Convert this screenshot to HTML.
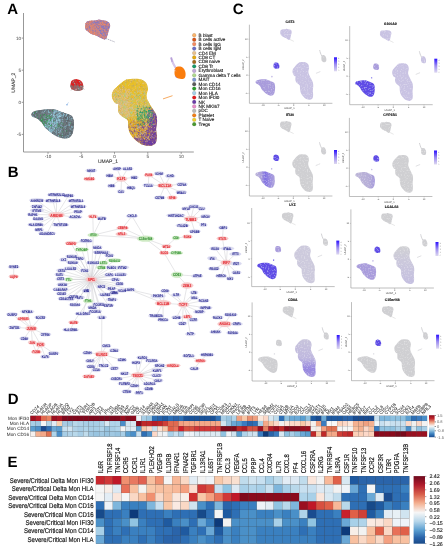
<!DOCTYPE html><html><head><meta charset="utf-8"><style>html,body{margin:0;padding:0;background:#fff;}svg{display:block;font-family:"Liberation Sans",sans-serif;filter:blur(0.35px);text-rendering:geometricPrecision;}</style></head><body>
<svg width="446" height="550" viewBox="0 0 446 550">
<defs><path id="sTop" d="M85.1,26.8 C85.1,26.4 85.4,23.9 85.5,23.6 C85.6,23.3 86.5,21.9 86.7,21.7 C86.9,21.5 88.8,20.8 89.4,20.7 C90.0,20.6 95.1,20.6 95.7,20.5 C96.3,20.4 98.4,19.6 98.8,19.6 C99.2,19.6 101.5,20.2 102.0,20.3 C102.5,20.4 106.2,20.7 106.7,20.9 C107.2,21.1 109.2,22.5 109.4,22.8 C109.6,23.1 110.2,25.6 110.2,26.0 C110.2,26.4 109.1,29.4 109.0,29.9 C108.9,30.4 108.0,33.3 107.9,33.8 C107.8,34.3 106.9,37.4 106.7,37.8 C106.5,38.2 105.0,39.7 104.7,39.7 C104.4,39.7 101.7,38.4 101.2,38.2 C100.7,38.0 97.8,36.4 97.3,36.2 C96.8,36.0 93.7,34.8 93.3,34.6 C92.9,34.5 91.3,34.0 91.0,33.8 C90.7,33.6 88.1,31.8 87.8,31.5 C87.5,31.2 85.7,29.8 85.5,29.5 C85.3,29.2 85.1,27.2 85.1,26.8Z"/><path id="sGray" d="M31.4,114.0 C31.6,113.3 32.1,112.6 33.0,112.0 C33.9,111.4 35.0,111.0 37.0,110.6 C39.0,110.2 42.0,109.7 44.8,109.5 C47.6,109.3 51.4,109.0 53.8,109.3 C56.2,109.6 57.4,110.5 59.4,111.2 C61.4,111.9 64.0,112.7 66.1,113.4 C68.1,114.2 70.5,114.7 71.7,115.7 C72.9,116.7 73.0,118.2 73.4,119.6 C73.8,121.0 74.0,122.3 74.0,124.0 C74.0,125.7 73.7,128.0 73.4,129.7 C73.1,131.4 73.0,132.8 72.3,134.1 C71.6,135.4 70.7,136.8 69.5,137.5 C68.3,138.2 66.7,138.6 65.0,138.6 C63.3,138.6 61.3,138.2 59.4,137.5 C57.5,136.8 55.5,135.7 53.8,134.7 C52.1,133.7 50.6,132.3 49.3,131.3 C48.0,130.3 46.8,129.4 45.9,128.5 C45.0,127.6 44.4,126.6 43.7,125.7 C43.1,124.8 42.6,123.7 42.0,122.9 C41.4,122.1 40.6,121.4 39.8,120.7 C39.0,120.0 38.0,119.1 37.0,118.5 C36.0,117.9 34.5,117.7 33.6,117.3 C32.8,116.9 32.3,116.8 31.9,116.2 C31.5,115.7 31.2,114.7 31.4,114.0Z"/><path id="sBig" d="M121.5,82.8 C122.9,81.7 124.2,80.5 125.5,79.9 C126.8,79.3 127.7,79.4 129.0,79.2 C130.3,79.0 131.6,78.8 133.6,78.8 C135.6,78.8 139.0,78.8 141.1,79.4 C143.2,80.0 144.8,81.0 145.9,82.5 C147.1,84.0 147.9,86.5 148.0,88.6 C148.1,90.6 146.7,93.0 146.6,94.8 C146.5,96.6 146.4,97.3 147.3,99.5 C148.2,101.7 150.5,105.2 152.0,107.7 C153.5,110.2 155.2,112.2 156.1,114.5 C156.9,116.8 157.1,118.9 157.1,121.4 C157.1,123.9 156.1,127.0 156.1,129.5 C156.1,132.0 156.9,134.1 156.8,136.4 C156.7,138.7 156.6,141.6 155.5,143.2 C154.4,144.8 152.3,145.7 150.0,145.9 C147.7,146.1 144.4,145.6 141.8,144.5 C139.2,143.4 136.4,141.1 134.3,139.1 C132.2,137.1 130.5,134.6 129.5,132.3 C128.5,130.0 128.5,127.5 128.2,125.5 C127.9,123.5 128.6,121.6 127.5,120.0 C126.4,118.4 122.9,117.2 121.4,115.9 C119.9,114.7 119.2,113.9 118.6,112.5 C118.0,111.1 118.0,109.1 118.0,107.7 C118.0,106.3 119.1,105.1 118.6,104.3 C118.1,103.5 116.2,103.9 115.2,103.0 C114.2,102.1 113.1,100.3 112.5,98.9 C111.9,97.5 111.7,96.2 111.8,94.8 C111.9,93.4 112.3,92.1 113.2,90.7 C114.1,89.3 115.9,87.9 117.3,86.6 C118.7,85.3 120.1,83.9 121.5,82.8Z"/><path id="sRed" d="M70.6,84.0 C70.8,83.0 70.9,81.7 71.5,81.0 C72.1,80.3 73.0,79.8 74.0,79.6 C75.0,79.3 76.4,79.3 77.5,79.5 C78.6,79.7 79.7,79.9 80.5,80.5 C81.3,81.1 82.1,82.0 82.6,83.0 C83.1,84.0 83.3,85.4 83.3,86.5 C83.3,87.6 83.1,88.8 82.5,89.5 C81.9,90.2 80.7,90.6 79.5,90.8 C78.3,91.0 76.8,90.9 75.5,90.6 C74.2,90.3 72.8,89.8 72.0,89.2 C71.2,88.6 70.7,87.9 70.5,87.0 C70.3,86.1 70.4,85.0 70.6,84.0Z"/><path id="sOr" d="M175.2,68.5 C175.6,67.4 176.1,67.1 177.0,66.8 C177.9,66.5 179.4,66.3 180.4,66.5 C181.4,66.7 182.4,67.2 183.2,68.0 C184.0,68.8 184.8,70.3 185.2,71.5 C185.6,72.7 185.7,73.9 185.6,75.0 C185.5,76.1 185.2,77.3 184.6,78.0 C184.0,78.7 183.0,78.9 182.0,79.0 C181.0,79.1 179.5,78.9 178.5,78.6 C177.5,78.3 176.5,77.8 175.8,77.0 C175.1,76.2 174.6,74.9 174.5,73.5 C174.4,72.1 174.8,69.6 175.2,68.5Z"/><path id="sTail" d="M171,57.5 C172,61 173,64 176,68.5" fill="none"/><path id="sPlt" d="M163,98.9 L172.5,95.7" fill="none"/><path id="sTopTail" d="M106,38.5 L114.8,42" fill="none"/><clipPath id="cBig"><use href="#sBig"/></clipPath><clipPath id="cGray"><use href="#sGray"/></clipPath><clipPath id="cTop"><use href="#sTop"/></clipPath><clipPath id="cRed"><use href="#sRed"/></clipPath><filter id="bz" x="-50%" y="-50%" width="200%" height="200%"><feGaussianBlur stdDeviation="3"/></filter><filter id="bl" x="-5%" y="-5%" width="110%" height="110%"><feGaussianBlur stdDeviation="0.3"/></filter></defs>
<text x="7.2" y="14.3" font-size="15" font-weight="bold" fill="#000">A</text>
<text x="7.8" y="176.8" font-size="15" font-weight="bold" fill="#000">B</text>
<text x="232.8" y="14.3" font-size="15" font-weight="bold" fill="#000">C</text>
<text x="7.8" y="404.3" font-size="15" font-weight="bold" fill="#000">D</text>
<text x="7.6" y="467" font-size="15" font-weight="bold" fill="#000">E</text>
<g stroke="#8c8c8c" stroke-width="0.9" fill="none"><path d="M23.5,13 V152 H193.8"/>
<path d="M21.7,38.1 H23.5"/>
<path d="M21.7,70.2 H23.5"/>
<path d="M21.7,102.3 H23.5"/>
<path d="M21.7,134.4 H23.5"/>
<path d="M48,152 V153.8"/>
<path d="M81.2,152 V153.8"/>
<path d="M114.5,152 V153.8"/>
<path d="M147.8,152 V153.8"/>
<path d="M181.2,152 V153.8"/>
</g>
<g font-size="4.6" fill="#444" text-anchor="end">
<text x="21" y="39.7">10</text>
<text x="21" y="71.8">5</text>
<text x="21" y="103.89999999999999">0</text>
<text x="21" y="136.0">-5</text>
</g><g font-size="4.6" fill="#444" text-anchor="middle">
<text x="48" y="157.6">-10</text>
<text x="81.2" y="157.6">-5</text>
<text x="114.5" y="157.6">0</text>
<text x="147.8" y="157.6">5</text>
<text x="181.2" y="157.6">10</text>
</g>
<text x="108" y="162.6" font-size="5" fill="#333" stroke="#333" stroke-width="0.08" text-anchor="middle">UMAP_1</text>
<text transform="translate(15.2,82.7) rotate(-90)" font-size="5" fill="#333" stroke="#333" stroke-width="0.08" text-anchor="middle">UMAP_2</text>
<g filter="url(#bl)">
<use href="#sTop" fill="#b07c9c"/>
<g clip-path="url(#cTop)">
<path stroke="#e8764c" stroke-width="0.8" stroke-linecap="round" d="M96.5 30.9h0M105.3 25.7h0M97.2 31.1h0M89.7 22.7h0M88.4 26.9h0M102.3 37.7h0M95.6 35.5h0M97.6 32.0h0M101.7 28.5h0M103.1 23.9h0M89.9 32.0h0M103.7 35.9h0M93.0 25.9h0M105.3 24.8h0M87.6 24.6h0M91.1 21.9h0M103.2 33.8h0M97.1 24.8h0M104.9 28.0h0M95.3 21.1h0M96.0 31.0h0M94.5 32.9h0M98.9 23.3h0M103.0 31.1h0M106.8 31.5h0M92.6 33.1h0M107.2 27.3h0M99.4 29.7h0M94.6 33.2h0M104.3 31.3h0M91.6 20.7h0M109.9 25.8h0M98.2 24.7h0M94.4 26.8h0M94.6 20.9h0M88.7 23.7h0M96.7 26.3h0M105.1 24.7h0M92.7 24.5h0M104.4 35.4h0M88.8 25.9h0M98.0 25.8h0M91.1 25.2h0M88.8 31.5h0M104.8 33.7h0M107.6 31.2h0M89.9 28.6h0M105.3 27.5h0M101.5 29.0h0M93.1 34.2h0M109.5 26.8h0M105.0 36.4h0M103.5 20.8h0"/><path stroke="#7b78d0" stroke-width="0.8" stroke-linecap="round" d="M96.8 29.8h0M89.7 29.9h0M105.0 21.5h0M96.7 28.5h0M98.1 32.5h0M106.2 33.8h0M104.3 27.6h0M95.1 21.1h0M104.1 22.0h0M105.1 23.2h0M96.3 23.4h0M90.4 27.5h0M90.5 24.8h0M105.8 31.6h0M86.8 24.2h0M106.5 31.9h0M89.5 27.0h0M101.1 29.3h0M87.0 30.6h0M107.7 34.4h0M105.0 38.0h0M99.5 32.2h0M107.2 34.2h0M103.5 31.3h0M106.1 21.3h0M97.2 24.2h0M88.5 29.6h0M92.0 23.0h0M102.9 31.1h0M96.3 32.3h0M105.4 38.9h0M93.8 33.6h0M100.5 34.8h0M88.4 28.7h0M107.9 27.2h0M103.2 36.0h0M93.8 21.3h0M98.9 35.0h0M89.4 26.3h0M88.6 22.6h0M103.3 36.5h0M92.4 34.2h0M98.2 36.6h0M92.9 27.3h0M107.7 23.8h0M99.5 23.6h0M99.2 29.5h0M107.7 29.2h0M102.3 26.1h0M100.7 21.7h0M94.5 27.9h0M89.1 23.7h0M101.1 30.2h0M107.4 22.3h0M106.0 28.1h0M88.3 27.7h0M85.5 23.6h0M88.0 29.8h0M98.9 29.9h0M96.8 30.0h0M96.5 34.5h0M90.0 22.9h0M105.2 33.8h0M100.9 27.7h0M103.8 35.2h0M107.2 33.6h0M104.3 27.8h0M85.4 26.7h0M101.8 26.4h0M99.4 30.3h0M103.6 24.8h0M108.4 22.8h0M89.3 29.6h0M95.7 30.2h0M94.3 25.3h0M99.2 25.3h0M107.8 28.2h0M109.5 24.5h0M96.2 33.0h0M104.8 32.2h0M91.9 33.4h0M100.0 32.3h0M91.9 28.1h0M98.9 32.3h0M95.8 24.8h0M93.3 30.6h0M108.2 28.2h0M99.3 29.3h0M87.0 23.9h0M87.2 25.7h0M90.0 30.9h0M98.7 36.4h0M98.0 30.5h0M105.3 20.9h0M101.0 22.5h0M104.3 30.1h0M102.0 29.5h0M101.8 36.8h0M101.2 30.1h0M105.2 28.1h0M86.7 28.8h0M92.2 23.1h0M92.9 30.6h0M108.0 26.5h0M105.2 27.3h0M97.0 27.1h0M106.9 30.0h0M98.5 22.6h0M90.3 30.5h0M92.8 29.0h0M93.6 27.5h0M91.5 23.6h0M102.9 23.2h0M95.8 29.9h0M104.3 36.1h0M104.9 32.9h0M101.4 21.7h0M97.9 35.4h0M100.4 22.8h0M107.8 30.6h0M97.7 22.4h0M108.4 26.9h0M98.7 30.9h0M100.2 22.1h0M91.1 31.1h0M92.8 33.1h0M94.7 31.5h0M88.7 27.4h0M99.4 26.3h0M100.2 29.0h0M100.8 33.5h0M106.1 36.8h0M98.3 30.2h0M103.3 37.7h0M96.3 29.7h0M101.8 37.0h0M105.3 24.1h0M95.1 26.8h0M107.7 25.8h0M102.6 38.4h0M91.0 33.0h0M105.3 21.4h0M99.1 32.6h0M101.6 35.3h0M96.2 35.1h0M105.0 24.3h0M90.7 31.3h0M97.6 28.3h0M99.4 30.5h0M86.2 25.9h0M98.3 24.9h0M102.4 36.3h0M86.2 29.4h0M99.0 24.5h0M108.5 26.9h0M86.1 27.7h0M86.6 26.5h0M96.7 27.5h0M94.7 21.1h0M108.6 26.8h0M107.2 26.1h0M98.1 20.7h0M92.9 28.1h0M90.5 33.5h0M94.7 26.2h0M92.1 22.8h0M97.0 23.0h0M95.7 22.6h0M102.7 30.7h0M97.5 31.4h0M99.3 24.9h0M89.8 29.0h0M109.1 26.9h0M100.8 32.1h0M95.5 25.2h0M89.9 24.2h0M97.5 32.7h0M100.8 30.9h0M109.4 26.3h0M107.3 25.9h0M105.8 22.8h0M93.3 23.2h0M86.8 21.7h0M87.9 28.7h0M97.2 22.9h0M91.5 29.8h0M103.1 26.2h0M104.2 36.5h0M99.3 28.1h0M100.7 36.3h0M88.2 27.2h0M102.4 28.0h0M98.7 29.3h0M106.2 25.3h0M94.9 33.6h0M99.3 22.5h0M92.0 24.2h0M97.3 27.9h0M95.0 20.8h0M105.4 35.5h0M99.6 24.2h0M94.4 32.8h0M103.7 23.8h0M90.6 27.8h0M89.6 25.1h0M100.6 37.4h0M100.9 29.7h0M102.4 28.7h0M100.2 31.1h0M96.3 31.5h0M108.5 22.7h0M97.4 24.3h0M105.9 35.6h0M105.4 28.7h0M106.8 23.5h0M101.3 21.1h0M105.2 36.8h0M105.1 22.7h0M100.9 37.2h0M100.9 25.2h0M103.6 26.8h0M95.3 22.5h0M95.4 28.8h0M108.7 26.6h0M107.0 25.4h0M94.8 34.5h0M96.4 20.9h0M92.5 33.6h0M107.6 24.7h0M106.4 31.5h0M103.2 33.1h0M96.9 26.9h0M93.0 33.1h0M105.9 32.7h0M96.7 27.7h0M105.5 34.3h0M93.9 30.4h0M98.0 25.5h0M90.6 28.7h0M98.3 27.8h0M93.4 29.4h0M95.0 25.6h0M97.1 26.8h0M96.4 20.6h0M86.6 30.2h0M94.4 25.9h0M109.2 26.9h0M94.4 25.7h0M99.9 25.9h0M105.1 28.2h0M95.2 25.3h0M106.0 26.2h0M105.7 35.4h0M103.6 28.0h0M90.4 27.9h0M106.2 22.1h0M97.0 20.2h0M97.5 33.5h0M104.6 21.7h0M93.8 22.9h0M99.9 30.1h0M99.5 36.5h0M105.8 27.2h0M96.0 32.0h0M104.0 21.7h0M102.6 31.0h0M103.1 25.4h0M92.3 25.2h0M107.0 22.8h0M106.6 31.8h0M103.5 30.3h0M103.4 38.6h0M102.3 36.8h0M98.2 21.2h0M97.6 23.6h0M99.2 22.3h0M97.4 31.5h0M105.9 33.4h0M99.7 34.8h0M105.0 39.2h0M91.7 31.4h0M93.5 33.2h0M93.4 34.2h0M104.7 26.4h0M94.6 25.4h0M103.7 29.2h0M102.1 37.3h0M108.9 28.7h0M88.2 30.2h0M99.3 34.9h0M104.2 38.2h0M89.1 26.2h0M100.2 36.6h0M89.2 23.1h0M97.6 32.7h0M99.7 28.0h0M92.3 23.0h0M102.4 26.6h0M97.6 25.0h0M97.6 29.3h0M109.5 25.2h0M97.7 28.2h0M108.8 29.4h0M105.1 33.9h0M105.2 23.1h0M100.7 22.1h0M101.1 29.5h0M90.8 32.7h0M102.5 30.0h0M91.9 23.4h0M102.3 38.5h0M106.7 30.4h0M101.2 27.9h0M88.2 28.3h0M104.2 30.8h0M98.3 23.4h0M86.5 22.6h0M91.9 34.1h0M101.4 33.8h0M96.0 21.7h0M88.3 28.2h0M103.8 27.7h0M106.5 29.4h0M106.8 29.8h0M102.9 28.6h0M104.5 28.7h0M107.2 28.7h0M104.8 27.7h0M103.7 25.6h0M101.9 28.3h0M100.5 24.0h0M99.7 36.1h0M94.9 31.5h0M104.2 34.6h0M91.4 33.8h0M92.0 31.0h0M97.5 23.0h0M107.5 32.9h0M100.3 28.9h0M109.0 26.7h0M87.0 25.6h0M102.4 36.3h0M92.0 26.8h0M85.7 27.1h0M88.1 21.3h0M103.6 24.9h0M102.8 33.7h0M107.1 24.0h0M93.0 28.5h0M90.7 24.1h0M105.9 38.0h0M89.4 26.7h0M107.0 24.2h0M101.8 33.6h0M96.8 25.4h0M107.4 34.8h0M101.7 33.5h0M95.5 27.4h0M96.9 30.2h0M105.1 32.1h0M106.1 33.3h0M103.8 28.7h0M106.1 21.1h0M96.0 34.9h0M99.7 23.1h0M99.1 21.6h0M93.2 24.8h0M89.7 32.4h0M99.2 27.3h0M91.1 25.4h0M101.9 32.2h0M97.4 27.3h0M109.8 27.1h0M89.6 29.7h0M106.3 32.1h0M88.9 31.0h0M99.8 27.5h0M92.2 25.5h0M89.8 27.5h0M103.7 37.0h0M88.7 27.7h0M92.1 26.1h0M109.9 24.9h0M102.5 23.4h0M101.1 20.9h0M90.9 29.3h0M95.5 23.3h0M86.0 28.8h0M102.3 30.6h0M94.4 21.9h0M89.2 20.9h0M88.3 31.7h0M93.7 22.0h0M103.4 37.4h0M99.7 36.9h0M109.6 25.4h0M97.1 24.9h0M88.4 31.8h0M92.4 28.8h0M97.2 27.6h0M95.7 31.7h0M103.9 20.9h0M90.5 28.6h0M93.5 22.5h0M108.1 23.8h0M97.8 22.4h0M104.2 26.4h0M102.6 34.2h0M105.8 29.6h0M100.1 31.9h0M95.4 27.0h0M93.9 26.7h0M105.2 33.2h0M93.0 21.6h0M108.2 25.7h0M88.0 22.5h0M105.4 21.4h0M87.5 21.5h0M101.3 29.1h0M101.9 22.8h0M95.5 30.0h0M102.4 31.1h0M92.9 28.4h0M99.3 25.2h0M98.8 21.5h0M86.8 25.0h0M99.9 33.0h0M98.2 23.7h0M88.6 23.6h0M94.6 22.8h0M93.9 24.4h0M103.2 35.2h0M96.5 33.4h0M88.5 31.5h0M103.6 25.7h0M94.0 29.1h0M86.4 27.9h0M107.2 26.8h0M104.8 30.8h0M93.7 34.7h0M103.3 33.1h0M98.5 31.2h0M104.0 32.0h0M104.0 29.4h0M103.5 37.3h0M92.0 21.2h0M98.3 20.3h0M93.6 21.7h0M96.3 25.1h0M97.0 28.3h0M101.2 31.8h0M87.4 23.8h0M91.0 24.5h0M103.1 29.1h0M106.2 36.7h0"/><path stroke="#a08cc0" stroke-width="0.8" stroke-linecap="round" d="M102.5 20.4h0M101.2 21.6h0M106.4 33.9h0M107.2 35.6h0M108.8 29.5h0M100.8 24.3h0M102.7 34.9h0M98.9 29.8h0M103.9 20.6h0M104.6 30.3h0M89.9 24.6h0M94.4 32.7h0M95.0 26.4h0M106.0 37.5h0M98.0 25.1h0M97.2 29.0h0M95.0 28.9h0M95.2 33.7h0M85.9 23.2h0M104.0 29.4h0M88.2 30.4h0M102.3 30.1h0M99.3 35.9h0M102.6 33.4h0M100.6 35.0h0M105.9 35.0h0M93.0 34.4h0M102.1 28.7h0M92.2 28.5h0M88.1 25.8h0M99.8 29.3h0M93.5 22.6h0M97.3 30.8h0M93.5 33.7h0M100.5 31.9h0M87.3 30.0h0M88.1 25.1h0M102.5 34.8h0M94.0 30.2h0M91.0 29.1h0M91.4 30.5h0M93.3 34.2h0M99.4 31.8h0M86.2 26.7h0M89.2 29.1h0M89.8 29.6h0M104.3 21.9h0M99.5 33.2h0M100.4 37.2h0M86.3 22.8h0M104.1 36.0h0M108.2 31.7h0M108.6 23.0h0M92.4 28.0h0M97.0 27.1h0M101.1 22.5h0M90.4 24.1h0"/><path stroke="#f08c64" stroke-width="0.8" stroke-linecap="round" d="M100.6 22.8h0M98.4 20.8h0M101.7 28.8h0M90.9 25.4h0M104.6 25.0h0M88.0 28.1h0M93.4 25.6h0M91.2 31.7h0M105.6 24.6h0M103.7 38.5h0M100.2 28.1h0M91.1 33.8h0M108.1 23.7h0M91.9 28.6h0M102.4 31.3h0M99.7 31.8h0M92.7 33.2h0M93.3 33.0h0M94.7 31.3h0M92.0 23.9h0M100.8 29.5h0M96.5 21.1h0M88.5 28.7h0M105.9 24.4h0M90.1 29.2h0M103.0 23.2h0M105.0 37.8h0M96.7 32.7h0M98.6 35.5h0M87.3 24.1h0M97.7 31.8h0M86.8 30.4h0M91.9 29.1h0M85.7 23.5h0M88.2 29.9h0M90.1 30.3h0M100.5 36.8h0M103.3 24.8h0M97.7 33.4h0M86.9 21.7h0M88.8 23.3h0M96.7 35.0h0M102.7 36.6h0M86.9 26.5h0M86.4 23.5h0M101.1 35.9h0M100.1 34.9h0M105.6 31.7h0M100.8 28.8h0M86.4 30.2h0M91.7 31.3h0M87.7 30.5h0M97.1 23.8h0M103.8 36.5h0M100.8 35.1h0M102.5 25.3h0M94.1 34.2h0M92.7 26.0h0M91.3 26.9h0M94.2 27.6h0M107.2 25.3h0M104.9 21.3h0M103.6 37.7h0M101.4 24.5h0M89.3 23.7h0M86.6 25.8h0M101.4 35.2h0M87.8 23.3h0M100.0 24.1h0M109.1 29.3h0M101.6 24.4h0M103.0 31.8h0M89.0 26.1h0M106.3 36.1h0M91.9 34.0h0M99.8 36.8h0M92.9 25.8h0M94.1 33.4h0M105.9 32.7h0M94.6 33.9h0M99.3 28.8h0M90.3 32.0h0M94.5 30.4h0M99.2 34.1h0M105.9 21.5h0M106.1 31.5h0M90.8 22.8h0M93.4 27.9h0M85.6 26.3h0M103.1 36.4h0M90.1 21.3h0M99.6 33.6h0M89.8 30.6h0M85.5 23.6h0M89.5 30.0h0M107.8 26.0h0M100.1 34.7h0M100.0 21.0h0M98.3 24.4h0M95.0 24.3h0M92.6 26.1h0M97.0 23.8h0M94.0 29.1h0M90.2 32.3h0M106.9 33.9h0M87.1 24.1h0M102.9 23.5h0M99.9 24.2h0M92.0 32.5h0M98.4 30.3h0M100.2 25.3h0M104.1 24.5h0M96.7 34.7h0M108.4 29.6h0M89.2 31.8h0M89.6 22.7h0M91.1 22.5h0M89.4 24.7h0M86.6 27.9h0M96.5 34.6h0M88.7 27.5h0M95.8 21.1h0M103.5 24.2h0M90.5 26.6h0M98.9 22.9h0M90.5 29.0h0M102.1 36.9h0M94.2 25.1h0M89.7 24.9h0M91.8 26.9h0M103.3 37.8h0M93.2 27.3h0M88.9 31.6h0M101.8 22.6h0M92.1 33.9h0M90.8 25.5h0M91.0 32.3h0M95.8 27.5h0M91.1 21.5h0M85.7 27.5h0M86.7 27.7h0M93.3 24.7h0M97.8 25.8h0M98.7 27.5h0M97.4 30.9h0M98.5 24.4h0M94.9 34.0h0M90.9 23.3h0M103.0 22.0h0M105.2 22.6h0M91.4 29.4h0M94.3 24.8h0M92.9 21.2h0M101.6 32.1h0M106.0 34.2h0M94.1 34.7h0M95.2 33.8h0M94.3 32.4h0M93.2 21.5h0M98.8 33.3h0M87.8 22.5h0M97.7 27.7h0M108.9 26.1h0M94.6 32.5h0M95.6 27.3h0M106.9 33.9h0M104.9 29.5h0M106.0 22.0h0M100.6 37.7h0M90.0 33.0h0M85.5 26.4h0M102.5 23.2h0M102.5 29.0h0M100.4 26.8h0M91.0 31.2h0M91.2 27.9h0M87.3 26.9h0M90.4 27.0h0M95.0 34.5h0M100.7 34.5h0M88.1 29.0h0M92.7 29.8h0M99.4 22.2h0M91.3 27.9h0M103.5 33.9h0M98.4 20.2h0M101.2 36.6h0M95.5 21.2h0M91.6 27.0h0M95.1 24.1h0M98.1 34.8h0M87.4 24.7h0M96.2 34.7h0M96.3 28.4h0M93.1 34.4h0M101.8 30.6h0M89.3 31.4h0M93.3 33.6h0M99.5 24.8h0M96.5 29.4h0M104.3 35.8h0M104.8 24.0h0M98.5 31.9h0M103.3 24.9h0M91.5 25.5h0M88.4 29.3h0M91.0 28.7h0M99.3 26.6h0M87.7 31.0h0M89.7 30.2h0M95.6 29.4h0M95.3 26.3h0M89.5 22.6h0M97.1 35.4h0M91.1 32.8h0M89.7 24.3h0M104.9 30.5h0M104.3 24.5h0M108.8 23.5h0M86.9 23.3h0M86.3 25.8h0M90.7 21.1h0M104.2 27.7h0M91.6 32.0h0M97.0 32.1h0M106.5 37.3h0M91.0 31.3h0M108.9 25.3h0M98.0 27.2h0M101.0 28.9h0M97.7 26.5h0M107.0 25.8h0M104.5 26.3h0M98.2 29.4h0M103.8 24.6h0M99.7 24.5h0M91.9 33.6h0M102.2 32.0h0M102.9 22.2h0M86.9 27.5h0M88.1 25.7h0M96.1 28.7h0M100.8 27.9h0M93.7 33.9h0M95.5 35.0h0M105.3 28.0h0M108.5 24.6h0M105.7 36.9h0M93.7 28.4h0M98.7 31.3h0M100.2 36.9h0M102.6 23.1h0M94.0 26.8h0M92.4 24.8h0M92.9 31.5h0M96.9 29.9h0M104.9 37.5h0M85.7 25.7h0M94.9 32.5h0M107.7 33.2h0M96.3 30.5h0M99.6 32.3h0M90.6 32.8h0M103.3 34.8h0M88.6 23.7h0M102.0 20.9h0M103.1 29.5h0M104.3 31.0h0M85.9 23.4h0M104.2 34.1h0M105.8 22.6h0M107.1 27.3h0M92.3 23.4h0M90.1 32.5h0M89.3 30.4h0M94.8 29.1h0M100.5 23.5h0M94.7 33.8h0M102.8 37.9h0M90.1 30.8h0M95.7 26.0h0M96.7 33.4h0M104.7 39.0h0M100.6 22.9h0M85.7 24.2h0M101.0 29.0h0M97.9 29.9h0M86.3 27.6h0M102.1 22.6h0M96.3 25.5h0M107.4 23.9h0M107.3 29.3h0M104.9 23.8h0M100.2 29.1h0M91.3 30.7h0M88.1 21.5h0M94.3 27.0h0M95.3 32.6h0M94.8 32.5h0M94.0 29.1h0M92.4 28.1h0M101.1 35.7h0M89.9 22.0h0M105.0 31.7h0M96.5 31.6h0M86.0 28.1h0M106.9 31.1h0M105.8 21.5h0M91.6 33.2h0M90.3 22.0h0M107.9 29.1h0M96.6 29.0h0M93.3 31.0h0M86.2 27.4h0M93.0 27.0h0M94.7 23.1h0M104.9 21.3h0M88.1 25.7h0M106.2 33.3h0M97.9 20.6h0M100.0 36.1h0M93.6 24.2h0M95.1 31.0h0M93.5 29.5h0M91.9 20.6h0M92.6 21.9h0M98.3 20.1h0M105.7 36.8h0M89.2 30.9h0M87.9 26.3h0M90.8 24.5h0M110.0 25.9h0M107.6 24.9h0M104.4 29.8h0M98.3 32.9h0"/>
</g>
<use href="#sTopTail" stroke="#9a9aac" stroke-width="0.8" stroke-dasharray="1.2 0.8"/>
<path d="M98.8,19.4 v1.2" stroke="#b8a8d8" stroke-width="0.8"/>
<use href="#sRed" fill="#cf3434"/>
<g clip-path="url(#cRed)">
<ellipse cx="78" cy="91" rx="7" ry="4" fill="#808080" filter="url(#bz)" opacity="0.95"/>
<path stroke="#e41a1c" stroke-width="1.0" stroke-linecap="round" d="M77.8 80.3h0M81.2 89.0h0M79.4 83.7h0M73.1 84.6h0M77.5 80.7h0M75.6 82.3h0M73.3 84.2h0M82.2 87.1h0M78.4 83.5h0M71.4 87.0h0M76.4 79.7h0M82.0 84.0h0M75.6 82.6h0M71.7 83.0h0M73.0 85.5h0M82.0 82.8h0M77.2 82.5h0M71.3 83.4h0M80.4 81.3h0M78.5 86.3h0M82.9 85.3h0M73.3 82.9h0M77.9 80.4h0M79.7 85.5h0M76.2 79.8h0M79.2 80.8h0M79.5 83.2h0M77.9 84.2h0M78.0 80.2h0M73.5 82.0h0M70.9 85.1h0M81.1 85.5h0M77.4 80.1h0M75.0 80.4h0M73.1 84.4h0M78.9 80.6h0M71.2 84.5h0M75.5 88.5h0M73.0 84.9h0M77.6 80.5h0M75.8 80.1h0M72.0 86.8h0M80.8 88.8h0M74.4 81.1h0M80.8 81.9h0M74.0 86.5h0M72.4 85.9h0M76.4 80.4h0M76.4 84.5h0M72.4 84.7h0M78.1 82.4h0M73.1 81.8h0M78.8 83.0h0M71.8 88.3h0M80.2 82.6h0M77.5 85.4h0M77.6 82.2h0M76.3 81.5h0M71.6 82.1h0M73.1 81.7h0M77.2 81.4h0M78.3 82.8h0M79.3 81.9h0M75.3 84.4h0M80.5 84.4h0M79.0 85.8h0M82.9 84.9h0M77.0 83.5h0M79.6 81.4h0M72.6 83.5h0M77.4 84.8h0M77.5 89.3h0M78.8 85.0h0"/><path stroke="#7a7a7a" stroke-width="1.0" stroke-linecap="round" d="M71.3 87.8h0M76.2 87.1h0M79.8 88.6h0M81.6 86.4h0M79.2 89.8h0M78.7 89.3h0M78.1 89.1h0M72.1 86.3h0M80.9 88.2h0M78.1 89.3h0M71.4 87.1h0M74.6 87.0h0M81.8 88.7h0M71.0 85.4h0M74.0 82.7h0M75.0 88.2h0M71.1 86.4h0M75.2 90.2h0M70.9 86.4h0M71.1 87.4h0M79.3 88.9h0M74.3 80.0h0M73.9 88.8h0M77.6 85.6h0M82.6 87.3h0M82.5 89.1h0M72.7 87.7h0M80.8 86.3h0M72.2 86.2h0M79.2 88.6h0M82.2 88.9h0M76.6 90.6h0M80.2 89.5h0M79.2 90.3h0M81.0 87.9h0M80.6 85.9h0M75.9 81.1h0M78.3 89.3h0M72.5 82.6h0M78.0 86.8h0M77.7 84.1h0M70.7 86.0h0M78.4 89.8h0M74.1 86.4h0M80.2 82.4h0M79.2 89.6h0M82.7 86.1h0M71.0 86.4h0M82.4 88.9h0M83.0 86.3h0M78.5 86.1h0M75.4 85.9h0M78.7 89.3h0M75.2 84.4h0M77.6 87.2h0M74.3 86.0h0M78.2 86.6h0M78.0 90.5h0M77.5 88.2h0M83.2 86.5h0M78.1 87.6h0M78.2 86.7h0M79.1 87.5h0M76.2 86.7h0M80.6 86.3h0M82.7 86.3h0"/><path stroke="#b0b0b0" stroke-width="1.0" stroke-linecap="round" d="M78.3 88.6h0M81.1 86.6h0M74.7 83.5h0M80.8 83.3h0M80.1 89.0h0M82.8 88.0h0M73.6 81.3h0M76.0 89.3h0M76.0 89.0h0M76.1 89.5h0M79.7 81.6h0"/>
</g>
<path d="M72,89 l-1,1.5 M83,88 l1.2,1.6" stroke="#999" stroke-width="0.6"/>
<circle cx="67" cy="104.7" r="0.8" fill="#7aa8e0"/><path d="M67.3,104 l1.2,-1.6" stroke="#9cc0e8" stroke-width="0.6"/>
<use href="#sGray" fill="#69737a"/>
<g clip-path="url(#cGray)">
<ellipse cx="52" cy="123" rx="6" ry="14" transform="rotate(-35 52 123)" fill="#8ec4d4" opacity="0.6" filter="url(#bz)"/>
<ellipse cx="47" cy="121" rx="3.5" ry="3" fill="#4aa060" opacity="0.4" filter="url(#bz)"/>
<path stroke="#5a646a" stroke-width="0.8" stroke-linecap="round" d="M38.2 116.1h0M71.9 131.1h0M43.1 110.2h0M32.2 114.1h0M70.2 129.0h0M47.3 123.4h0M70.8 123.4h0M52.3 132.9h0M67.1 132.3h0M52.4 121.0h0M42.2 121.1h0M51.8 130.9h0M64.1 116.2h0M39.3 111.3h0M69.1 118.6h0M62.3 137.8h0M53.5 120.0h0M66.9 114.5h0M52.5 133.2h0M56.4 130.2h0M68.6 114.6h0M71.6 123.0h0M37.8 116.7h0M57.3 128.6h0M47.5 119.1h0M49.0 126.7h0M72.2 119.5h0M60.1 112.0h0M39.0 118.2h0M43.6 112.6h0M53.7 131.5h0M34.8 113.4h0M54.4 113.8h0M62.6 126.9h0M50.3 129.2h0M54.4 129.3h0M49.6 124.7h0M62.6 134.5h0M66.8 128.4h0M53.1 122.8h0M42.8 114.8h0M62.9 118.3h0M57.9 128.0h0M58.2 116.0h0M31.8 114.4h0M63.9 117.2h0M68.8 119.4h0M50.1 115.6h0M54.9 118.7h0M43.4 122.9h0M66.5 115.3h0M50.6 110.8h0M65.2 119.8h0M58.1 113.1h0M65.8 124.9h0M45.1 110.8h0M68.5 118.0h0M34.8 111.6h0M55.5 114.3h0M34.4 113.3h0M50.5 114.4h0M40.8 121.3h0M57.1 116.3h0M67.8 115.5h0M72.6 127.6h0M34.3 116.4h0M70.8 135.3h0M46.4 114.4h0M71.5 118.1h0M34.4 115.5h0M66.3 136.4h0M63.5 117.9h0M43.3 112.3h0M45.1 113.7h0M60.6 133.2h0M64.4 130.9h0M49.1 119.1h0M36.8 117.2h0M35.4 117.6h0M45.7 119.6h0M62.8 120.1h0M48.8 130.5h0M33.1 116.3h0M60.6 135.3h0M39.4 118.5h0M45.7 121.9h0M40.4 118.6h0M50.1 115.8h0M72.5 127.9h0M70.5 133.8h0M67.7 114.4h0M45.1 110.7h0M66.2 123.3h0M43.9 112.1h0M55.1 131.1h0M70.4 125.3h0M66.1 135.2h0M69.0 137.4h0M64.7 137.0h0M55.7 130.0h0M64.7 130.2h0M58.3 135.2h0M62.7 130.9h0M48.8 123.6h0M69.8 120.2h0M58.4 121.9h0M44.8 119.0h0M46.5 127.5h0M68.3 117.3h0M57.9 116.1h0M68.7 134.2h0M46.0 112.0h0M56.9 128.5h0M56.5 129.7h0M35.1 112.7h0M59.9 131.0h0M53.1 109.8h0M32.8 112.7h0M71.0 126.1h0M36.3 117.7h0M67.8 133.7h0M63.6 114.1h0M59.4 127.6h0M52.4 132.8h0M60.8 121.1h0M66.6 129.2h0M72.5 129.8h0M40.2 120.1h0M72.4 123.7h0M54.1 114.2h0M60.4 124.4h0M63.0 127.4h0M38.5 118.0h0M63.8 120.8h0M70.6 135.1h0M70.4 115.9h0M57.7 119.5h0M51.4 128.0h0M46.8 119.4h0M47.1 110.4h0M36.4 118.2h0M61.1 133.8h0M68.0 131.6h0M61.6 124.4h0M44.3 124.1h0M59.4 117.4h0M41.5 118.9h0M44.7 109.8h0M54.1 132.5h0M45.5 118.3h0M64.3 128.3h0M61.4 135.0h0M68.9 125.4h0M56.9 131.2h0M69.0 131.8h0M50.4 117.0h0M69.0 129.5h0M59.0 134.1h0M70.8 121.3h0M64.5 127.0h0M65.3 113.6h0M62.6 128.4h0M54.2 109.7h0M69.2 130.3h0M63.9 125.7h0M71.1 121.3h0M46.0 127.2h0M43.8 120.5h0M33.1 115.6h0M46.6 109.8h0M62.1 130.1h0M60.0 134.7h0M62.9 129.7h0M64.2 123.5h0M53.7 131.4h0M55.8 117.7h0M58.0 115.9h0M66.8 117.8h0M68.4 121.2h0M67.9 129.2h0M62.9 119.8h0M50.0 110.7h0M64.3 136.7h0M40.4 120.2h0M37.1 118.5h0M64.2 130.5h0M53.8 121.2h0M62.3 126.0h0M45.1 118.9h0M66.2 129.1h0M61.7 135.2h0M35.0 113.1h0M70.9 125.9h0M58.4 124.0h0M50.4 124.0h0M38.0 114.5h0M62.9 128.4h0M55.7 113.2h0M38.9 112.2h0M67.9 125.0h0M53.8 126.1h0M73.4 125.3h0M66.8 134.1h0M70.9 133.1h0M45.2 115.4h0M55.3 122.5h0M65.5 127.7h0M59.3 116.6h0M58.5 134.4h0M38.4 116.9h0M60.6 112.4h0M72.0 127.7h0M62.0 124.2h0M50.0 110.0h0M44.2 114.0h0M72.7 125.4h0M67.0 131.6h0M59.9 129.1h0M69.9 118.5h0M61.9 119.8h0M73.7 122.3h0M32.2 114.0h0M64.0 127.7h0M37.2 115.3h0M59.3 130.4h0M66.5 119.7h0M72.7 122.7h0M37.8 116.3h0M42.4 117.2h0M50.1 122.6h0M43.1 123.4h0M36.0 113.1h0M72.5 126.7h0M65.7 117.0h0M44.5 124.4h0M47.9 112.7h0M68.6 135.5h0M63.1 136.4h0M67.8 121.0h0M59.7 127.5h0M39.8 114.8h0M60.7 119.8h0M37.7 116.3h0M71.4 116.2h0M49.1 111.1h0M36.5 116.8h0M63.3 126.6h0M48.0 128.4h0M47.6 110.0h0M49.1 115.3h0M64.0 129.6h0M54.7 132.7h0M51.4 127.7h0M58.6 126.8h0M65.4 125.3h0M66.1 130.1h0M36.7 113.6h0M62.4 138.0h0M72.6 128.3h0M73.0 124.6h0M41.5 120.6h0M52.1 117.8h0M52.6 110.2h0M43.6 120.4h0M70.9 131.9h0M32.5 115.7h0M66.2 129.0h0M65.3 134.8h0M66.8 121.0h0M45.2 126.7h0M69.0 130.2h0M54.1 133.8h0M70.9 132.8h0M60.9 135.7h0M52.6 127.8h0M56.0 129.6h0M54.4 120.9h0M67.0 131.5h0M54.4 118.7h0M32.3 113.7h0M46.3 110.0h0M44.3 112.6h0M42.4 120.1h0M66.0 114.8h0M42.3 114.8h0M63.4 130.7h0M58.7 132.8h0M45.0 124.4h0M62.1 127.0h0M54.6 117.5h0M73.5 128.5h0M67.5 126.4h0M65.0 115.5h0M57.5 135.0h0M70.1 117.3h0M45.4 113.2h0M56.2 111.7h0M43.7 119.8h0M41.6 116.2h0M69.2 117.0h0M53.8 122.8h0M44.6 119.9h0M56.8 135.6h0M72.7 128.2h0M40.4 120.8h0M47.4 120.1h0M64.6 116.7h0M60.2 135.4h0M69.3 123.6h0M67.4 120.5h0M64.1 124.2h0M58.5 135.5h0M64.4 129.3h0M57.0 117.0h0M56.6 129.5h0M59.1 133.4h0M36.5 115.5h0M41.9 117.4h0M45.2 113.1h0M67.1 114.3h0M59.9 124.0h0M63.4 133.9h0M39.7 113.2h0M72.3 131.4h0M48.3 125.4h0M33.9 114.9h0M72.9 123.1h0M55.0 133.7h0M52.7 129.0h0M62.6 132.0h0M37.5 115.5h0M64.1 117.6h0M38.0 118.2h0M45.6 118.0h0M73.3 127.5h0M47.0 117.4h0M68.8 117.5h0M64.6 118.2h0M50.2 115.4h0M70.9 135.6h0M44.9 119.2h0M62.1 121.9h0M63.6 132.1h0M65.2 131.2h0M59.5 125.1h0M63.1 115.3h0M38.1 115.5h0M49.0 119.2h0M72.9 129.9h0M64.2 133.7h0M67.3 126.9h0M49.7 127.1h0M63.6 120.3h0M69.3 122.1h0M59.9 121.7h0M67.9 115.4h0M65.7 113.8h0M60.7 127.5h0M54.4 115.5h0M59.7 131.1h0M65.3 117.3h0M62.3 119.5h0M45.1 120.0h0M43.1 114.7h0M58.1 117.5h0M70.8 126.1h0M64.9 132.9h0M62.8 122.6h0M72.0 132.0h0M66.0 117.0h0M41.9 116.9h0M68.0 130.2h0M72.9 128.8h0M55.7 131.9h0M50.4 112.7h0M44.8 119.8h0M70.7 119.4h0M46.2 118.0h0M48.8 115.6h0M39.6 113.7h0M60.5 122.9h0M71.7 120.1h0M67.2 123.6h0M40.6 119.2h0M66.9 133.6h0M46.8 119.7h0M71.6 131.1h0M51.1 131.4h0M46.5 123.4h0M50.9 119.6h0M56.5 122.1h0M49.5 123.4h0M47.9 116.7h0M49.7 118.4h0M64.6 121.6h0M64.1 117.5h0M66.0 122.8h0M65.0 126.2h0M64.6 127.9h0M71.2 131.8h0M49.7 121.1h0M46.9 119.7h0M46.8 115.0h0M68.0 115.5h0M45.4 118.6h0M52.2 125.7h0M70.6 134.8h0M50.8 116.5h0M42.7 115.3h0M46.1 120.1h0M59.6 133.9h0M40.3 120.7h0M52.4 132.6h0M67.0 133.7h0M68.8 120.4h0M57.8 125.9h0M45.9 119.7h0M43.1 119.9h0M66.3 131.5h0M42.8 123.8h0M35.8 117.7h0M53.1 132.5h0M65.6 116.6h0M38.7 115.9h0M55.7 126.8h0M67.6 115.5h0M68.1 124.6h0M60.7 134.6h0M51.9 124.3h0M65.4 115.7h0M57.2 130.0h0M56.7 132.0h0M73.3 120.6h0M60.9 125.9h0M61.0 135.1h0M43.3 112.8h0M47.5 116.4h0M65.8 131.2h0M42.9 120.9h0M63.5 119.9h0M66.1 116.2h0M57.6 134.1h0M58.9 133.3h0M67.2 135.1h0M66.9 133.6h0M67.1 136.7h0M39.3 119.3h0M52.3 124.4h0M66.2 122.6h0M41.2 111.2h0M66.8 131.2h0M67.9 119.9h0M70.9 135.0h0M40.7 110.4h0M43.9 123.8h0M72.6 119.2h0M71.9 124.5h0M66.8 118.4h0M70.8 118.1h0M59.5 136.2h0M70.5 132.5h0M50.2 111.3h0M63.1 132.6h0M68.1 119.0h0M69.3 124.4h0M56.9 130.5h0M38.0 118.8h0M37.5 117.5h0M70.3 130.4h0M62.0 116.7h0M47.2 119.1h0M41.8 115.5h0M49.5 123.4h0M34.7 115.2h0M56.9 131.7h0M60.4 132.7h0M52.5 131.2h0M58.6 113.4h0M71.6 125.5h0M40.4 110.6h0M36.7 114.4h0M73.2 120.1h0M65.0 131.7h0M52.0 127.0h0M59.0 136.3h0M47.3 122.0h0M72.4 124.0h0M46.4 114.8h0M46.5 128.1h0M62.8 132.8h0M41.2 111.9h0M54.0 130.7h0M49.9 110.5h0M52.8 113.9h0M66.1 118.6h0M56.8 111.6h0M53.3 112.5h0M53.1 111.5h0M62.6 127.3h0M61.4 123.5h0M64.0 117.6h0M43.7 115.1h0M69.6 132.0h0M40.8 121.4h0M44.5 123.5h0M39.1 111.0h0M42.1 111.3h0M39.3 111.0h0M67.1 121.8h0M68.3 114.3h0M54.1 129.7h0M68.2 124.5h0M55.1 118.5h0M33.4 115.5h0M70.7 119.2h0M46.1 117.6h0M34.8 114.4h0M58.7 129.3h0M52.8 131.6h0M44.6 123.3h0M69.1 128.6h0M71.7 121.3h0M65.8 118.5h0M57.8 119.8h0M40.2 110.3h0M33.6 112.3h0M57.6 110.9h0M41.1 115.2h0M61.3 135.2h0M66.5 125.5h0M70.7 123.2h0M59.4 128.8h0M65.6 135.3h0M51.3 113.7h0M64.2 134.7h0M46.4 113.3h0M47.7 115.1h0M36.6 116.1h0M39.0 113.2h0M41.5 111.4h0M32.3 115.8h0M55.6 116.7h0M63.4 119.7h0M58.7 124.5h0M61.7 114.2h0M57.6 134.8h0M64.2 128.1h0M61.4 117.8h0M66.3 122.4h0M73.5 120.6h0M68.4 130.0h0M41.0 117.5h0M58.2 118.3h0M68.7 124.2h0M57.1 134.2h0M42.5 114.4h0M49.6 114.5h0M67.0 122.9h0M69.6 115.1h0M53.1 121.8h0M66.1 137.7h0M41.8 118.7h0M68.6 132.8h0M58.3 131.2h0M62.2 115.9h0M65.4 133.9h0M38.8 110.7h0M46.3 118.2h0M71.4 133.0h0M55.6 115.0h0M45.8 120.3h0M66.8 125.2h0M34.0 112.4h0M50.5 114.2h0M67.2 122.1h0M47.5 119.4h0M50.0 113.5h0M34.7 113.5h0M49.1 113.6h0M61.4 124.9h0M68.1 126.0h0M52.6 110.7h0M69.2 120.8h0M68.6 136.0h0M39.9 111.4h0M71.6 121.6h0M49.4 110.6h0M72.2 118.0h0M44.4 122.7h0M68.9 136.7h0M50.1 117.1h0M34.3 112.6h0M41.5 120.5h0M63.5 121.2h0M44.9 118.2h0M35.7 114.0h0M72.4 133.2h0M63.7 125.8h0M68.8 130.5h0M55.3 128.4h0M43.9 113.2h0M36.0 116.0h0M70.0 132.5h0M42.8 116.3h0M54.2 111.5h0M63.9 138.4h0M43.5 118.8h0M70.4 132.6h0M64.2 131.4h0M36.7 111.9h0M32.8 112.5h0M56.9 122.5h0M46.2 117.9h0M68.5 115.0h0M67.7 118.6h0M66.8 135.6h0M70.6 133.2h0M50.5 118.4h0M49.1 130.9h0M65.6 129.8h0M56.5 124.5h0M53.4 120.6h0M51.7 128.4h0M40.7 120.3h0M56.4 133.2h0M33.9 113.1h0M58.6 124.0h0M69.9 122.8h0M57.1 135.8h0M60.0 126.0h0M42.3 112.7h0M47.3 113.5h0M36.5 117.0h0M63.5 120.6h0M45.4 111.0h0M52.6 133.6h0M37.3 115.9h0M43.6 115.9h0M39.1 119.3h0M66.7 117.3h0M44.5 121.3h0M63.4 112.6h0M57.2 135.8h0M71.8 117.8h0M66.6 122.1h0M65.5 131.8h0M65.6 117.4h0M58.5 134.6h0M69.2 120.0h0M57.9 126.1h0M68.4 121.9h0M48.1 111.8h0M51.0 131.4h0M58.2 134.9h0M70.3 135.0h0M60.3 126.9h0M49.3 130.4h0M67.3 117.6h0M40.5 112.3h0M41.7 120.8h0M49.8 115.6h0M52.0 110.3h0M71.4 122.0h0M55.4 133.8h0M68.1 124.6h0M60.9 134.4h0M66.6 134.4h0M71.7 129.0h0M65.0 117.9h0M39.6 116.4h0M61.7 136.5h0M42.5 115.1h0M70.1 126.0h0M42.3 120.5h0M50.3 119.6h0M53.5 116.1h0M59.7 130.4h0M65.4 125.0h0M42.7 117.1h0M68.5 135.9h0M65.6 132.0h0M57.4 132.1h0M71.7 130.3h0M58.2 131.6h0M43.3 120.5h0M58.6 134.0h0M55.2 130.9h0M68.6 128.7h0M72.1 122.6h0M55.4 120.2h0M67.0 115.1h0M60.5 133.1h0M43.1 117.0h0M53.3 122.0h0M70.3 135.9h0M63.5 112.6h0M68.5 131.2h0M57.6 133.1h0M58.5 118.2h0M43.2 121.2h0M51.2 122.0h0M45.1 123.2h0M67.8 115.8h0M72.7 126.8h0M72.5 118.4h0M41.9 115.7h0M67.4 134.3h0M52.8 110.2h0M60.6 129.6h0M61.3 136.5h0M54.2 131.6h0M36.4 112.5h0M56.3 124.5h0M62.4 135.0h0M56.6 129.3h0M63.6 129.5h0M54.7 128.4h0M63.9 135.4h0"/><path stroke="#767f85" stroke-width="0.8" stroke-linecap="round" d="M49.4 126.9h0M54.7 119.1h0M61.8 122.1h0M59.0 134.3h0M56.4 112.0h0M50.8 124.2h0M39.7 117.0h0M50.4 113.6h0M71.6 122.6h0M59.5 136.3h0M44.9 124.7h0M58.2 112.8h0M47.1 109.7h0M65.5 127.0h0M53.7 126.8h0M58.5 125.8h0M64.3 129.5h0M41.9 112.3h0M54.8 127.1h0M41.6 118.2h0M63.6 131.8h0M50.4 128.4h0M66.7 121.5h0M43.3 109.9h0M71.4 129.0h0M59.8 113.4h0M71.3 130.5h0M63.9 127.7h0M54.9 116.8h0M69.7 119.5h0M68.9 130.0h0M46.9 118.9h0M50.5 117.3h0M62.2 123.8h0M53.0 124.6h0M43.9 112.6h0M53.6 117.8h0M50.0 127.2h0M59.5 136.5h0M52.3 124.3h0M39.0 115.1h0M53.4 110.4h0M59.1 122.9h0M62.6 131.2h0M67.1 134.0h0M59.1 133.7h0M55.2 130.5h0M64.9 131.4h0M57.2 127.0h0M53.7 118.2h0M62.8 132.7h0M73.2 120.4h0M70.5 119.2h0M53.0 132.2h0M56.3 121.0h0M57.9 115.1h0M39.4 114.5h0M58.7 113.5h0M61.0 134.7h0M57.0 127.3h0M55.0 116.1h0M47.7 119.9h0M50.5 123.4h0M65.6 119.7h0M64.5 119.6h0M62.3 129.6h0M60.8 136.2h0M59.5 125.4h0M48.3 129.2h0M57.6 127.3h0M68.6 122.0h0M72.5 117.8h0M62.9 137.3h0M34.0 111.7h0M65.0 125.8h0M33.6 115.1h0M50.0 111.8h0M67.0 122.1h0M51.5 126.3h0M50.7 116.7h0M45.8 115.1h0M66.9 133.8h0M46.3 113.0h0M65.3 131.0h0M56.0 113.0h0M65.1 130.4h0M48.8 117.9h0M33.8 116.1h0M61.8 119.4h0M51.2 110.4h0M69.0 131.9h0M71.6 128.1h0M70.3 123.0h0M39.2 119.7h0M58.0 120.7h0M43.8 116.0h0M46.1 123.2h0M37.2 115.2h0M32.1 113.7h0M67.4 118.6h0M72.8 131.6h0M61.3 121.7h0M71.3 122.0h0M44.3 115.7h0M68.6 124.8h0M66.3 124.5h0M66.2 114.9h0M70.1 115.6h0M50.3 121.4h0M71.9 118.7h0M49.0 111.2h0M38.3 116.0h0M68.0 116.3h0M59.5 111.4h0M72.5 132.2h0M52.8 113.0h0M39.8 120.4h0M41.0 111.5h0M70.2 134.3h0M57.4 124.3h0M65.5 125.2h0M68.2 128.1h0M62.1 130.0h0M43.7 123.7h0M70.5 122.3h0M46.9 124.8h0M44.4 123.2h0M42.5 117.9h0M62.9 119.7h0M38.3 116.0h0M69.8 127.8h0M49.6 126.8h0M69.9 123.4h0M54.7 125.3h0M71.5 125.8h0M46.9 122.7h0M47.0 110.1h0M44.9 117.3h0M72.7 126.3h0M59.4 117.0h0M71.4 117.0h0M66.6 114.5h0M51.4 123.2h0M57.1 131.2h0M48.5 125.4h0M46.7 116.5h0M46.0 124.4h0M46.4 119.9h0M38.3 113.5h0M56.2 111.1h0M42.2 114.8h0M62.9 132.8h0M54.8 134.0h0M47.4 120.0h0M55.0 116.1h0M46.9 123.5h0M63.1 136.6h0M72.3 133.2h0M53.6 129.5h0M53.5 114.5h0M44.0 113.7h0M65.9 129.3h0M39.7 115.1h0M50.0 109.9h0M38.5 116.5h0M42.6 112.4h0M44.8 117.4h0M46.6 127.8h0M60.5 133.8h0M73.5 122.9h0M68.1 122.8h0M51.5 124.6h0M53.6 117.2h0M59.4 117.3h0M73.7 125.5h0M50.1 118.1h0M60.9 119.6h0M40.4 114.6h0M65.2 125.2h0M64.4 128.3h0M59.8 131.5h0M43.0 122.1h0M69.3 115.7h0M73.5 121.0h0M47.6 114.5h0M43.7 123.5h0M61.4 126.0h0M57.4 123.8h0M42.7 119.7h0M67.0 129.7h0M70.8 120.1h0M72.7 127.5h0M52.7 132.1h0M44.3 109.7h0M71.1 121.0h0M54.2 125.1h0M43.0 116.0h0M54.9 116.5h0M65.7 123.4h0M37.9 116.1h0M64.9 124.0h0M44.4 120.9h0M55.3 128.9h0M59.7 135.3h0M59.7 125.2h0M50.1 126.9h0M63.6 122.2h0M46.7 123.5h0M45.5 114.4h0M69.7 128.2h0M64.3 114.3h0M71.8 126.1h0M36.6 114.9h0M32.5 115.1h0M59.9 111.5h0M39.7 118.0h0M61.7 121.5h0M55.3 129.6h0M53.9 110.5h0M54.9 115.6h0M63.2 128.1h0M67.3 113.9h0M35.4 114.3h0M38.8 119.5h0M58.2 119.5h0M57.2 126.1h0M48.9 109.7h0M60.2 123.7h0M41.1 112.6h0M64.3 138.2h0M64.7 118.0h0M73.0 119.2h0M58.5 125.2h0M57.1 115.3h0M62.0 115.4h0M70.5 123.0h0M63.5 116.5h0M56.1 130.1h0M63.8 117.3h0M32.7 114.8h0M59.4 129.4h0M45.9 122.2h0M68.0 132.4h0M50.0 111.7h0M44.3 122.8h0M69.2 121.8h0M69.5 126.7h0M40.8 115.5h0M51.2 111.8h0M46.8 119.0h0M65.0 132.6h0M69.0 125.8h0M54.8 122.4h0M36.5 116.7h0M35.2 113.7h0M40.3 117.1h0M55.3 125.1h0M46.5 123.1h0M66.7 113.9h0M65.3 132.8h0M36.7 117.2h0M72.4 122.4h0M55.0 114.1h0M42.9 116.7h0M60.7 131.1h0M39.8 113.5h0M48.2 128.5h0M72.7 120.9h0M64.6 118.5h0M52.9 131.2h0M70.1 119.9h0M54.8 127.2h0M70.2 115.4h0M61.6 130.8h0M66.7 114.8h0M39.7 118.8h0M64.6 130.1h0M51.8 114.3h0M39.7 114.1h0M52.0 130.0h0M60.0 113.2h0M60.6 136.5h0M45.5 114.5h0M53.9 116.6h0M64.4 130.2h0M65.2 116.3h0M39.4 116.2h0M43.9 109.7h0M47.9 122.8h0M57.6 127.6h0M66.7 136.9h0M55.4 124.5h0M68.3 118.8h0M69.5 126.5h0M72.7 123.2h0M40.3 120.2h0M47.1 117.6h0M71.0 130.0h0M47.2 113.9h0M61.4 125.7h0M55.4 115.4h0M37.4 110.8h0M59.3 114.2h0M62.6 133.6h0M70.7 125.6h0M41.7 115.1h0M70.3 134.9h0M65.8 122.8h0M68.5 121.7h0M55.7 132.3h0M37.7 114.8h0M63.4 128.2h0M59.1 128.2h0M68.1 136.4h0M64.8 127.8h0M49.7 128.0h0M47.7 112.7h0M48.7 109.8h0M64.8 124.5h0M51.8 116.2h0M43.2 116.6h0M61.2 124.3h0M46.2 128.0h0M44.2 115.5h0M68.5 116.0h0M70.4 121.6h0M43.2 113.3h0M40.4 117.6h0M57.3 126.5h0M67.5 132.2h0M61.7 134.8h0M72.5 118.5h0M63.9 128.9h0M59.8 116.8h0M49.8 115.7h0M40.1 120.6h0M64.1 134.6h0M38.1 114.8h0M73.4 127.8h0M45.2 109.8h0M40.5 110.8h0M56.3 128.1h0M62.5 112.8h0M47.3 109.6h0M72.0 126.7h0M64.8 138.2h0M45.4 114.6h0M62.9 121.2h0M67.2 117.0h0M61.7 134.4h0M56.8 133.9h0M70.7 135.9h0M61.8 114.5h0M66.6 134.4h0M57.8 134.4h0M72.1 120.6h0M57.6 119.2h0M64.8 123.7h0M40.1 110.7h0M51.9 121.8h0M71.4 129.0h0M69.6 123.0h0M36.2 116.4h0M65.6 123.0h0M59.2 134.2h0M33.0 116.8h0M44.6 118.9h0M34.6 114.2h0M70.4 126.0h0M51.4 110.1h0M51.1 120.6h0M50.6 112.8h0M62.4 133.9h0M53.4 128.0h0M61.8 116.5h0M68.7 124.9h0M61.6 124.4h0M52.3 115.4h0M40.2 117.9h0M59.7 133.4h0M61.0 116.1h0M44.0 113.6h0M61.2 120.3h0M45.1 120.9h0M70.1 115.4h0M45.9 110.8h0M66.0 125.9h0M63.3 120.1h0M42.0 120.8h0M35.3 111.5h0M46.8 116.6h0M51.0 130.5h0M57.1 130.8h0M42.2 110.0h0M72.4 122.3h0M49.6 122.8h0M63.1 116.7h0M50.3 109.8h0M67.7 135.7h0M49.6 126.1h0M52.2 124.4h0M54.2 134.9h0M65.5 123.1h0M57.6 133.4h0M36.0 116.9h0M63.1 122.5h0M72.3 130.5h0M52.8 114.3h0M45.9 117.8h0M58.1 135.0h0M66.3 136.1h0M71.1 118.3h0M64.6 133.7h0M70.3 120.2h0M69.2 132.2h0M45.2 124.2h0M64.9 125.5h0M35.9 113.9h0M47.4 129.3h0M59.1 117.5h0M54.1 117.9h0M69.4 135.7h0M64.5 133.6h0M52.8 124.4h0M62.6 132.7h0M44.5 116.5h0M52.7 112.5h0M69.5 136.3h0M59.6 134.8h0M59.4 117.2h0M48.2 113.1h0M50.9 110.3h0M55.8 130.4h0M73.0 118.9h0M68.8 119.0h0M64.1 120.4h0M43.7 119.1h0M66.8 115.1h0M36.8 116.3h0M36.1 118.0h0M45.8 126.0h0M62.1 135.0h0M50.7 112.6h0M67.3 121.6h0M47.0 125.3h0M70.2 123.9h0M44.6 121.5h0M48.4 119.5h0M60.9 120.2h0M36.3 115.8h0M56.1 125.9h0M51.7 115.8h0M61.2 120.3h0M65.4 115.8h0M41.8 115.5h0M61.8 124.8h0M69.4 125.9h0M56.9 132.3h0M67.9 116.3h0M61.6 134.7h0M44.4 120.6h0M46.8 112.3h0M49.8 120.2h0M41.8 118.5h0M70.1 124.3h0M47.8 115.5h0M33.1 114.5h0M46.3 113.2h0M67.5 124.3h0M57.1 110.7h0M65.3 131.7h0M66.5 115.1h0M37.8 112.6h0M62.0 128.4h0M61.8 115.1h0M47.9 116.2h0M48.2 114.0h0M32.0 114.4h0M70.8 116.6h0M61.0 132.5h0M55.4 117.7h0M63.9 122.1h0M53.4 111.0h0M41.2 112.8h0M70.9 123.5h0M37.6 117.2h0M53.4 123.5h0M41.5 112.7h0M49.8 130.2h0M63.3 113.5h0M49.3 123.7h0M63.1 123.3h0M55.8 126.6h0M38.8 117.6h0M64.3 121.4h0M35.8 117.3h0M59.5 115.7h0M52.0 124.2h0M37.3 116.5h0M73.4 119.8h0M52.1 129.1h0M53.5 127.5h0M55.4 125.4h0M53.9 116.8h0M67.9 116.2h0M49.6 113.3h0M34.4 113.4h0M55.2 132.6h0M51.8 132.0h0M63.1 119.8h0M52.7 131.7h0M59.4 125.3h0M68.8 133.2h0M48.9 118.6h0M68.2 129.2h0M53.3 130.1h0M49.6 114.0h0M65.4 114.1h0M60.8 136.7h0M37.3 117.8h0M67.7 137.0h0M39.8 111.0h0M59.7 134.6h0M58.6 132.9h0M47.4 126.6h0M45.9 114.5h0M72.5 121.0h0M59.0 137.1h0M65.1 119.6h0M53.8 126.4h0M57.2 112.2h0M70.1 115.9h0M60.5 133.7h0M50.8 124.9h0M66.2 114.8h0M58.3 129.5h0M58.4 116.2h0M58.3 136.0h0M60.7 137.2h0M57.3 135.2h0M56.6 110.6h0M69.2 128.3h0"/><path stroke="#8cc8dc" stroke-width="0.8" stroke-linecap="round" d="M57.8 123.2h0M50.1 121.0h0M53.7 125.4h0M60.7 116.0h0M50.4 125.1h0M53.2 113.6h0M56.8 121.9h0M54.9 112.4h0M50.5 121.9h0M51.3 119.6h0M62.8 121.1h0M60.5 114.5h0M58.3 113.6h0M68.8 125.2h0M59.2 119.4h0M67.8 137.7h0M55.5 111.8h0M51.1 122.4h0M65.0 126.5h0M47.0 126.5h0M65.0 136.9h0M54.0 112.0h0M36.5 112.3h0M54.3 115.5h0M65.9 126.8h0M52.7 118.4h0M62.2 126.5h0M72.0 127.9h0M56.9 127.3h0M46.5 109.5h0M61.9 112.7h0M54.4 123.6h0M57.5 123.8h0M44.9 125.7h0M59.3 127.8h0M61.6 123.4h0M63.6 115.9h0M65.3 128.3h0M61.3 125.4h0M67.5 118.7h0M49.4 122.8h0M52.8 127.9h0M58.2 114.5h0M49.6 129.2h0M52.4 121.3h0M56.7 110.7h0M45.2 126.1h0M66.9 114.5h0M60.2 119.9h0M49.4 129.6h0M58.3 136.3h0M51.9 120.6h0M59.8 112.1h0M59.1 115.4h0M57.3 125.0h0M53.2 127.4h0M56.0 126.1h0M44.3 125.3h0M62.5 134.3h0M69.7 134.0h0M54.8 122.0h0M55.9 115.5h0M58.7 111.4h0M58.8 119.9h0M59.1 119.5h0M50.4 112.9h0M60.5 113.1h0M59.3 121.9h0M54.2 119.5h0M61.1 129.4h0M51.5 125.5h0M62.2 119.1h0M44.9 124.4h0M58.5 130.1h0M37.1 117.3h0M47.6 125.8h0M62.0 115.4h0M58.1 117.5h0M55.3 123.8h0M62.0 117.2h0M54.1 110.6h0M52.7 118.5h0M60.9 119.8h0M63.6 114.7h0M33.3 116.4h0M51.8 130.7h0M51.8 129.6h0M66.1 115.9h0M59.3 131.1h0M51.0 115.2h0M45.1 126.3h0M69.3 125.6h0M53.6 117.7h0M56.6 120.7h0M53.3 130.1h0M48.4 111.8h0M56.5 130.1h0M50.9 129.9h0M66.4 115.2h0M66.1 136.1h0M62.1 115.8h0M58.0 111.4h0M54.5 123.8h0M52.9 123.9h0M47.8 120.6h0M58.5 132.5h0M48.7 111.7h0M50.5 124.3h0M51.3 131.6h0M70.0 128.9h0M56.1 123.5h0M69.4 124.4h0M48.9 115.5h0M52.5 122.0h0M43.8 122.4h0M56.9 119.2h0M45.2 110.4h0M47.2 123.2h0M47.9 129.4h0M45.8 126.4h0M48.5 128.3h0M63.8 115.6h0M59.0 116.5h0M49.2 119.6h0M54.7 122.4h0M65.2 137.9h0M57.2 115.3h0M56.6 122.0h0M57.7 127.3h0M70.4 129.1h0M55.1 122.1h0M62.3 136.5h0M46.7 121.6h0M49.3 130.2h0M58.6 116.5h0M49.4 129.2h0M58.1 111.4h0M54.1 117.4h0M60.3 112.5h0M36.9 111.1h0M72.6 127.1h0M56.9 115.3h0M53.3 112.6h0M54.2 115.9h0M43.9 117.0h0M68.8 123.9h0M52.6 119.1h0M63.5 115.2h0M33.5 113.5h0M46.3 127.1h0M71.8 126.8h0M48.9 122.3h0M49.5 125.5h0M50.5 122.5h0M48.3 110.6h0M52.8 130.6h0M50.2 129.6h0M57.7 117.2h0M54.1 111.1h0M53.2 114.9h0M56.5 119.9h0M56.5 111.8h0M57.0 116.8h0M52.1 121.5h0M57.7 114.1h0M49.4 127.5h0M58.5 119.2h0M53.1 127.2h0M53.6 115.6h0M44.0 123.7h0M59.5 113.6h0M57.2 123.8h0M61.1 116.1h0M51.0 128.2h0M53.0 121.4h0M56.8 128.6h0M50.5 126.3h0M52.2 130.2h0M60.6 131.8h0M46.9 124.6h0M45.7 118.3h0M54.6 116.6h0M52.4 121.6h0M62.9 117.2h0M54.8 113.5h0M54.5 129.0h0M71.2 118.5h0M51.6 114.1h0M49.2 119.5h0M50.7 125.1h0M51.1 114.7h0M62.0 123.8h0M46.5 125.4h0M56.7 121.0h0M50.7 132.1h0M67.3 119.3h0M69.9 119.9h0M66.2 119.3h0M53.1 128.2h0M71.7 119.9h0M47.7 126.8h0M50.1 131.3h0M48.2 130.3h0M57.5 117.7h0M55.2 118.1h0M59.6 112.0h0M53.2 129.8h0M66.6 121.3h0M56.3 133.9h0M51.6 118.2h0M43.1 120.9h0M45.8 126.8h0M57.1 119.9h0M48.1 126.9h0M50.4 130.4h0M56.0 110.8h0M71.6 126.8h0M68.0 135.5h0M48.9 115.3h0M48.7 112.4h0M49.8 119.6h0M52.7 125.0h0M58.5 120.6h0M47.2 128.0h0M50.6 124.5h0M54.6 112.0h0M72.1 130.0h0M60.4 121.2h0M56.6 124.5h0M55.2 118.1h0M56.4 125.9h0M52.7 125.0h0M51.7 129.9h0M63.5 113.6h0M58.6 116.9h0M54.7 122.4h0M50.4 125.3h0M57.4 115.1h0M54.9 112.6h0M35.3 115.3h0M60.5 125.1h0M47.0 121.7h0M45.7 120.3h0M48.6 122.3h0M60.0 115.9h0"/><path stroke="#a6d6e8" stroke-width="0.8" stroke-linecap="round" d="M65.7 116.2h0M56.4 131.3h0M54.9 126.9h0M54.2 128.9h0M59.8 116.7h0M49.4 122.7h0M58.1 112.1h0M56.2 111.8h0M52.9 124.1h0M59.8 132.9h0M70.0 132.5h0M54.6 128.5h0M62.8 119.7h0M70.2 134.3h0M47.4 117.5h0M65.2 130.9h0M50.6 123.4h0M51.1 131.6h0M55.0 117.2h0M66.9 125.5h0M60.4 116.2h0M32.6 116.2h0M50.7 115.5h0M59.8 120.3h0M52.9 131.7h0M56.4 120.5h0M48.7 125.9h0M44.3 118.1h0M55.7 125.9h0M54.0 114.8h0M49.5 120.4h0M60.3 130.4h0M59.2 120.4h0M59.4 116.8h0M62.8 121.9h0M38.9 119.9h0M58.3 116.9h0M51.7 114.5h0M52.5 120.1h0M45.4 124.5h0M56.1 132.6h0M59.5 116.5h0M49.2 123.1h0M49.8 130.9h0M59.0 114.0h0M52.5 122.5h0M66.3 114.7h0M57.3 116.8h0M58.3 135.6h0M58.3 118.6h0M67.7 117.5h0M49.4 128.3h0M64.2 114.5h0M72.1 118.2h0M53.5 115.3h0M54.8 109.7h0M44.7 111.5h0M59.5 115.4h0M54.0 116.7h0M55.6 126.1h0M52.7 120.6h0M55.0 111.4h0M61.2 114.9h0M53.5 125.3h0M54.2 113.6h0M57.5 120.8h0M54.8 131.3h0M57.5 122.5h0M45.8 127.0h0M54.2 112.6h0M53.3 115.0h0M56.8 121.9h0M49.5 131.0h0M53.7 118.6h0M70.0 116.4h0M49.3 131.0h0M41.4 119.4h0M43.8 112.8h0M60.4 116.4h0M42.2 112.0h0M45.8 126.3h0M64.1 127.1h0M48.9 125.3h0M52.7 119.9h0M48.1 126.8h0M60.1 121.8h0M68.3 136.1h0M70.3 122.9h0M50.7 127.1h0M47.5 123.7h0M47.6 127.5h0M33.2 112.7h0M48.8 126.3h0M69.6 117.8h0M59.2 120.0h0M52.2 127.2h0M51.7 123.1h0M58.2 115.9h0M54.3 124.4h0M56.2 122.5h0M49.7 112.6h0M53.3 122.5h0M59.4 113.4h0M48.9 121.8h0M47.0 122.1h0M48.8 120.7h0M55.8 110.0h0M51.6 132.3h0M69.1 122.6h0M59.2 122.1h0M56.7 114.6h0"/><path stroke="#2f9a48" stroke-width="0.8" stroke-linecap="round" d="M42.2 118.0h0M43.3 123.3h0M51.8 117.7h0M62.7 131.9h0M47.9 120.9h0M57.0 127.5h0M47.2 126.9h0M46.8 125.0h0M47.9 118.5h0M61.5 122.9h0M34.7 112.9h0M47.5 120.6h0M37.3 117.3h0M63.1 124.0h0M50.2 120.2h0M49.0 115.5h0M66.5 130.9h0M42.1 121.7h0M70.5 123.1h0M34.3 113.2h0M46.7 123.3h0M52.7 110.6h0M59.5 125.8h0M40.2 119.3h0M44.1 117.2h0M46.3 117.2h0M46.8 121.2h0M40.4 115.4h0M50.8 125.5h0M62.0 135.4h0M51.6 118.1h0M50.3 112.9h0M59.6 135.3h0M50.3 120.4h0M54.0 118.7h0M51.5 125.9h0M51.5 125.0h0M44.7 125.6h0M49.4 116.1h0M60.4 127.5h0M49.8 117.6h0M46.3 117.3h0M41.6 120.7h0M49.3 123.1h0M48.1 115.8h0M41.8 119.8h0M43.8 115.3h0M41.6 120.4h0M43.4 124.8h0M57.8 125.0h0M46.2 122.3h0M53.8 121.7h0M51.8 119.0h0M40.1 120.6h0M35.9 111.5h0M42.5 118.7h0M50.8 125.6h0M40.6 117.1h0M42.5 122.7h0M44.8 114.5h0M42.6 120.2h0M46.6 115.7h0M44.7 125.1h0M49.3 124.3h0M62.6 127.9h0M48.4 126.8h0M55.6 128.1h0M44.1 121.6h0M47.5 117.0h0M44.6 122.9h0M51.2 115.8h0M58.3 126.1h0M43.5 123.4h0M46.1 121.4h0M42.8 119.6h0M44.0 119.3h0M50.7 118.5h0M49.2 115.7h0M44.2 121.9h0M41.1 115.1h0M57.5 123.9h0M37.5 115.0h0M41.9 120.8h0M44.3 114.5h0"/>
</g>
<use href="#sBig" fill="#e4be3c"/>
<g clip-path="url(#cBig)">
<ellipse cx="121" cy="102" rx="8" ry="12" fill="#d4bc8c" opacity="0.85" filter="url(#bz)"/>
<ellipse cx="133" cy="108" rx="8" ry="6" fill="#cdbf86" opacity="0.6" filter="url(#bz)"/>
<ellipse cx="144" cy="116" rx="6" ry="6" fill="#3c9c80" opacity="0.7" filter="url(#bz)"/>
<ellipse cx="137" cy="129" rx="10" ry="7" fill="#d8a030" opacity="0.85" filter="url(#bz)"/>
<ellipse cx="156.5" cy="124" rx="4.5" ry="17" fill="#6a3aa8" opacity="1.0" filter="url(#bz)"/>
<ellipse cx="150" cy="142" rx="11" ry="6" fill="#6a3aa8" opacity="0.95" filter="url(#bz)"/>
<ellipse cx="150" cy="130" rx="4" ry="5" fill="#8a5a98" opacity="0.6" filter="url(#bz)"/>
<path stroke="#dea020" stroke-width="0.8" stroke-linecap="round" d="M138.4 94.1h0M128.8 126.5h0M134.2 124.3h0M155.9 135.2h0M120.2 111.4h0M150.9 126.3h0M136.7 102.3h0M135.4 115.0h0M149.7 129.6h0M150.4 135.2h0M141.7 98.0h0M134.2 125.2h0M132.4 132.8h0M133.5 130.4h0M130.3 118.1h0M139.1 105.7h0M149.4 143.0h0M130.5 121.5h0M127.2 89.0h0M137.0 118.5h0M140.3 120.0h0M139.9 133.2h0M143.5 120.5h0M130.5 119.3h0M151.4 140.9h0M132.8 121.4h0M130.7 113.6h0M121.1 86.5h0M155.4 126.9h0M135.8 127.5h0M130.1 102.8h0M133.5 122.1h0M152.2 120.5h0M144.9 128.7h0M139.1 124.2h0M132.2 116.8h0M137.6 87.7h0M154.7 124.5h0M147.0 119.9h0M149.8 143.8h0M147.1 123.3h0M124.7 100.0h0M128.8 121.2h0M129.9 88.7h0M121.4 87.2h0M147.5 133.1h0M144.0 121.2h0M135.7 137.9h0M131.7 126.7h0M134.6 136.5h0M145.1 126.5h0M149.1 119.2h0M132.5 122.1h0M146.9 130.9h0M146.9 132.7h0M149.1 136.2h0M151.1 138.2h0M138.6 134.9h0M143.1 118.9h0M140.0 136.1h0M139.2 141.6h0M147.6 132.8h0M143.9 126.1h0M156.7 123.2h0M147.0 142.2h0M153.7 129.8h0M141.1 132.6h0M134.9 111.5h0M139.3 141.3h0M136.1 139.2h0M145.2 136.9h0M146.6 136.7h0M148.0 122.1h0M145.1 107.7h0M137.7 126.7h0M120.7 112.6h0M142.4 114.8h0M138.1 96.3h0M142.6 121.6h0M122.6 83.8h0M140.5 132.2h0M137.8 118.8h0M132.1 124.5h0M135.2 136.3h0M134.4 133.8h0M139.7 135.5h0M130.5 119.7h0M146.0 96.7h0M139.4 129.0h0M132.0 121.9h0M127.9 122.7h0M135.3 120.8h0M143.4 129.3h0M141.2 126.4h0M135.4 132.8h0M130.6 129.6h0M155.9 135.4h0M143.0 116.7h0M125.1 92.0h0M133.7 112.2h0M134.0 124.1h0M153.9 143.2h0M145.9 128.5h0M142.5 122.8h0M135.4 124.4h0M129.6 101.4h0M139.3 128.2h0M141.2 133.5h0M132.6 136.4h0M133.4 128.5h0M139.9 131.4h0M149.4 126.5h0M133.1 136.3h0M135.5 89.6h0M132.9 135.8h0M144.7 108.7h0M145.2 120.7h0M150.1 125.9h0M151.0 135.7h0M140.7 132.6h0M138.0 93.4h0M129.7 94.5h0M152.2 126.6h0M140.8 143.6h0M132.5 135.2h0M141.8 122.6h0M143.6 97.2h0M145.7 132.2h0M142.4 123.1h0M129.6 125.4h0M144.8 134.4h0M135.8 138.7h0M136.1 135.9h0M129.3 86.2h0M134.2 119.5h0M151.0 118.6h0M151.3 131.2h0M146.6 139.6h0M140.2 126.9h0M146.4 91.6h0M127.2 112.0h0M140.8 141.7h0M128.3 123.6h0M134.1 138.0h0M143.4 137.6h0M138.3 125.9h0M144.8 125.0h0M134.5 98.0h0M143.6 104.3h0M152.0 135.3h0M149.2 130.1h0M134.2 131.1h0M117.6 86.4h0M144.6 122.5h0M132.8 83.9h0M154.0 140.3h0M129.3 126.2h0M138.3 120.3h0M129.3 89.2h0M138.9 91.0h0M136.2 129.8h0M137.3 136.4h0M147.7 89.7h0M143.5 133.7h0M145.9 121.6h0M152.9 118.9h0M150.4 138.7h0M144.0 126.0h0M126.9 92.4h0M144.4 119.4h0M135.3 126.1h0M118.7 88.2h0M124.2 107.6h0M136.5 127.5h0M136.3 134.1h0M148.5 145.3h0M131.0 122.4h0M131.5 122.8h0M130.9 132.3h0M126.5 101.1h0M142.2 129.2h0M127.2 99.5h0M155.0 120.4h0M137.1 118.6h0M152.3 128.2h0M140.3 131.7h0M143.5 130.9h0M130.8 127.9h0M145.1 128.1h0M140.7 143.0h0M134.9 121.5h0M131.8 133.8h0M140.1 125.5h0M136.9 138.8h0M140.6 134.9h0M144.9 119.7h0M134.4 135.6h0M115.9 97.3h0M154.4 117.9h0M135.4 87.1h0M146.3 118.5h0M130.6 126.8h0M137.4 117.4h0M144.5 89.4h0M135.9 122.7h0M139.7 141.1h0M115.2 97.4h0M136.1 134.8h0M145.4 143.7h0M118.3 105.9h0M135.5 139.9h0M128.7 126.6h0M154.8 137.1h0M138.3 135.3h0M119.6 98.0h0M148.6 118.9h0M136.9 125.9h0M135.8 125.4h0M131.1 96.9h0M151.0 127.4h0M139.4 83.0h0M128.0 122.2h0M137.2 140.9h0M137.4 134.4h0M122.2 110.2h0M141.6 126.2h0M142.6 132.5h0M137.0 133.8h0M138.7 141.4h0M148.1 119.9h0M131.3 120.8h0M148.6 106.6h0M150.6 128.4h0M143.0 141.1h0M135.5 139.6h0M134.2 136.3h0M147.6 123.3h0M134.7 114.1h0M146.7 125.8h0M133.6 119.8h0M135.4 120.4h0M119.7 109.6h0M140.1 141.9h0M138.8 107.8h0M131.5 126.3h0M121.0 108.7h0M140.5 84.4h0M145.1 131.4h0M141.2 131.2h0M149.1 135.4h0M136.3 119.2h0M145.5 138.6h0M118.3 107.8h0M156.3 132.8h0M134.6 106.5h0M147.8 133.2h0M152.8 128.4h0M128.3 121.5h0M130.1 123.2h0M129.6 125.0h0M144.6 122.6h0M151.6 135.6h0M146.5 135.5h0M136.9 123.8h0M130.0 130.0h0M140.7 126.8h0M133.3 134.3h0M136.1 119.2h0M134.0 124.1h0M152.1 126.5h0M134.6 121.8h0M135.6 134.8h0M139.1 124.2h0M145.8 139.8h0M141.2 126.1h0M142.6 120.8h0M133.9 124.9h0M118.8 96.5h0M131.1 134.3h0M151.5 139.0h0M156.6 137.0h0M132.7 87.2h0M142.0 88.2h0M129.5 128.2h0M149.4 135.6h0M152.7 139.6h0M141.8 129.4h0M140.0 86.7h0M127.5 120.1h0M149.1 123.0h0M149.1 139.4h0M129.9 120.4h0M133.3 128.4h0M143.6 115.9h0M142.1 119.1h0M131.8 130.4h0M155.3 136.0h0M147.1 109.6h0M142.9 119.0h0M132.4 106.3h0M143.1 114.9h0M133.3 118.2h0M148.7 118.6h0M130.7 133.8h0M130.3 127.0h0M144.9 129.2h0M126.8 100.8h0M131.8 125.2h0M138.4 124.3h0M139.9 89.2h0M133.5 120.6h0M128.6 118.1h0M131.5 126.5h0M154.2 132.7h0M129.4 122.0h0M142.5 92.8h0M140.4 137.8h0M140.3 136.4h0M143.1 143.8h0M154.0 139.2h0M135.2 135.4h0M134.7 131.0h0M145.4 141.6h0M132.0 126.5h0M134.4 117.9h0M147.6 121.2h0M146.8 133.3h0M139.6 131.4h0M138.7 124.1h0M145.3 86.4h0M122.3 83.1h0M142.6 140.5h0M138.4 140.0h0M130.5 131.2h0M146.4 129.5h0M115.7 93.0h0M140.2 121.4h0M145.1 137.0h0M133.1 135.8h0M133.4 126.3h0M144.9 138.2h0M132.0 122.6h0M140.6 127.7h0M134.8 137.1h0M134.1 118.4h0M134.0 134.3h0M149.0 133.6h0M134.0 130.7h0M144.5 139.5h0M154.6 131.3h0M149.6 142.4h0M131.0 125.7h0M132.6 97.6h0M147.7 137.7h0M131.1 118.8h0M140.7 126.0h0M155.2 121.1h0M141.3 143.7h0M129.8 129.9h0M143.8 131.9h0M139.7 125.2h0M151.0 135.0h0M122.0 101.8h0M154.7 126.6h0M144.7 83.0h0M139.5 84.6h0M126.9 88.1h0M132.9 135.7h0M140.2 130.2h0M142.2 124.7h0M143.3 119.0h0M136.2 128.2h0M148.5 129.6h0M151.1 132.2h0M151.0 127.6h0M128.1 84.0h0M132.9 124.8h0M155.2 134.2h0M122.6 114.9h0M139.9 85.6h0M138.3 135.5h0M130.9 120.1h0M142.1 141.3h0M116.0 96.4h0M150.4 129.8h0M132.5 121.8h0M134.5 124.2h0M143.2 135.3h0M139.5 137.8h0M139.2 129.5h0M139.4 136.4h0M131.2 133.7h0M146.6 129.2h0M139.8 121.0h0M130.6 118.6h0M128.3 122.3h0M153.5 133.9h0M136.5 126.3h0M146.9 125.0h0M150.8 140.1h0M142.9 135.5h0M140.6 125.0h0M146.7 130.6h0M141.4 125.1h0M131.3 86.7h0M144.6 122.4h0M140.0 141.5h0M152.4 130.7h0M146.4 125.9h0M141.5 130.6h0M150.4 124.4h0M133.5 129.7h0M127.4 89.6h0M124.5 112.3h0M154.7 129.9h0M144.9 122.2h0M148.6 123.5h0M148.2 126.2h0M149.3 139.1h0M129.2 114.7h0M121.6 88.9h0M133.0 124.3h0M137.7 80.2h0M148.4 121.1h0M145.7 127.8h0M140.6 136.6h0M142.4 133.3h0M144.4 138.3h0M147.2 127.1h0M140.0 128.8h0M132.9 81.9h0M142.7 131.2h0M121.8 94.4h0M136.6 134.9h0M141.7 142.4h0M145.4 135.3h0M143.1 119.3h0M121.6 91.3h0M148.2 122.2h0M154.2 137.2h0M131.2 124.4h0M129.8 121.5h0M144.7 128.1h0M132.0 131.3h0M143.6 117.9h0M143.3 86.1h0M128.7 120.7h0M136.6 124.1h0M119.2 87.0h0M135.3 137.9h0M137.1 126.1h0M122.9 89.5h0M153.5 132.2h0M150.7 130.9h0M147.8 138.8h0M153.5 143.4h0M136.7 105.1h0M137.4 135.6h0M133.5 133.0h0M133.8 124.6h0M132.7 110.8h0M125.5 108.7h0M139.8 141.9h0M135.0 124.8h0M147.9 127.8h0M154.6 125.0h0M145.6 145.0h0M145.5 122.1h0M133.6 125.5h0M154.4 138.6h0M139.2 133.5h0M151.3 127.5h0M147.9 132.6h0M150.9 126.9h0M127.8 98.4h0M131.3 127.5h0M142.6 123.7h0M144.6 85.2h0M137.7 128.6h0M148.4 105.0h0M131.8 114.4h0M143.6 119.0h0M143.2 137.9h0M119.7 112.6h0M142.2 132.3h0M121.0 102.5h0M141.6 126.0h0M133.1 119.8h0M137.9 107.0h0M130.3 127.3h0M149.8 138.4h0M131.3 90.5h0M130.7 91.8h0M128.7 127.4h0M137.7 96.8h0M150.6 131.0h0M130.2 105.5h0M146.7 105.3h0M156.0 123.2h0M116.1 103.1h0M145.3 115.6h0M131.2 81.5h0M135.0 138.3h0M122.3 102.2h0M136.4 84.8h0M137.0 140.6h0M154.4 135.5h0M134.7 125.9h0M131.4 116.6h0M138.1 118.5h0M144.5 125.3h0M132.0 128.0h0M149.8 139.1h0M142.7 122.9h0M133.1 134.6h0M135.5 110.0h0M124.4 98.9h0M143.3 130.9h0M148.9 129.0h0M154.2 123.3h0M148.8 140.8h0M139.9 125.1h0M146.6 130.7h0M138.8 102.4h0M142.7 130.8h0M140.8 136.1h0M130.1 129.2h0M130.4 122.7h0M144.6 135.9h0M139.9 123.9h0M127.1 100.2h0M136.0 116.1h0M141.8 126.6h0M153.2 141.3h0M143.0 124.0h0M143.2 111.3h0M130.7 115.7h0M141.5 136.3h0M149.3 125.0h0M146.6 121.8h0M127.3 119.3h0M133.7 118.1h0M154.0 117.9h0M137.2 122.9h0M140.0 89.2h0M135.7 118.1h0M148.6 133.6h0M149.9 133.1h0M137.5 122.5h0M148.3 133.4h0M148.6 135.8h0M134.9 132.0h0M141.0 84.3h0M142.6 126.1h0M132.1 118.6h0M148.6 137.8h0M141.4 120.0h0M147.7 129.7h0M126.3 90.7h0M151.4 114.3h0M128.7 125.9h0M147.5 133.1h0M136.7 113.4h0M135.5 124.3h0M137.5 137.6h0M128.4 123.0h0M152.3 129.3h0M142.0 138.1h0M131.8 123.5h0M144.5 138.9h0M141.4 144.1h0M136.2 135.7h0M145.5 109.6h0M138.3 141.9h0M133.1 121.7h0M137.4 113.1h0M133.5 112.2h0M129.4 118.8h0M136.7 111.3h0M152.5 140.1h0M134.2 127.3h0M144.6 111.5h0M137.4 130.2h0M143.0 140.3h0M123.2 81.7h0M142.5 101.3h0M136.5 133.6h0M135.6 123.9h0M119.3 102.7h0M135.0 128.5h0M143.5 124.3h0M147.8 126.6h0M139.9 135.1h0M140.3 86.3h0M146.0 117.5h0M137.2 125.9h0M143.4 97.4h0M136.6 91.8h0M144.3 135.5h0M132.5 128.0h0M139.8 90.2h0M144.3 127.5h0M146.3 133.3h0M140.4 130.5h0M134.0 136.3h0M142.0 85.1h0M134.5 129.3h0M155.0 127.0h0M135.9 124.0h0M129.9 131.3h0M137.2 123.2h0M143.1 84.5h0M140.9 136.6h0M132.9 123.7h0M138.2 123.9h0M134.7 86.2h0M143.2 138.1h0M145.6 127.1h0M138.2 137.9h0M140.0 121.6h0M143.0 138.0h0M139.0 130.8h0M142.3 137.7h0M144.7 128.6h0"/><path stroke="#eac12a" stroke-width="0.8" stroke-linecap="round" d="M139.2 98.5h0M120.7 110.7h0M142.2 82.7h0M116.2 89.1h0M151.3 117.9h0M129.6 86.4h0M135.6 80.7h0M126.0 99.7h0M133.3 90.1h0M147.1 115.4h0M131.8 90.1h0M130.2 91.9h0M135.5 118.8h0M129.8 94.6h0M125.6 81.3h0M121.3 97.0h0M138.8 96.1h0M138.8 81.8h0M132.6 103.8h0M151.3 106.9h0M135.0 84.7h0M131.6 116.3h0M141.2 88.5h0M136.5 125.8h0M133.1 106.4h0M138.8 129.4h0M122.0 107.9h0M126.3 85.1h0M142.0 102.5h0M145.6 93.8h0M149.1 110.6h0M144.1 111.2h0M145.7 91.2h0M125.0 91.7h0M156.4 118.6h0M138.8 101.0h0M114.1 94.9h0M124.3 105.3h0M139.2 105.6h0M127.6 84.5h0M129.0 120.2h0M133.0 91.7h0M131.8 99.8h0M133.9 88.8h0M140.5 82.3h0M131.2 79.2h0M121.6 87.3h0M120.0 97.9h0M130.9 115.5h0M136.0 86.4h0M118.4 95.7h0M127.7 104.6h0M137.7 90.3h0M135.9 119.6h0M147.8 89.1h0M143.7 89.4h0M127.3 98.1h0M149.1 103.3h0M140.1 83.8h0M146.2 122.8h0M117.9 89.8h0M140.1 85.9h0M132.6 106.4h0M142.2 92.9h0M137.6 102.3h0M143.7 85.2h0M128.4 96.2h0M122.3 94.8h0M147.1 105.0h0M143.2 84.8h0M140.7 80.1h0M124.0 85.4h0M128.8 85.7h0M126.2 89.2h0M123.7 108.0h0M120.3 86.2h0M139.4 92.5h0M127.0 82.2h0M139.6 90.5h0M141.5 106.1h0M139.3 93.0h0M130.3 83.8h0M144.4 92.8h0M141.8 83.9h0M124.5 84.9h0M146.7 92.2h0M146.1 100.7h0M140.7 97.3h0M138.3 107.8h0M129.0 102.1h0M129.2 80.2h0M123.6 85.8h0M133.2 114.0h0M119.3 105.4h0M130.1 97.5h0M128.1 115.9h0M122.7 87.3h0M149.8 114.9h0M131.2 92.9h0M129.6 101.3h0M128.7 84.5h0M137.9 96.9h0M138.6 94.2h0M128.8 80.2h0M121.5 100.1h0M119.3 91.3h0M126.8 93.2h0M130.6 85.9h0M114.9 99.8h0M137.6 82.8h0M142.0 89.4h0M136.5 103.2h0M147.4 129.3h0M144.3 104.3h0M122.3 86.2h0M124.6 84.1h0M128.7 105.0h0M137.3 100.4h0M135.4 106.8h0M116.5 93.0h0M135.4 95.8h0M127.2 83.5h0M123.8 91.8h0M135.7 98.6h0M123.4 95.0h0M119.9 96.6h0M135.4 115.1h0M126.2 80.0h0M141.9 81.4h0M123.3 97.7h0M130.1 82.7h0M130.7 79.9h0M126.3 84.4h0M140.9 96.0h0M135.6 96.6h0M137.1 92.7h0M125.0 84.9h0M138.7 106.1h0M148.6 105.2h0M144.5 106.0h0M138.4 102.7h0M119.6 101.7h0M136.0 95.7h0M134.4 114.1h0M145.4 84.5h0M142.2 105.0h0M134.1 84.5h0M129.3 81.0h0M126.6 79.7h0M140.0 113.8h0M134.3 87.8h0M116.4 89.2h0M146.5 87.9h0M142.3 90.5h0M122.9 87.0h0M135.5 81.2h0M143.5 81.7h0M138.0 80.0h0M135.5 114.6h0M119.7 86.3h0M122.6 107.4h0M149.9 106.9h0M118.4 99.6h0M128.3 119.8h0M122.7 92.8h0M137.6 124.3h0M125.1 118.0h0M139.3 84.4h0M134.4 101.9h0M123.6 81.9h0M122.0 103.4h0M135.2 83.9h0M144.8 106.4h0M125.9 85.1h0M143.3 128.6h0M135.6 81.5h0M121.5 105.6h0M128.0 98.0h0M137.0 124.8h0M145.8 97.7h0M145.7 96.0h0M131.4 111.6h0M136.9 102.6h0M149.8 110.7h0M135.6 84.1h0M133.0 82.7h0M139.9 104.4h0M128.5 82.4h0M124.6 93.0h0M131.3 107.1h0M114.1 99.9h0M131.4 86.9h0M146.7 92.0h0M126.8 81.8h0M142.8 84.2h0M143.0 110.1h0M122.2 101.0h0M128.5 87.2h0M119.2 105.4h0M139.0 105.5h0M129.9 103.0h0M128.4 123.8h0M137.6 87.7h0M146.8 89.3h0M142.3 88.4h0M130.5 90.5h0M133.1 88.1h0M127.2 87.1h0M131.0 86.4h0M145.3 85.5h0M132.4 113.7h0M143.6 85.9h0M133.3 99.8h0M145.9 97.2h0M129.4 87.2h0M140.9 83.9h0M116.5 102.3h0M131.4 110.6h0M131.2 117.1h0M146.9 121.0h0M132.9 82.1h0M133.8 119.5h0M132.6 91.2h0M121.1 85.7h0M124.6 108.5h0M125.3 88.1h0M128.4 124.9h0M132.1 100.1h0M141.2 92.2h0M141.0 97.1h0M131.7 89.0h0M122.2 111.3h0M138.0 96.0h0M121.8 109.7h0M137.4 113.0h0M122.3 82.4h0M140.7 114.6h0M137.3 90.2h0M136.2 89.9h0M133.8 81.2h0M147.5 89.1h0M146.0 92.2h0M140.2 103.7h0M127.8 115.7h0M127.3 106.3h0M135.6 89.4h0M144.5 94.1h0M130.7 98.4h0M132.4 85.4h0M132.3 110.7h0M120.2 84.5h0M115.7 97.0h0M122.9 91.1h0M129.9 84.3h0M128.1 93.5h0M119.3 93.0h0M143.4 82.0h0M145.5 83.5h0M131.6 99.9h0M114.6 96.1h0M134.4 89.6h0M125.4 88.9h0M145.1 96.7h0M125.3 107.5h0M127.8 88.0h0M123.2 87.4h0M144.6 90.7h0M154.5 118.1h0M132.1 91.9h0M133.2 89.9h0M123.3 84.6h0M132.3 92.7h0M121.7 116.0h0M141.7 103.5h0M143.8 108.9h0M140.5 83.3h0M147.9 101.9h0M130.7 115.3h0M147.1 111.3h0M123.9 105.3h0M129.3 88.3h0M146.1 85.0h0M131.0 103.9h0M150.2 111.0h0M118.5 85.6h0M125.5 82.1h0M149.9 116.8h0M137.4 107.8h0M128.5 82.5h0M140.5 103.0h0M145.7 89.5h0M125.1 83.5h0M131.6 83.8h0M133.5 96.9h0M118.0 88.7h0M136.1 106.8h0M143.5 85.3h0M144.4 93.3h0M123.6 102.1h0M130.0 110.0h0M139.1 80.3h0M139.1 98.5h0M132.3 113.9h0M148.3 118.6h0M146.2 106.9h0M127.4 86.5h0M129.4 85.6h0M141.4 115.8h0M141.2 79.9h0M132.8 103.1h0M137.3 86.2h0M133.7 103.0h0M141.9 85.4h0M145.4 126.9h0M131.7 80.9h0M133.5 90.7h0M146.7 88.2h0M126.5 89.7h0M139.0 104.9h0M120.7 103.8h0M124.2 83.2h0M133.2 106.8h0M143.4 88.8h0M145.3 96.5h0M126.6 116.4h0M119.2 97.6h0M139.3 94.9h0M143.9 85.6h0M112.9 98.0h0M127.4 116.7h0M145.1 93.4h0M137.2 89.8h0M138.7 120.3h0M135.1 102.7h0M131.7 97.2h0M142.5 93.2h0M144.2 99.4h0M113.3 97.0h0M119.9 96.0h0M116.6 94.3h0M134.8 106.4h0M119.1 100.1h0M142.3 96.0h0M142.5 86.0h0M123.7 110.7h0M130.9 84.0h0M126.8 83.0h0M130.0 100.8h0M126.0 102.0h0M133.3 106.1h0M143.1 87.3h0M122.8 88.1h0M117.7 97.3h0M130.8 87.7h0M119.9 97.7h0M137.7 86.2h0M144.2 110.1h0M138.2 105.7h0M140.8 112.0h0M146.6 91.8h0M125.2 87.9h0M135.9 86.8h0M144.9 114.3h0M145.7 89.7h0M121.5 104.0h0M119.8 108.3h0M128.0 85.9h0M138.0 95.8h0M135.6 80.6h0M139.9 100.2h0M142.1 127.9h0M147.7 106.5h0M145.2 92.9h0M133.2 88.3h0M129.8 80.1h0M125.9 87.6h0M140.3 81.5h0M133.3 83.2h0M122.0 88.9h0M128.0 106.4h0M132.5 88.9h0M139.9 85.3h0M127.7 85.8h0M122.9 91.3h0M144.9 83.2h0M148.6 118.4h0M132.7 84.9h0M140.7 85.4h0M113.2 97.1h0M143.8 84.9h0M154.6 141.1h0M147.0 92.4h0M126.6 95.1h0M121.3 114.5h0M124.8 81.0h0M132.7 82.7h0M124.5 112.7h0M135.4 88.7h0M143.5 91.7h0M129.3 92.9h0M137.2 82.3h0M138.3 82.4h0M133.0 92.9h0M143.4 106.4h0M130.4 109.9h0M123.3 88.1h0M134.2 85.5h0M139.7 97.0h0M130.5 95.0h0M129.4 94.5h0M129.9 99.1h0M124.4 117.5h0M147.6 103.4h0M146.7 110.3h0M135.5 101.2h0M145.5 85.6h0M126.5 91.0h0M141.5 93.9h0M138.9 82.6h0M127.0 81.9h0M151.3 113.3h0M123.6 88.9h0M132.1 84.8h0M116.1 88.3h0M126.2 80.6h0M123.7 108.5h0M124.4 116.2h0M122.1 87.9h0M116.7 92.1h0M123.3 86.6h0M125.0 93.3h0M140.2 109.6h0M121.0 96.0h0M123.7 83.0h0M134.6 117.3h0M128.5 91.9h0M131.8 87.7h0M132.3 107.0h0M145.1 96.9h0M130.6 96.3h0M138.8 94.5h0M139.9 94.7h0M142.1 96.4h0M141.7 86.8h0M146.2 110.1h0M138.4 91.6h0M123.4 113.3h0M127.9 100.3h0M138.9 82.3h0M127.3 81.9h0M150.1 114.5h0M146.0 91.8h0M138.7 86.3h0M142.1 88.2h0M120.2 91.1h0M140.7 124.6h0M136.6 85.0h0M136.6 102.6h0M115.6 97.3h0M123.3 95.7h0M120.1 89.7h0M116.6 91.3h0M138.5 88.9h0M139.7 82.0h0M128.9 97.4h0M144.2 94.4h0M115.7 90.7h0M137.2 86.4h0M140.4 92.3h0M134.4 86.8h0M146.8 109.1h0M120.1 94.8h0M141.3 122.2h0M150.7 125.5h0M140.9 80.5h0M145.6 89.5h0M137.9 96.2h0M123.3 110.0h0M120.9 87.3h0M132.3 111.5h0M139.5 80.5h0M151.7 109.9h0M125.9 83.5h0M147.8 104.4h0M118.9 111.5h0M130.4 90.5h0M134.2 117.0h0M124.0 93.3h0M145.4 87.8h0M147.1 106.7h0M144.4 93.2h0M142.7 88.2h0M122.6 98.7h0M146.3 93.8h0M117.8 86.3h0M147.2 109.9h0M130.1 85.9h0M146.1 84.5h0M138.9 91.1h0M133.0 100.9h0M145.7 121.5h0M130.3 116.8h0M121.3 100.5h0M146.5 139.5h0M118.8 85.3h0M132.2 79.7h0M131.8 86.6h0M122.7 99.5h0M131.5 105.2h0M141.7 124.7h0M139.7 87.9h0M131.7 134.1h0M137.0 84.4h0M123.6 86.5h0M128.2 82.8h0M117.1 91.9h0M130.8 103.6h0M128.8 101.6h0M130.0 106.6h0M124.3 87.3h0M137.3 128.6h0M125.9 101.0h0M122.7 86.3h0M137.8 80.3h0M137.5 87.6h0M128.1 84.7h0M128.6 93.9h0M130.4 97.1h0M133.4 83.1h0M119.0 91.2h0M130.9 81.3h0M136.6 80.9h0M135.7 106.8h0M134.7 79.5h0M140.1 104.4h0M141.9 85.6h0M143.6 125.9h0M128.3 96.0h0M143.4 91.2h0M139.7 90.9h0M125.3 81.7h0M134.9 119.1h0M145.9 112.1h0M141.5 82.6h0M135.7 105.1h0M139.2 115.9h0M138.6 89.2h0M118.9 106.3h0M139.1 79.3h0M129.3 95.7h0M134.8 83.2h0M139.9 100.7h0M132.8 112.8h0M148.3 119.1h0M152.5 108.8h0M116.0 101.1h0M124.3 88.8h0M114.7 92.0h0M139.8 84.2h0M146.8 97.3h0M147.1 98.8h0M146.0 86.5h0M134.4 98.6h0M143.6 85.5h0M120.4 109.5h0M140.5 91.5h0M133.3 86.8h0M153.9 118.8h0M121.1 87.9h0M116.4 94.1h0M119.3 86.1h0M146.5 89.0h0M123.9 100.0h0M137.7 86.0h0M131.5 114.0h0M137.0 92.2h0M144.4 93.4h0M140.4 105.7h0M112.5 93.0h0M138.1 82.7h0M137.5 85.3h0M130.9 94.1h0M143.7 83.5h0M128.1 114.9h0M126.2 115.9h0M145.7 88.4h0M134.2 109.8h0M147.8 105.8h0M133.5 82.7h0M140.7 94.1h0M137.8 81.8h0M136.1 103.6h0M131.3 91.5h0M119.1 106.0h0M128.9 87.9h0M121.0 103.7h0M142.2 99.0h0M122.5 99.3h0M138.9 93.1h0M136.5 105.8h0M147.1 106.7h0M147.1 104.3h0M129.1 104.5h0M141.4 89.1h0M131.5 114.0h0M117.6 95.6h0M141.4 90.8h0M126.6 98.8h0M127.5 92.1h0M130.0 105.9h0M131.3 114.9h0M145.3 97.8h0M138.5 89.7h0M128.4 109.4h0M130.8 87.4h0M119.2 87.9h0M122.0 100.1h0M123.2 82.1h0M135.0 79.7h0M134.1 112.4h0M147.6 124.5h0M140.0 96.0h0M121.5 91.2h0M135.4 90.5h0M136.3 96.2h0M138.5 98.0h0M122.8 98.2h0M142.0 84.3h0M134.7 106.5h0M131.3 90.5h0M121.8 87.5h0M131.3 80.7h0M140.3 89.5h0M138.5 84.5h0M121.2 110.1h0M126.9 94.9h0M124.8 98.1h0M133.1 81.4h0M134.2 106.8h0M145.5 96.4h0M141.3 84.2h0M138.4 91.8h0M129.3 120.2h0M139.0 91.6h0M137.0 106.8h0M122.9 105.1h0M139.5 89.3h0M130.7 84.0h0M120.4 102.1h0M131.7 81.4h0M124.7 90.7h0M134.4 104.2h0M115.6 97.0h0M132.8 96.5h0M119.9 84.3h0M136.6 91.6h0M125.5 111.3h0M141.5 117.5h0M117.7 100.3h0M136.5 104.1h0M127.6 84.9h0M140.0 91.9h0M119.9 102.4h0M140.9 97.8h0M120.3 84.7h0M124.8 115.9h0M146.1 97.1h0M142.5 111.2h0M113.8 90.7h0M145.5 104.4h0M132.1 97.5h0M137.0 79.4h0M139.1 110.7h0M137.4 92.6h0M147.8 117.1h0M128.6 90.3h0M117.3 87.1h0M113.3 96.8h0M141.9 97.7h0M127.9 93.4h0M136.7 88.0h0M129.3 99.4h0M147.1 90.4h0M118.6 107.5h0M131.6 110.9h0M128.1 87.1h0M115.2 95.8h0M124.0 85.2h0M127.1 92.9h0M129.1 122.3h0M120.9 109.4h0M141.0 103.9h0M144.4 91.4h0M124.1 83.4h0M134.9 80.3h0M138.9 79.5h0M131.3 104.5h0M144.2 104.1h0M128.0 117.2h0M137.7 108.3h0M112.6 94.4h0M134.3 122.1h0M132.9 127.6h0M139.0 98.0h0M145.6 93.4h0M135.6 90.2h0M127.4 94.3h0M129.1 89.7h0M125.9 92.6h0M131.1 103.2h0M135.1 79.7h0M144.5 83.4h0M115.7 90.0h0M135.0 84.0h0M120.9 98.5h0M139.7 84.9h0M121.5 83.3h0M141.3 81.5h0M128.1 81.6h0M142.8 87.4h0M125.5 88.1h0M137.7 89.5h0M138.6 80.4h0M123.2 97.1h0M137.8 80.9h0M128.7 83.6h0M142.9 108.7h0M136.3 94.3h0M126.1 89.2h0M138.4 88.4h0M126.4 83.0h0M131.8 100.9h0M117.5 90.4h0M137.4 95.4h0M128.3 85.2h0M133.4 117.7h0M118.7 95.0h0M130.3 90.5h0M141.8 86.7h0M141.7 94.7h0M137.2 136.2h0M141.2 86.0h0M121.2 108.2h0M122.1 84.1h0M139.3 116.1h0M128.3 119.8h0M119.0 96.9h0M128.0 102.9h0M132.9 81.4h0M121.2 88.0h0M142.2 94.9h0M142.9 81.4h0M139.7 94.0h0M130.1 83.4h0M116.2 92.8h0M130.6 101.7h0M144.7 100.7h0M146.0 88.1h0M118.7 101.2h0M137.3 98.6h0M130.3 81.8h0M124.1 88.2h0M131.8 89.3h0M142.6 86.0h0M124.7 90.9h0M127.8 103.1h0M119.2 106.3h0M115.2 100.1h0M145.9 88.7h0M118.1 99.4h0M116.6 102.9h0M127.9 81.9h0M128.2 84.8h0M143.2 92.5h0M141.4 130.1h0M126.9 84.0h0M154.8 116.4h0M141.8 105.3h0M123.4 106.5h0M141.3 105.4h0M118.6 98.2h0M115.7 102.8h0M146.2 101.5h0M140.7 94.2h0M132.4 90.9h0M147.7 109.2h0M120.0 93.0h0M130.2 79.4h0M141.3 83.7h0M115.8 89.6h0M117.3 88.5h0M130.5 89.3h0M128.5 124.5h0M129.5 80.6h0M131.7 91.2h0M140.1 90.9h0M122.5 87.2h0M125.8 100.1h0M119.0 92.5h0M145.5 132.9h0M145.5 92.9h0M146.3 104.2h0M134.1 106.3h0M119.0 95.7h0M130.1 94.8h0M142.1 83.2h0M119.1 99.7h0M129.2 87.6h0M143.6 112.6h0M136.9 105.7h0M117.2 88.0h0M139.3 95.4h0M143.7 107.2h0M132.6 113.3h0M124.9 106.9h0M117.1 98.8h0M136.2 102.1h0M150.3 124.6h0M140.9 116.7h0M123.9 108.8h0M148.2 102.4h0M145.8 85.4h0M121.9 85.6h0M120.1 93.2h0M124.7 90.8h0M127.1 104.0h0M144.2 87.3h0M120.7 91.7h0M142.6 108.6h0M143.7 89.4h0M135.4 95.4h0M139.0 111.7h0M134.5 86.8h0M137.6 90.5h0M140.1 106.0h0M132.4 101.9h0M128.6 100.8h0M135.5 102.0h0M147.2 106.3h0M118.7 105.1h0M133.3 83.6h0M130.7 95.9h0M146.7 101.1h0M140.1 94.8h0M130.3 101.5h0M127.5 93.7h0M150.9 122.9h0M127.9 91.0h0M133.0 89.8h0M122.8 90.7h0M116.8 102.7h0M146.0 88.0h0M120.3 87.7h0M135.7 103.0h0M129.5 119.3h0M140.4 81.2h0M117.2 86.9h0M143.7 96.5h0M140.4 103.3h0M122.6 89.9h0M114.5 99.0h0M127.8 115.0h0M135.3 82.1h0M139.4 95.1h0M141.9 143.7h0M133.9 114.8h0M142.1 80.6h0M132.0 112.7h0M135.9 102.0h0M141.7 81.8h0M120.9 86.3h0M142.5 80.8h0M142.7 117.1h0M125.2 81.9h0M130.5 80.7h0M113.7 96.2h0M126.9 105.1h0M116.6 95.9h0M120.6 89.3h0M136.1 116.8h0M131.4 119.9h0M137.3 101.5h0M118.7 99.8h0M142.8 88.4h0M131.4 114.5h0M143.0 103.5h0M125.7 112.3h0M134.2 102.5h0M133.1 101.1h0M118.7 88.9h0M130.9 86.4h0M132.0 113.0h0M144.4 84.1h0M134.3 112.9h0M128.2 85.6h0M132.4 90.8h0M128.4 88.6h0M131.8 100.7h0M137.3 96.3h0M113.1 97.1h0M130.7 79.1h0M132.9 98.3h0M137.5 94.3h0M120.4 100.9h0M124.9 91.4h0M120.5 87.2h0M142.7 112.9h0M136.9 91.0h0M137.9 82.3h0M155.4 124.2h0M142.6 96.7h0M134.0 93.4h0M145.1 99.5h0M131.6 117.9h0M123.8 86.2h0M137.5 100.0h0M150.5 106.2h0M137.9 88.5h0M119.8 94.1h0M136.9 128.5h0M132.4 112.4h0M126.1 102.1h0M134.3 82.3h0M139.3 85.5h0M113.0 94.5h0M141.8 105.8h0M135.3 90.0h0M135.6 118.1h0M130.8 91.3h0M140.7 83.6h0M137.9 110.0h0M133.6 80.1h0M121.2 97.0h0M126.8 104.4h0M132.9 109.1h0M138.7 125.6h0M133.4 97.1h0M125.0 85.9h0M130.9 95.3h0M130.9 104.1h0M131.9 86.5h0M130.3 94.6h0M124.1 91.8h0M138.8 91.8h0M125.7 88.0h0M135.8 80.8h0M127.9 79.7h0M144.9 130.0h0M133.8 82.3h0M133.8 90.1h0M127.2 90.9h0M129.8 92.5h0M135.5 90.5h0M128.7 86.1h0M145.1 89.5h0M130.7 90.8h0M144.8 92.4h0M128.1 79.6h0M118.3 97.1h0M142.0 88.9h0M140.5 128.8h0M134.5 86.7h0M143.5 102.2h0M142.7 89.9h0M129.4 86.5h0M143.1 102.0h0M142.6 85.6h0M117.6 91.3h0M127.2 90.9h0M125.4 87.1h0M128.1 81.6h0M150.8 106.0h0M142.4 111.6h0M144.2 121.0h0M136.8 108.3h0M139.2 106.3h0M145.4 111.3h0M128.4 108.2h0M139.8 97.1h0M146.4 116.6h0M112.9 95.1h0M121.1 100.2h0M135.2 84.2h0M121.0 86.1h0M138.8 80.1h0M135.0 93.0h0M153.3 121.9h0M132.2 83.8h0M140.4 100.3h0M134.8 107.5h0M141.8 82.0h0M120.1 106.4h0M112.6 98.6h0M147.1 98.8h0M137.7 94.3h0M134.8 95.7h0M119.6 89.8h0M130.4 84.6h0M127.4 85.1h0M132.9 100.2h0M144.3 103.4h0M129.1 83.9h0M144.3 90.2h0M138.5 108.2h0M126.6 91.9h0M130.8 100.5h0M123.9 100.0h0M131.5 81.8h0M129.3 97.4h0M126.8 85.4h0M119.4 91.7h0M133.5 126.0h0M134.9 110.1h0M114.5 92.6h0M118.6 109.8h0M136.2 79.3h0M120.3 85.0h0M141.6 80.5h0M147.3 101.5h0M137.9 88.4h0M137.5 104.6h0M148.7 102.0h0M136.0 88.3h0M133.7 104.6h0M131.8 110.6h0M122.5 91.3h0M141.9 84.8h0M137.6 101.5h0M129.8 79.4h0M122.9 88.0h0M135.9 87.2h0M135.1 96.6h0M127.1 103.6h0M143.8 103.8h0M148.7 123.6h0M124.8 104.6h0M144.3 84.8h0M145.5 87.3h0M139.9 90.9h0M142.3 90.5h0M145.5 107.0h0M142.1 88.7h0M149.3 106.2h0M154.3 117.3h0M142.1 121.4h0M140.7 103.1h0M145.4 96.4h0M132.5 112.1h0M150.4 127.1h0M134.8 119.1h0M138.3 118.7h0M141.3 104.7h0M140.1 93.2h0M148.0 103.7h0M145.9 127.5h0M135.2 79.8h0M128.6 82.5h0M125.3 85.2h0M135.1 107.8h0M148.5 119.3h0M124.5 95.7h0M135.1 100.9h0M132.0 113.6h0M114.3 91.6h0M139.3 89.7h0M146.1 86.0h0M113.0 98.7h0M145.4 113.3h0M129.3 80.4h0M137.9 86.7h0M124.0 90.2h0M129.9 95.0h0M125.3 97.2h0M143.3 86.0h0M145.8 104.2h0M142.3 92.5h0M122.2 111.4h0M133.3 80.1h0M133.4 108.3h0M118.8 91.0h0M144.2 84.8h0M127.7 83.6h0M128.8 110.3h0M125.3 92.6h0M149.8 113.8h0M148.8 106.7h0M123.9 91.7h0M128.4 92.6h0M119.8 91.1h0M127.0 108.2h0M114.0 90.0h0M150.9 125.5h0M126.9 96.4h0M141.2 80.1h0M135.5 87.6h0M140.8 91.9h0M133.3 86.8h0M134.0 92.9h0M119.6 92.9h0M131.0 83.6h0M138.7 84.3h0M135.9 93.7h0M133.4 96.5h0M127.4 83.0h0M120.7 92.1h0M125.3 85.9h0M125.2 112.5h0M128.8 98.0h0M136.0 87.5h0M126.2 88.4h0M132.4 105.6h0M130.5 94.6h0M128.1 90.5h0M133.2 111.5h0M140.1 127.7h0M146.6 89.5h0M132.5 84.7h0M113.6 99.1h0M145.6 98.6h0M146.3 112.9h0M132.3 120.9h0M130.6 103.3h0M144.2 93.6h0M148.0 88.7h0M146.2 106.5h0M131.4 101.8h0M130.6 86.3h0M131.8 96.0h0M131.6 89.8h0M125.0 83.5h0M135.0 117.6h0M137.2 100.6h0M136.5 94.4h0M143.1 97.1h0M139.7 103.7h0M140.8 90.3h0M134.6 111.5h0M121.1 87.3h0M133.3 92.0h0M121.1 92.6h0M121.5 102.9h0M135.7 91.6h0M145.2 94.9h0M115.2 91.3h0M130.1 112.4h0M125.1 81.3h0M121.4 101.5h0M120.0 91.1h0M130.6 105.2h0M146.1 94.3h0M141.6 91.5h0M134.7 106.3h0M124.7 95.8h0M139.6 87.3h0M142.6 116.8h0M116.6 99.2h0M125.3 92.4h0M144.3 124.8h0M134.7 85.1h0M119.8 107.9h0M138.6 114.0h0M137.2 93.2h0M139.4 94.4h0M142.5 81.9h0M149.4 117.8h0M126.9 87.5h0M146.0 94.3h0M116.1 103.0h0M132.0 105.3h0M123.1 104.5h0M138.4 102.5h0M135.6 91.3h0M149.5 103.5h0M142.1 89.0h0M123.1 95.0h0M132.2 93.9h0M136.4 84.8h0M136.3 91.6h0M149.3 112.6h0M118.7 86.8h0M134.0 83.0h0M142.5 106.1h0M147.6 87.7h0M129.6 125.5h0M125.3 96.9h0M118.2 92.4h0M144.7 85.3h0M139.1 91.5h0M139.2 85.6h0M122.6 104.1h0M132.8 104.1h0M143.2 90.8h0M133.4 81.7h0M136.9 94.4h0M132.8 85.9h0M147.4 89.2h0M131.3 97.6h0M132.7 87.4h0M118.0 94.9h0M120.5 84.0h0M121.1 96.6h0M121.5 86.0h0M132.1 93.5h0M134.1 93.9h0M136.1 111.1h0M141.3 89.7h0M140.1 94.7h0M146.6 109.5h0M135.5 121.2h0M137.4 120.6h0M115.9 91.5h0M135.6 101.5h0M135.2 112.6h0M124.7 98.8h0M149.1 105.3h0M145.2 96.0h0M140.9 93.0h0M114.6 101.8h0M145.1 89.7h0M138.9 102.5h0M141.7 93.4h0M121.2 91.3h0M131.4 100.9h0M133.1 123.2h0M126.1 118.1h0M141.4 139.3h0M120.8 94.3h0M132.2 93.9h0M115.7 88.8h0M134.2 88.5h0M133.9 102.6h0M140.1 90.6h0M135.2 91.8h0M135.2 109.2h0M141.9 88.3h0M124.4 109.6h0M135.3 93.9h0M124.6 104.8h0M117.5 95.5h0M131.6 101.7h0M132.7 89.5h0M134.4 90.2h0M121.8 103.0h0M119.5 110.3h0M123.6 86.4h0M128.6 85.5h0M137.8 90.7h0M131.1 92.4h0M147.4 110.4h0M120.6 95.4h0M133.9 99.1h0M129.0 84.7h0M134.8 100.0h0M126.7 109.5h0M123.1 90.5h0M154.6 117.0h0M141.3 91.5h0M142.0 83.4h0M138.7 110.6h0M133.0 94.1h0M145.3 98.4h0M137.0 121.3h0M112.9 98.0h0M122.3 93.4h0M134.6 101.6h0M116.9 89.4h0M132.9 97.2h0M125.3 103.9h0M144.4 93.6h0M121.3 97.1h0M131.6 84.5h0M126.8 96.1h0M124.3 109.2h0M114.7 94.0h0M140.7 81.7h0M144.5 104.0h0M140.3 89.8h0M143.9 97.7h0M119.9 93.8h0M114.6 92.9h0M134.0 111.0h0M127.6 92.9h0M115.0 101.1h0M135.8 99.7h0M123.3 109.9h0M131.2 114.7h0M120.2 88.7h0M130.4 99.6h0M130.9 121.7h0M140.3 96.4h0M122.0 92.9h0M132.5 116.3h0M118.4 102.0h0M125.6 80.2h0M123.4 96.7h0M139.7 120.4h0M135.0 109.6h0M132.0 120.8h0M125.4 105.7h0M128.8 108.0h0M137.9 96.7h0M133.4 114.4h0M126.0 97.6h0M138.2 87.5h0M130.4 121.2h0M116.2 88.1h0M131.7 92.1h0M126.0 101.0h0M133.0 88.3h0M141.2 103.2h0M136.3 94.1h0M117.1 92.9h0M142.8 95.8h0M144.2 86.5h0"/><path stroke="#6a3aaa" stroke-width="0.8" stroke-linecap="round" d="M150.0 143.7h0M147.4 121.5h0M154.6 141.9h0M149.5 141.6h0M152.5 122.9h0M148.1 132.5h0M146.4 130.7h0M152.6 134.9h0M141.0 127.3h0M153.2 113.2h0M144.3 144.1h0M138.2 140.6h0M151.8 123.6h0M152.2 139.4h0M149.6 141.7h0M154.9 135.6h0M137.8 139.3h0M137.5 127.9h0M151.0 143.0h0M153.4 123.2h0M152.1 129.9h0M142.1 132.0h0M155.3 126.2h0M149.3 131.2h0M135.3 138.7h0M153.4 130.5h0M156.0 124.5h0M153.8 135.5h0M138.8 138.1h0M154.1 132.8h0M156.1 138.4h0M149.7 137.2h0M152.8 129.9h0M128.8 125.1h0M146.4 144.9h0M153.8 137.1h0M131.5 127.3h0M140.7 132.5h0M154.0 123.9h0M150.8 139.5h0M154.3 122.8h0M145.6 138.4h0M154.8 124.5h0M149.0 142.1h0M146.0 127.5h0M145.9 134.0h0M150.8 122.3h0M150.2 118.6h0M154.6 127.2h0M153.7 134.2h0M154.0 118.2h0M145.2 142.1h0M150.9 135.3h0M155.0 134.4h0M149.7 144.2h0M142.9 135.6h0M140.6 124.0h0M149.9 108.3h0M140.0 138.5h0M148.0 129.3h0M155.2 142.0h0M144.9 142.6h0M149.2 128.7h0M154.6 125.2h0M141.7 139.3h0M140.4 142.6h0M149.0 143.6h0M153.9 130.4h0M147.6 112.9h0M146.0 137.9h0M148.6 143.2h0M154.3 126.4h0M135.7 138.6h0M152.6 143.4h0M129.6 130.4h0M151.4 133.7h0M151.6 129.1h0M152.2 123.2h0M150.6 125.7h0M154.5 114.6h0M135.9 130.8h0M146.8 145.3h0M149.9 111.6h0M138.3 132.7h0M152.6 110.6h0M149.8 118.8h0M142.1 121.8h0M153.5 114.7h0M151.3 120.1h0M143.6 127.0h0M153.8 115.2h0M156.6 120.6h0M143.5 128.2h0M150.1 135.9h0M153.8 134.5h0M154.8 119.1h0M137.4 138.9h0M148.1 128.1h0M153.5 116.9h0M150.4 143.7h0M143.3 144.6h0M151.5 118.8h0M151.5 144.8h0M148.7 113.9h0M151.5 136.8h0M146.6 141.3h0M154.6 126.3h0M150.4 137.6h0M151.4 121.1h0M149.6 144.6h0M139.8 140.1h0M148.3 143.7h0M154.1 120.6h0M147.5 134.4h0M148.7 118.5h0M150.4 129.8h0M140.6 124.6h0M147.4 140.3h0M154.8 143.3h0M150.8 125.5h0M154.1 115.1h0M137.0 124.4h0M154.1 114.5h0M143.7 134.8h0M154.5 141.4h0M139.2 132.8h0M155.8 115.9h0M135.9 125.1h0M146.2 135.5h0M140.6 132.9h0M153.9 122.7h0M139.5 142.1h0M155.7 138.1h0M153.0 138.4h0M154.4 131.8h0M148.7 140.9h0M151.7 119.8h0M136.5 138.5h0M155.7 114.6h0M156.0 130.8h0M154.5 134.0h0M143.5 139.7h0M138.5 127.2h0M151.7 110.4h0M153.9 115.6h0M152.3 139.3h0M149.3 115.4h0M150.6 121.5h0M144.4 142.7h0M151.2 143.3h0M152.1 133.2h0M144.5 127.0h0M148.7 118.0h0M153.6 127.1h0M152.6 142.3h0M143.0 122.5h0M137.8 138.0h0M145.1 144.7h0M151.9 140.9h0M150.4 115.6h0M152.4 132.5h0M151.6 140.1h0M151.6 110.2h0M153.2 109.9h0M154.8 140.4h0M144.6 133.0h0M152.8 143.6h0M151.5 136.0h0M143.5 131.9h0M134.7 138.1h0M147.0 136.3h0M140.8 129.7h0M152.3 129.7h0M153.9 122.7h0M144.3 123.5h0M143.7 142.3h0M149.6 119.1h0M134.3 131.5h0M148.9 135.3h0M144.9 142.9h0M143.8 127.6h0M155.0 138.2h0M152.9 136.2h0M150.7 144.1h0M152.9 120.9h0M144.8 136.7h0M150.8 128.1h0M150.7 138.6h0M148.8 111.2h0M147.2 132.6h0M153.7 110.7h0M150.8 139.9h0M154.1 143.1h0M153.6 121.4h0M152.0 126.1h0M150.7 131.6h0M154.0 142.0h0M156.3 120.3h0M141.8 134.1h0M134.7 136.9h0M145.2 133.4h0M144.5 129.8h0M148.7 127.7h0M155.4 134.3h0M151.6 131.7h0M154.9 131.4h0M156.1 117.3h0M155.6 142.1h0M143.7 140.5h0M152.2 141.9h0M150.3 127.2h0M148.8 122.4h0M151.5 119.7h0M138.5 138.3h0M152.6 139.5h0M155.2 128.6h0M147.5 117.7h0M152.8 139.8h0M144.2 142.0h0M148.0 130.5h0M148.4 135.4h0M154.6 129.8h0M139.7 136.3h0M155.8 132.2h0M147.3 122.9h0M140.6 140.6h0M153.0 129.5h0M155.7 119.2h0M147.6 118.0h0M149.1 141.6h0M150.7 121.5h0M155.1 136.5h0M153.8 130.4h0M143.8 135.3h0M149.9 110.8h0M147.5 115.5h0M141.4 134.8h0M151.7 110.9h0M152.2 125.9h0M149.8 143.3h0M153.6 140.3h0M152.8 128.1h0M138.9 137.2h0M147.8 121.9h0M153.9 143.3h0M152.8 144.3h0M150.3 120.9h0M142.0 143.1h0M152.2 120.4h0M156.1 117.4h0M139.3 129.8h0M156.4 120.4h0M152.9 129.2h0M148.6 145.4h0M152.4 119.0h0M147.2 131.7h0M154.9 113.6h0M144.6 136.9h0M153.9 143.1h0M153.4 142.2h0M152.0 142.6h0M151.9 126.5h0M144.1 135.1h0M154.4 140.5h0M152.1 118.0h0M147.4 126.5h0M143.2 124.4h0M145.1 122.2h0M134.1 128.2h0M145.9 137.6h0M155.4 135.6h0M155.8 129.6h0M147.1 131.3h0M151.3 117.6h0M134.3 130.0h0M136.7 140.2h0M139.8 125.4h0M150.2 123.8h0M150.5 118.4h0M154.0 142.0h0M143.3 142.6h0M155.7 116.7h0M134.3 125.8h0M150.5 136.9h0M139.8 126.8h0M151.2 113.2h0M143.0 134.1h0M155.0 140.7h0M149.1 143.6h0M152.1 114.3h0M154.3 131.3h0M138.8 141.7h0M138.7 124.2h0M151.4 134.9h0M154.8 141.5h0M150.7 141.4h0M154.6 117.1h0M148.1 134.3h0M154.7 133.7h0M143.2 143.8h0M148.1 115.2h0M142.2 135.5h0M132.1 121.8h0M156.9 120.3h0M154.6 115.5h0M141.5 143.7h0M133.3 127.5h0M155.0 116.7h0M152.7 134.1h0M152.3 139.7h0M152.3 125.5h0M143.1 141.2h0M150.5 118.6h0M137.1 131.9h0M152.9 139.2h0M151.2 144.1h0M141.3 139.6h0M146.2 137.3h0M135.2 132.0h0M148.8 116.4h0M135.8 139.4h0M149.7 140.4h0M150.4 134.7h0M152.7 118.2h0M147.1 123.1h0M150.3 123.5h0M151.8 113.9h0M153.8 139.9h0M139.8 138.7h0M147.4 132.7h0M150.0 119.8h0M142.5 126.4h0M151.8 141.5h0M139.8 127.5h0M151.2 131.4h0M149.7 124.2h0M137.9 125.9h0M150.0 141.6h0M155.8 135.4h0M148.4 129.2h0M149.8 137.2h0M139.2 135.7h0M137.5 139.5h0M149.7 129.0h0M148.5 108.9h0M154.3 126.5h0M150.6 140.2h0M150.8 139.8h0M153.7 130.3h0M149.9 141.5h0M147.1 130.1h0M149.0 124.7h0M141.1 142.3h0M154.3 133.7h0M139.2 139.6h0M154.3 124.2h0M132.4 133.1h0M141.4 133.4h0M153.2 142.7h0M148.0 120.6h0M150.7 139.3h0M138.8 134.2h0M147.2 108.1h0M145.1 126.7h0M145.9 140.4h0M150.0 143.8h0M136.7 139.3h0M152.9 135.3h0M145.2 141.9h0M154.2 125.9h0M143.0 142.5h0M142.2 127.5h0M130.7 130.9h0M156.1 125.9h0M154.0 120.4h0M138.1 126.7h0M149.2 121.1h0M153.6 143.5h0M130.3 123.3h0M154.7 114.3h0M149.3 108.6h0M150.4 133.2h0M149.0 135.4h0M139.4 130.5h0M156.7 123.7h0M155.7 126.2h0M147.8 140.1h0M140.2 133.2h0M145.6 133.5h0M150.4 123.3h0M148.4 130.6h0M151.1 117.5h0M143.6 139.8h0M150.4 107.1h0M151.1 133.6h0M155.4 133.7h0M154.7 114.2h0M138.3 134.9h0M145.9 138.5h0M143.3 136.1h0M143.3 128.3h0M155.6 131.8h0M154.9 138.5h0M145.4 135.2h0M153.5 122.6h0M150.4 110.5h0M140.1 142.5h0M152.8 109.7h0M141.4 135.0h0M144.9 122.9h0M155.1 136.5h0M147.2 126.7h0M142.0 137.6h0M150.9 141.7h0M145.0 127.8h0M148.9 115.9h0M151.1 127.9h0M131.7 131.8h0M153.5 122.4h0M152.2 121.3h0M150.8 136.4h0M142.7 138.2h0M153.7 121.7h0M150.9 118.0h0M134.7 137.6h0M150.0 112.8h0M153.0 117.6h0M150.8 130.2h0M139.8 126.7h0M138.9 139.9h0M152.2 109.0h0M139.9 140.3h0M148.7 132.0h0M135.9 127.6h0M151.4 118.0h0M141.6 131.3h0M147.7 142.8h0M148.2 129.3h0M147.2 142.0h0M154.2 129.9h0M149.6 141.9h0M142.3 140.7h0M149.4 123.0h0M155.9 131.3h0M150.0 108.0h0M149.3 144.2h0M145.8 142.7h0M139.2 126.8h0M152.1 136.3h0M144.3 137.1h0M137.5 136.0h0M128.7 127.6h0M154.7 139.4h0M156.4 122.0h0M141.5 141.9h0M135.8 136.9h0M151.0 126.9h0M150.1 124.4h0M136.7 138.7h0M145.6 139.9h0M137.9 121.6h0M154.3 134.8h0M136.7 140.8h0M149.0 113.5h0M153.2 133.3h0M150.9 130.7h0M152.1 113.1h0M137.3 141.1h0M141.6 137.0h0M134.2 122.3h0M150.0 129.6h0M149.6 125.5h0M153.9 127.4h0M147.8 131.4h0M152.9 111.4h0M153.9 137.4h0M143.3 122.3h0M148.3 117.0h0M153.5 117.2h0M153.6 113.7h0M133.3 133.4h0M150.8 123.8h0M152.6 134.9h0M152.0 131.0h0M152.4 137.7h0M154.1 128.0h0M153.9 129.0h0M149.2 125.6h0M156.7 119.8h0M147.5 131.4h0M152.3 128.1h0M154.8 133.6h0M152.1 140.4h0M150.0 113.6h0M133.3 133.7h0M142.1 138.4h0M146.4 124.1h0M148.0 133.8h0M152.4 139.7h0M147.9 134.8h0M154.3 133.6h0M150.3 128.4h0M148.8 113.4h0M147.4 126.6h0M151.4 120.3h0M147.7 112.8h0M147.3 139.2h0M137.9 134.9h0M154.8 143.4h0M144.9 122.8h0M142.9 135.6h0M154.0 141.3h0M134.6 138.9h0M149.1 141.7h0M154.1 123.0h0M147.2 114.3h0M153.1 125.9h0M151.6 145.0h0M140.9 135.7h0M147.6 131.6h0M153.7 116.1h0M153.5 139.1h0M152.6 116.1h0M156.4 118.0h0M138.4 127.3h0M153.2 134.1h0M152.1 144.2h0M128.9 126.9h0M145.9 126.7h0M145.3 125.4h0M153.2 113.8h0M143.3 128.8h0M155.3 128.1h0M152.6 128.3h0M155.7 130.4h0M138.3 138.8h0M150.7 125.0h0M133.6 120.7h0M138.6 128.4h0M153.7 131.0h0M155.8 138.5h0M147.3 131.0h0M151.1 128.4h0M153.1 117.0h0M147.8 132.9h0M147.2 130.8h0M141.9 141.0h0M150.7 138.6h0M150.4 120.0h0M144.6 140.9h0M134.5 130.6h0M150.3 110.4h0M151.7 127.7h0M148.0 127.9h0M155.2 136.4h0M151.6 137.4h0M151.2 144.1h0M146.7 138.6h0M154.4 136.6h0M143.2 134.0h0M153.3 126.0h0M147.6 138.6h0M141.6 140.4h0M155.1 114.0h0M148.9 141.4h0M156.0 135.4h0M152.2 136.8h0M132.2 127.3h0M142.5 126.4h0M151.1 130.0h0M152.3 139.1h0M144.4 134.9h0M152.0 132.5h0M147.1 135.0h0M138.1 125.4h0M143.2 139.7h0M152.1 135.0h0M132.9 132.8h0M152.2 120.3h0M142.3 135.8h0M156.1 137.5h0M145.4 140.1h0M152.0 124.2h0M139.7 128.0h0M147.5 144.5h0M148.3 128.0h0M146.0 138.7h0M155.1 118.5h0M156.2 135.8h0M156.0 117.0h0M150.4 143.0h0M149.9 132.2h0M155.0 127.5h0M141.0 138.9h0M144.1 144.4h0M152.8 136.7h0M135.3 127.5h0M147.9 132.0h0M140.4 139.0h0M151.9 136.5h0M138.5 132.6h0M147.5 135.4h0M138.1 124.4h0M141.9 128.4h0M137.7 140.2h0M140.9 120.6h0M149.5 124.5h0M145.6 131.6h0M154.8 126.6h0M142.8 127.4h0M153.0 135.1h0M146.0 143.6h0M131.9 131.4h0M153.4 115.2h0M147.0 142.3h0M152.9 127.2h0M148.4 129.5h0M145.8 137.5h0M153.5 137.0h0M151.3 131.4h0M153.5 120.8h0M156.8 123.0h0M155.4 127.2h0M149.6 138.7h0M131.2 124.9h0M138.5 141.9h0M143.9 142.1h0"/><path stroke="#9a9a9a" stroke-width="0.8" stroke-linecap="round" d="M136.5 110.5h0M126.4 100.3h0M144.2 134.8h0M142.7 125.3h0M139.2 95.7h0M128.5 126.6h0M143.5 93.5h0M134.8 123.0h0M144.7 102.8h0M138.4 127.3h0M131.4 81.7h0M119.4 87.0h0M121.0 91.0h0M121.9 100.2h0M130.1 94.7h0M120.6 108.8h0M133.3 133.0h0M119.6 104.4h0M138.0 97.1h0M131.2 98.9h0M137.9 89.1h0M126.5 118.9h0M118.7 96.1h0M125.5 92.1h0M149.4 122.7h0M151.3 130.3h0M138.7 114.7h0M143.5 112.8h0M122.7 114.8h0M137.6 102.2h0M145.1 102.1h0M115.4 94.0h0M131.7 102.7h0M129.8 116.6h0M121.5 112.7h0M123.7 87.2h0M146.0 116.7h0M143.5 136.6h0M143.1 80.9h0M143.2 88.7h0M131.1 89.9h0M132.1 86.0h0M131.8 99.3h0M130.8 102.8h0M145.3 89.8h0M147.7 131.3h0M128.7 80.9h0M120.0 85.6h0M129.0 108.6h0M120.5 94.0h0M132.3 127.2h0M120.3 103.1h0M127.2 110.1h0M116.7 99.6h0M124.0 88.2h0M142.1 114.7h0M145.7 133.8h0M146.8 123.8h0M136.8 84.3h0M134.9 129.3h0M136.9 95.1h0M135.4 137.6h0M135.3 113.9h0M147.1 116.3h0M149.5 115.7h0M138.4 115.6h0M145.4 109.2h0M118.4 95.6h0M143.8 98.7h0M135.3 112.5h0M136.4 95.5h0M141.8 86.5h0M133.4 85.7h0M132.0 103.0h0M150.3 126.2h0M156.2 124.7h0M144.9 103.0h0M128.1 96.9h0M145.3 109.9h0M135.1 91.4h0M152.8 124.7h0M130.2 131.6h0M141.2 143.1h0M121.0 87.9h0M138.4 124.6h0M129.4 110.3h0M147.1 128.2h0M126.0 82.4h0M126.4 79.9h0M144.7 97.5h0M127.9 100.3h0M144.5 92.0h0M147.2 131.8h0M137.1 90.4h0M140.3 96.4h0M141.4 134.0h0M141.2 133.1h0M135.0 109.5h0M144.2 95.1h0M130.1 129.3h0M139.3 103.3h0M134.2 80.1h0M143.5 120.4h0M149.2 105.8h0M145.6 132.9h0M123.7 86.6h0M142.8 135.7h0M127.7 119.6h0M142.7 131.4h0M134.6 97.3h0M130.5 124.4h0M135.7 126.3h0M139.2 91.4h0M145.9 88.9h0M150.5 114.1h0M129.6 91.5h0M128.0 93.6h0"/><path stroke="#e0c294" stroke-width="0.8" stroke-linecap="round" d="M144.2 82.1h0M127.6 89.8h0M128.4 85.3h0M131.8 123.9h0M127.1 96.8h0M126.3 103.1h0M130.8 108.7h0M139.2 118.5h0M126.7 117.1h0M128.8 112.4h0M127.0 103.1h0M134.8 111.9h0M125.3 115.4h0M130.5 104.1h0M142.3 128.6h0M128.6 89.3h0M126.3 95.6h0M129.6 114.6h0M142.1 106.0h0M119.5 105.5h0M125.3 95.7h0M146.9 141.0h0M138.5 80.8h0M130.3 102.2h0M121.5 104.1h0M138.9 138.9h0M119.6 104.9h0M123.1 89.1h0M125.1 112.5h0M131.3 108.0h0M126.1 108.2h0M120.9 113.8h0M127.1 112.7h0M138.3 105.3h0M114.6 97.3h0M142.3 120.1h0M141.9 100.4h0M125.2 110.9h0M119.8 109.0h0M132.0 102.6h0M125.3 89.5h0M138.1 125.7h0M117.0 103.1h0M122.5 89.7h0M121.7 114.1h0M136.6 125.1h0M142.6 114.2h0M128.7 111.7h0M127.3 106.5h0M134.2 103.5h0M122.4 108.2h0M151.2 113.6h0M122.4 98.8h0M132.7 99.6h0M132.9 99.3h0M137.4 103.5h0M126.4 101.6h0M123.7 104.9h0M124.6 97.9h0M137.6 109.3h0M125.6 94.0h0M121.4 113.5h0M116.1 90.8h0M148.1 102.9h0M134.9 96.0h0M120.6 109.3h0M140.5 126.5h0M146.6 113.7h0M150.4 115.8h0M128.8 108.5h0M134.0 89.5h0M140.6 105.1h0M142.8 101.7h0M120.6 106.8h0M131.4 128.6h0M133.5 109.3h0M127.0 110.7h0M118.8 111.3h0M113.7 90.8h0M129.7 105.7h0M141.5 93.5h0M147.8 101.6h0M144.7 105.8h0M145.5 106.2h0M114.3 93.6h0M140.8 113.4h0M140.4 136.2h0M128.1 95.3h0M145.1 126.1h0M120.9 92.0h0M130.0 90.7h0M120.6 109.6h0M118.6 98.6h0M144.7 91.0h0M123.5 95.4h0M138.9 110.3h0M151.6 131.1h0M146.5 119.5h0M120.8 97.9h0M130.6 126.0h0M119.8 99.1h0M129.2 102.0h0M140.7 99.8h0M148.7 105.2h0M138.2 99.5h0M129.1 113.6h0M123.0 106.5h0M132.2 80.8h0M140.2 115.2h0M145.5 130.5h0M143.5 131.8h0M131.6 80.3h0M114.2 97.0h0M153.0 114.1h0M125.8 106.1h0M123.3 102.1h0M143.3 116.2h0M140.1 107.3h0M132.7 115.3h0M130.0 116.3h0M145.8 141.7h0M126.9 103.6h0M115.4 89.1h0M129.9 98.3h0M120.5 89.4h0M139.6 114.9h0M122.8 109.1h0M144.0 105.9h0M125.7 98.6h0M140.9 139.5h0M122.3 112.6h0M139.5 127.7h0M136.9 124.0h0M120.2 94.1h0M139.8 90.6h0M125.2 103.8h0M135.6 111.0h0M127.3 97.4h0M114.6 98.3h0M121.4 115.5h0M123.3 105.0h0M135.7 79.4h0M139.4 142.5h0M148.6 136.3h0M125.9 114.7h0M137.9 104.4h0M120.4 103.4h0M126.3 110.4h0M140.3 93.6h0M127.2 109.1h0M132.3 111.0h0M132.7 123.2h0M132.2 128.7h0M128.6 118.4h0M121.2 110.9h0M115.1 96.7h0M128.8 89.8h0M118.5 108.6h0M118.1 102.9h0M119.5 112.2h0M129.6 98.6h0M130.8 102.3h0M140.4 105.7h0M124.7 102.4h0M140.1 127.3h0M121.5 99.7h0M151.0 131.6h0M134.0 109.6h0M123.4 117.1h0M148.5 108.9h0M123.0 116.2h0M132.7 121.7h0M118.9 103.0h0M126.5 109.5h0M136.8 108.7h0M122.9 87.2h0M121.7 96.1h0M145.3 122.3h0M125.5 98.7h0M120.6 102.3h0M127.5 109.1h0M129.4 100.9h0M125.5 91.8h0M138.8 127.6h0M124.8 87.7h0M148.4 138.0h0M137.5 117.2h0M136.5 137.6h0M118.4 94.5h0M152.6 137.0h0M153.8 137.8h0M127.0 111.9h0M137.1 130.5h0M129.5 94.7h0M141.2 101.4h0M122.3 97.6h0M148.9 117.8h0M123.2 86.6h0M128.0 117.3h0M132.1 108.4h0M113.3 90.7h0M127.2 89.8h0M118.0 91.1h0M133.3 111.4h0M146.3 126.2h0M136.7 112.9h0M143.7 116.8h0M129.6 93.4h0M132.5 107.7h0M146.3 125.7h0M149.1 139.5h0M132.4 107.2h0M147.9 110.2h0M148.1 103.6h0M151.4 127.5h0M146.2 137.6h0M128.2 99.7h0M127.4 94.1h0M118.2 91.7h0M127.0 93.4h0M141.4 133.3h0M139.2 84.1h0M127.1 101.5h0M141.5 80.1h0M127.7 94.1h0M125.5 101.1h0M140.7 134.2h0M139.3 112.9h0M145.9 97.1h0M121.9 110.6h0M120.4 106.9h0M131.9 124.4h0M131.6 94.3h0M131.3 100.2h0M119.4 111.4h0M129.7 115.9h0M125.6 92.8h0M147.0 115.5h0M119.3 94.9h0M118.2 107.5h0M134.1 99.9h0M132.3 112.0h0M136.2 111.2h0M138.9 112.3h0M132.8 114.0h0M121.5 102.0h0M122.1 114.1h0M139.5 92.0h0M128.9 99.9h0M146.9 104.5h0M136.9 100.7h0M135.9 113.8h0M122.7 112.8h0M119.1 106.0h0M132.9 94.3h0M135.5 129.9h0M129.3 103.0h0M143.1 99.5h0M117.4 101.2h0M148.8 104.8h0M124.1 110.8h0M146.3 125.7h0M123.1 100.3h0M121.3 92.1h0M121.2 111.3h0M129.7 113.4h0M124.3 116.9h0M124.5 116.2h0M131.7 124.9h0M139.2 109.2h0M147.5 112.2h0M131.8 129.8h0M130.2 80.6h0M118.1 98.5h0M139.6 136.8h0M148.3 105.0h0M148.1 137.9h0M137.6 104.3h0M125.3 81.3h0M120.0 113.6h0M125.2 101.6h0M132.9 88.1h0M145.7 106.9h0M119.3 92.4h0M125.3 106.9h0M121.8 106.6h0M135.2 108.3h0M134.0 114.3h0M122.2 89.8h0M137.6 124.0h0M138.9 127.9h0M115.7 89.5h0M132.9 106.7h0M120.9 105.8h0M147.2 141.1h0M127.7 115.2h0M122.0 110.8h0M121.7 109.8h0M128.6 105.2h0M152.3 134.5h0M125.5 90.1h0M127.4 115.3h0M129.1 121.2h0M119.8 111.8h0M124.3 99.7h0M128.0 104.5h0M116.4 103.3h0M129.9 110.9h0M118.5 99.9h0M124.3 100.2h0M144.2 128.8h0M124.8 113.0h0M138.2 91.2h0M138.9 126.2h0M128.2 95.2h0M128.6 92.0h0M141.3 109.6h0M136.6 106.1h0M134.1 137.1h0M126.9 116.2h0M147.4 138.5h0M123.4 108.8h0M142.5 110.9h0M121.9 108.4h0M125.2 103.8h0M112.5 93.4h0M124.4 113.8h0M121.4 105.6h0M119.1 112.4h0M131.6 113.7h0M137.9 91.3h0M134.7 111.6h0M127.6 117.1h0M122.1 95.1h0M147.1 109.1h0M113.0 98.6h0M124.9 106.9h0M146.6 114.6h0M117.0 90.2h0M119.3 104.1h0M126.4 99.1h0M150.8 137.5h0M131.4 127.0h0M120.7 105.4h0M138.9 106.9h0M146.4 124.9h0M121.6 101.9h0M128.5 114.2h0M121.0 107.5h0M137.0 106.0h0M114.6 96.8h0M131.9 116.5h0M143.6 95.1h0M131.3 107.7h0M126.7 96.3h0M145.5 127.7h0M139.9 81.8h0M130.3 82.6h0M121.7 96.8h0M124.8 111.2h0M132.0 107.2h0M132.8 99.9h0M116.2 97.6h0M127.1 91.2h0M128.8 108.5h0M144.4 106.3h0M147.4 87.0h0M131.4 92.3h0M144.7 92.9h0M125.9 102.0h0M116.3 89.3h0M145.2 132.6h0M113.5 97.5h0M146.3 91.4h0M127.1 100.1h0M119.5 87.8h0M127.6 102.3h0M123.7 95.1h0M141.9 109.6h0M135.6 111.7h0M147.7 108.9h0M127.8 111.8h0M137.8 82.8h0M127.5 115.6h0M121.7 105.5h0M120.6 113.8h0M118.8 105.1h0M145.8 83.1h0M129.8 115.4h0M154.2 124.3h0M137.2 90.8h0M147.2 101.0h0M145.6 104.9h0M140.6 112.8h0M127.2 101.4h0M129.3 84.1h0M146.2 111.6h0M126.6 91.7h0M119.7 88.2h0M120.2 109.1h0M144.9 107.2h0M133.7 120.1h0M123.0 96.9h0M146.1 99.6h0M122.3 112.6h0M119.1 97.5h0M132.8 90.6h0M143.9 83.7h0M120.5 103.9h0M142.4 134.2h0M113.4 94.6h0M132.5 108.6h0M130.9 100.7h0M152.6 142.4h0M134.5 125.6h0M141.8 113.2h0M121.5 100.9h0M138.3 107.8h0M136.3 103.2h0M134.6 96.0h0M135.3 86.4h0M145.6 89.9h0M118.5 91.1h0M135.6 121.0h0M155.4 131.3h0M114.5 100.3h0M140.9 138.7h0M139.3 79.6h0M124.5 99.1h0M118.6 109.3h0M137.0 100.7h0M144.8 91.3h0M128.2 104.9h0M155.2 136.1h0M129.1 92.5h0M126.1 112.0h0M145.2 103.0h0M142.2 102.2h0M136.4 115.5h0M126.7 108.7h0M131.4 103.7h0M137.0 82.7h0M150.4 108.6h0M135.5 120.0h0M128.2 115.7h0M147.6 113.3h0M129.3 89.3h0M132.7 135.3h0M128.5 91.8h0M126.2 115.9h0M115.1 100.0h0M122.3 109.8h0M123.1 115.5h0M146.9 127.8h0M122.7 85.5h0M129.0 114.0h0M127.9 112.9h0M118.8 111.5h0M146.3 108.4h0M130.1 107.8h0M127.3 115.6h0M119.4 105.2h0M135.1 92.4h0M149.6 117.7h0M129.3 107.7h0M127.2 93.7h0M143.8 106.4h0M142.7 106.0h0M142.1 107.7h0M119.9 101.9h0M112.5 98.1h0M148.0 129.1h0M145.0 127.6h0M146.1 85.1h0M145.4 102.3h0M126.0 88.5h0M145.9 128.3h0M130.1 111.5h0M120.2 112.0h0M145.8 112.1h0M139.3 87.5h0M122.8 110.0h0M114.0 90.5h0M133.3 79.5h0M117.4 91.7h0M132.6 130.6h0M147.1 126.2h0M119.9 97.4h0M118.8 105.9h0M126.3 104.3h0M117.6 103.8h0M125.8 113.3h0M142.0 108.5h0M143.7 117.5h0M120.3 91.4h0M143.3 87.1h0M138.8 135.6h0M139.5 111.6h0M136.1 115.5h0M134.7 118.2h0M127.2 114.6h0M120.7 89.5h0M130.0 113.8h0M127.4 102.5h0M139.4 126.7h0M146.0 86.8h0M127.6 108.3h0M122.6 91.1h0M144.3 135.2h0M129.4 114.5h0M121.8 102.7h0M124.4 109.4h0M137.7 128.3h0M136.1 136.8h0M120.3 107.5h0M153.3 144.1h0M142.2 109.6h0M154.5 127.6h0M151.0 118.4h0M150.6 111.8h0M124.6 93.3h0M142.7 91.0h0M133.8 129.8h0M120.2 97.4h0M124.3 109.1h0M148.4 124.0h0M132.2 110.0h0M126.1 109.9h0M142.4 83.7h0M123.2 104.5h0M143.0 119.4h0M139.3 115.3h0M126.4 113.1h0M129.5 107.4h0M141.4 110.9h0M119.0 101.2h0M133.2 115.4h0M125.8 90.5h0M146.1 120.0h0M145.6 124.4h0M121.9 111.1h0M114.0 93.7h0M139.2 112.7h0M115.3 102.7h0M128.9 102.7h0M135.6 129.9h0M126.3 91.1h0M140.3 90.1h0M134.7 92.5h0M140.0 112.8h0M125.9 93.1h0M135.6 113.4h0M119.8 90.3h0M129.1 122.3h0M115.2 93.6h0M131.9 111.9h0M121.1 112.8h0M140.8 91.3h0M141.1 110.2h0M135.3 97.8h0M126.8 110.9h0M129.7 91.3h0M119.8 106.0h0M147.8 113.5h0M114.4 99.8h0M145.7 109.9h0M133.8 133.6h0M129.7 95.8h0M138.0 105.9h0M119.1 112.9h0M122.3 109.0h0M146.2 107.2h0M132.4 116.0h0M120.1 105.7h0M122.4 112.5h0M121.2 106.3h0M146.3 105.8h0M124.4 107.0h0M143.3 120.2h0M146.7 123.4h0M122.2 113.8h0M143.2 133.5h0M120.0 103.0h0M126.5 92.5h0M116.2 101.2h0M124.7 105.3h0M137.8 137.4h0M125.4 109.2h0M125.3 103.9h0M114.7 98.0h0M144.3 130.2h0M119.8 108.8h0M139.8 96.5h0M139.3 115.5h0M132.8 117.8h0M129.1 114.8h0M139.2 86.5h0M155.7 131.5h0M137.7 112.2h0M141.3 103.7h0M125.8 80.2h0M135.3 109.8h0M143.3 121.1h0M147.1 110.4h0M135.3 115.2h0M123.4 112.9h0M145.1 121.4h0M120.8 94.8h0M135.7 136.8h0M127.1 90.8h0M144.7 118.6h0M135.6 136.1h0M137.2 102.6h0M135.2 125.4h0M125.4 107.9h0M124.6 108.3h0M128.7 112.8h0M135.6 120.2h0M144.8 94.6h0M126.7 96.2h0M140.8 92.4h0M128.6 102.3h0M155.9 140.8h0M124.8 97.6h0M126.5 103.7h0M133.4 95.1h0M125.6 104.3h0M148.8 145.6h0M115.6 102.7h0M125.2 116.8h0M118.5 100.4h0M123.7 103.2h0M135.7 120.0h0M146.6 123.3h0M124.9 111.7h0M147.1 105.7h0M122.2 104.7h0M116.1 90.2h0M124.4 102.1h0M137.6 92.3h0M132.4 105.3h0M127.9 102.8h0M150.4 113.8h0M152.6 115.8h0M120.5 107.2h0M118.9 111.6h0M137.9 89.0h0M127.5 99.4h0M125.0 90.1h0M122.6 89.7h0M114.5 91.3h0M139.0 141.0h0M137.7 108.9h0M124.9 109.8h0M124.6 97.8h0M142.8 104.5h0M138.3 94.8h0M131.6 113.5h0M122.6 87.4h0M123.1 111.3h0M130.0 118.1h0M145.5 104.7h0M138.7 136.0h0M137.0 100.2h0M144.9 93.9h0M145.9 99.2h0M118.9 102.6h0M127.0 95.8h0M121.4 115.6h0M130.2 107.4h0M126.7 104.6h0M115.9 92.8h0M125.7 110.5h0M140.4 97.5h0M121.8 95.1h0M135.9 116.0h0M131.5 118.9h0M129.3 104.6h0M135.5 88.0h0M130.9 97.1h0M141.9 111.1h0M117.3 97.3h0M146.2 98.5h0M148.9 114.3h0M153.8 124.2h0M136.4 101.6h0M127.0 95.1h0M136.2 109.6h0M125.3 112.5h0M140.2 130.3h0M140.2 117.2h0M135.7 95.0h0M127.8 116.8h0M113.1 95.1h0M129.8 113.0h0M123.2 101.2h0M137.8 100.1h0M116.7 94.2h0M119.3 112.9h0M143.3 83.7h0M139.2 100.4h0M141.4 114.5h0M123.4 105.6h0M138.0 137.9h0M129.4 89.3h0M144.7 138.6h0M126.2 95.0h0M142.7 110.7h0M145.7 92.2h0M140.4 132.4h0M137.7 128.6h0M125.0 112.8h0M134.9 113.5h0M122.8 110.6h0M120.9 112.4h0M117.1 102.1h0M143.9 107.9h0M135.1 134.4h0M133.3 104.4h0M141.5 92.0h0M144.3 136.2h0M139.3 110.2h0M127.9 114.3h0M138.4 110.9h0M127.3 110.3h0M128.9 116.5h0M116.7 103.4h0M126.6 115.6h0M141.8 126.4h0M117.8 99.0h0M126.2 102.1h0M144.2 132.3h0M127.6 114.9h0M139.5 80.9h0M122.9 109.6h0M151.4 136.2h0M130.5 92.6h0M116.4 103.3h0M127.5 96.9h0M137.3 134.6h0M126.7 100.3h0M113.2 91.0h0M132.4 98.8h0M134.0 97.9h0M117.5 88.6h0M126.2 116.9h0"/><path stroke="#a8d08c" stroke-width="0.8" stroke-linecap="round" d="M144.9 93.0h0M141.0 97.5h0M144.7 93.3h0M133.3 118.7h0M144.6 106.0h0M129.5 97.9h0M133.8 105.0h0M125.2 95.7h0M152.8 120.0h0M137.0 108.5h0M146.9 88.0h0M120.3 102.8h0M143.0 102.1h0M128.7 123.7h0M140.7 130.9h0M129.4 118.9h0M115.7 92.9h0M139.5 112.3h0M120.6 94.9h0M138.9 98.4h0M136.3 98.6h0M132.6 106.2h0M139.6 100.2h0M139.1 90.9h0M117.4 95.1h0M146.3 95.7h0M124.3 93.7h0M136.2 109.9h0M141.0 101.0h0M136.8 106.4h0M134.2 106.6h0M147.6 105.3h0M143.7 118.0h0M142.2 106.6h0M145.4 137.9h0M128.9 99.5h0M138.4 95.5h0M135.7 93.8h0M131.7 112.9h0M146.1 115.8h0M146.3 105.2h0M125.4 118.6h0M131.7 113.4h0M125.1 95.9h0M125.2 108.4h0M133.8 118.9h0M142.2 107.1h0M116.3 98.4h0M122.5 101.4h0M120.1 98.9h0M129.1 109.6h0M135.2 109.6h0M132.1 103.3h0M130.5 95.2h0M153.1 110.1h0M140.7 133.3h0M135.4 115.9h0M138.2 97.2h0M132.0 112.6h0M143.3 113.7h0M116.6 102.0h0M139.3 115.5h0M138.0 102.4h0M143.2 115.8h0M124.8 110.2h0M136.0 118.9h0M121.0 113.3h0M143.6 91.3h0M140.6 98.4h0M119.2 112.2h0M126.1 107.5h0M131.1 108.5h0M132.1 94.8h0M130.5 112.5h0M144.4 99.7h0M121.2 83.7h0M140.4 98.8h0M151.0 113.5h0M133.2 101.1h0M116.3 93.7h0M148.8 107.1h0M135.8 134.4h0M139.2 94.7h0M125.2 93.9h0M123.0 116.6h0M144.2 100.0h0M116.0 102.4h0M131.0 93.9h0M148.4 118.2h0M141.9 110.0h0M124.9 94.9h0M148.1 117.4h0M154.8 115.3h0M144.1 100.5h0M130.2 112.4h0M122.3 93.4h0M118.8 99.6h0M147.9 104.3h0M149.7 134.9h0M137.8 127.6h0M137.6 97.2h0M138.2 101.3h0M123.8 105.4h0M125.9 101.2h0M149.4 111.4h0M150.2 107.8h0M126.9 103.0h0M131.3 103.2h0M131.8 108.9h0M139.6 107.3h0M141.1 105.2h0M124.5 117.8h0M142.9 100.1h0M123.7 107.7h0M142.9 109.3h0M145.3 109.3h0M138.7 101.4h0M125.8 84.7h0M122.7 113.4h0M136.7 93.7h0M124.0 108.2h0M125.2 111.6h0M135.9 97.8h0M121.7 100.7h0M125.4 106.1h0M113.1 95.3h0M145.2 108.3h0M131.5 115.9h0M117.5 100.1h0M134.3 96.7h0M136.5 105.5h0M135.0 101.4h0M138.2 116.0h0M135.2 108.3h0M131.7 112.7h0M124.6 106.5h0M135.7 81.0h0M122.2 111.7h0M115.7 99.1h0M132.3 111.4h0M148.1 102.1h0M127.7 116.7h0M124.0 102.5h0M134.8 123.2h0M125.0 95.1h0M125.6 101.4h0M121.5 105.7h0M122.5 103.8h0M138.1 128.2h0M143.7 104.1h0M145.6 94.4h0M135.4 105.4h0M134.3 98.5h0M135.4 98.9h0M137.3 118.9h0M125.0 96.4h0M121.9 96.6h0M141.7 96.2h0M132.4 100.0h0M120.7 100.7h0M123.6 102.0h0M124.6 96.7h0M144.4 97.2h0M129.9 114.2h0M130.3 98.4h0M148.0 117.2h0M125.2 117.8h0M126.3 117.7h0M136.8 109.8h0M129.8 115.5h0M131.4 132.9h0M134.9 108.8h0M130.3 95.6h0M130.8 93.3h0M125.9 117.3h0M113.7 94.8h0M142.2 95.2h0M139.7 94.5h0M132.8 109.7h0M144.4 110.4h0M131.1 100.1h0M155.1 113.6h0M124.1 113.9h0M115.7 93.8h0M132.2 94.5h0M135.5 135.1h0M138.4 95.5h0M140.4 93.2h0M124.2 106.8h0M130.6 115.7h0M144.5 93.4h0M137.6 126.7h0M124.3 116.9h0M131.3 112.1h0M148.7 106.5h0M137.6 117.5h0M132.4 101.9h0M146.4 102.1h0M140.5 103.5h0M141.0 98.5h0M125.5 83.8h0M148.4 101.7h0M131.4 113.6h0M122.5 103.3h0M136.3 106.1h0M135.8 132.3h0M136.1 106.8h0M133.4 128.9h0M147.7 103.4h0M126.2 117.6h0M137.6 91.8h0M127.3 114.9h0M131.8 112.8h0M154.7 131.4h0M134.7 92.6h0M137.2 108.5h0M115.3 95.3h0M137.3 87.6h0M124.2 110.6h0M149.6 139.9h0M131.0 107.1h0M137.3 95.1h0"/><path stroke="#1f9c75" stroke-width="0.8" stroke-linecap="round" d="M152.4 122.7h0M148.5 122.3h0M145.9 118.6h0M139.4 119.1h0M149.6 110.4h0M146.1 117.3h0M146.0 108.9h0M147.3 121.6h0M142.6 112.2h0M137.3 108.3h0M151.4 117.1h0M139.5 112.6h0M148.1 117.5h0M146.8 107.4h0M139.9 114.3h0M144.9 109.8h0M144.4 115.7h0M150.4 117.7h0M148.7 119.9h0M148.4 110.6h0M143.2 121.5h0M141.5 124.0h0M144.4 110.8h0M149.3 111.0h0M144.4 114.4h0M140.4 118.6h0M144.3 111.2h0M148.7 110.8h0M146.9 116.9h0M152.2 118.7h0M137.1 114.1h0M142.5 123.0h0M140.5 111.3h0M142.8 120.8h0M137.1 114.5h0M150.2 111.8h0M140.6 124.4h0M141.1 109.1h0M147.7 109.0h0M144.4 123.6h0M138.6 125.2h0M150.5 111.8h0M137.1 124.4h0M146.2 116.1h0M152.8 117.7h0M148.7 114.3h0M148.1 111.1h0M148.1 119.0h0M140.8 115.7h0M151.8 120.3h0M149.6 110.5h0M137.5 115.5h0M138.1 119.5h0M141.8 115.0h0M139.4 117.2h0M142.4 117.9h0M138.7 118.6h0M142.5 112.0h0M152.1 110.6h0M148.6 110.6h0M143.2 106.2h0M137.1 119.1h0M137.7 115.6h0M148.6 117.5h0M143.3 110.8h0M149.2 114.5h0M143.6 107.8h0M142.0 108.9h0M144.7 124.5h0M139.8 120.9h0M139.9 112.8h0M142.2 125.3h0M138.0 124.4h0M145.8 111.4h0M144.9 119.9h0M141.2 117.5h0M144.1 124.3h0M146.2 111.8h0M141.6 125.8h0M140.8 112.5h0M146.6 111.7h0M149.1 116.4h0M150.7 107.8h0M151.1 114.9h0M151.0 112.6h0M142.0 116.6h0M143.4 119.8h0M149.0 111.8h0M152.0 115.5h0M142.3 118.3h0M142.3 113.0h0M138.2 120.7h0M138.9 111.2h0M146.5 111.5h0M141.4 112.7h0M152.6 125.2h0M151.4 124.5h0M150.7 110.4h0M144.4 117.1h0M150.9 120.4h0M140.4 115.8h0M148.9 112.1h0M144.6 115.1h0M137.5 118.3h0M146.6 113.1h0M139.9 115.0h0M142.2 112.7h0M152.8 112.8h0M145.2 107.3h0M143.1 112.6h0M144.4 112.9h0M137.3 112.0h0M149.6 107.7h0M148.4 117.8h0M147.3 116.7h0M137.0 110.5h0M141.1 116.6h0M146.7 117.0h0M137.7 110.1h0M140.5 111.9h0M141.9 120.5h0M149.8 113.0h0M144.9 108.1h0M144.6 110.3h0M147.4 115.5h0M151.5 113.0h0M149.6 116.3h0M138.6 117.1h0M141.9 114.6h0M137.6 113.5h0M149.0 107.5h0M138.0 119.8h0M148.5 117.7h0M139.6 106.1h0M149.8 121.7h0M138.8 118.4h0M141.3 108.7h0M137.1 111.4h0M148.5 123.1h0M143.4 122.0h0M138.3 108.4h0M140.4 112.5h0M151.9 114.0h0M146.5 107.0h0M137.4 116.8h0M144.5 115.5h0M137.5 106.1h0M145.9 112.4h0M145.7 111.0h0M152.6 113.0h0"/>
</g>
<use href="#sTail" stroke="#d6c6ea" stroke-width="2.2"/>
<path d="M171.2,57.5 L172.2,62" stroke="#b8a0d8" stroke-width="1.3"/>
<use href="#sOr" fill="#fa7d10"/>
<path d="M175.5,76.5 l1,1.2" stroke="#9a80c8" stroke-width="0.9"/>
<path d="M174.5,69 l1.5,2.5" stroke="#e8a070" stroke-width="0.8"/>
<use href="#sPlt" stroke="#f4a050" stroke-width="0.9"/>
</g>
<g font-size="4.6" fill="#111" stroke="#111" stroke-width="0.12">
<circle cx="194.2" cy="35.20" r="1.85" fill="#fbb46a"/>
<text x="198.6" y="36.75">B blast</text>
<circle cx="194.2" cy="39.65" r="1.85" fill="#d9541a"/>
<text x="198.6" y="41.20">B cells active</text>
<circle cx="194.2" cy="44.10" r="1.85" fill="#f58a5e"/>
<text x="198.6" y="45.65">B cells IgG</text>
<circle cx="194.2" cy="48.55" r="1.85" fill="#6d6fc6"/>
<text x="198.6" y="50.10">B cells IgM</text>
<circle cx="194.2" cy="53.00" r="1.85" fill="#e9c18c"/>
<text x="198.6" y="54.55">CD4 EM</text>
<circle cx="194.2" cy="57.45" r="1.85" fill="#e7aa10"/>
<text x="198.6" y="59.00">CD8 CT</text>
<circle cx="194.2" cy="61.90" r="1.85" fill="#a2691c"/>
<text x="198.6" y="63.45">CD8 naive</text>
<circle cx="194.2" cy="66.35" r="1.85" fill="#179a6a"/>
<text x="198.6" y="67.90">CD8 Tr</text>
<circle cx="194.2" cy="70.80" r="1.85" fill="#c3a8da"/>
<text x="198.6" y="72.35">Erythroblast</text>
<circle cx="194.2" cy="75.25" r="1.85" fill="#aed98c"/>
<text x="198.6" y="76.80">Gamma delta T cells</text>
<circle cx="194.2" cy="79.70" r="1.85" fill="#7f9ad4"/>
<text x="198.6" y="81.25">MAIT</text>
<circle cx="194.2" cy="84.15" r="1.85" fill="#5a5a5a"/>
<text x="198.6" y="85.70">Mon CD14</text>
<circle cx="194.2" cy="88.60" r="1.85" fill="#2ca02c"/>
<text x="198.6" y="90.15">Mon CD16</text>
<circle cx="194.2" cy="93.05" r="1.85" fill="#a3d2ea"/>
<text x="198.6" y="94.60">Mon HLA</text>
<circle cx="194.2" cy="97.50" r="1.85" fill="#e31a1c"/>
<text x="198.6" y="99.05">Mon IFI30</text>
<circle cx="194.2" cy="101.95" r="1.85" fill="#6a3aa8"/>
<text x="198.6" y="103.50">NK</text>
<circle cx="194.2" cy="106.40" r="1.85" fill="#ea8fcb"/>
<text x="198.6" y="107.95">NK MKI67</text>
<circle cx="194.2" cy="110.85" r="1.85" fill="#b9b9b9"/>
<text x="198.6" y="112.40">pDC</text>
<circle cx="194.2" cy="115.30" r="1.85" fill="#f47f16"/>
<text x="198.6" y="116.85">Platelet</text>
<circle cx="194.2" cy="119.75" r="1.85" fill="#f2d02a"/>
<text x="198.6" y="121.30">T Naive</text>
<circle cx="194.2" cy="124.20" r="1.85" fill="#4a9a30"/>
<text x="198.6" y="125.75">Tregs</text>
</g>
<g id="net">
<g stroke="#c2c2c8" stroke-width="0.42">
<line x1="56.5" y1="215" x2="56.5" y2="194.8"/>
<line x1="56.5" y1="215" x2="68.6" y2="195.6"/>
<line x1="56.5" y1="215" x2="36.9" y2="200.2"/>
<line x1="56.5" y1="215" x2="53" y2="201"/>
<line x1="56.5" y1="215" x2="75.9" y2="201"/>
<line x1="56.5" y1="215" x2="36.9" y2="206.4"/>
<line x1="56.5" y1="215" x2="78" y2="206.4"/>
<line x1="56.5" y1="215" x2="36.9" y2="210.4"/>
<line x1="56.5" y1="215" x2="32.8" y2="214.4"/>
<line x1="56.5" y1="215" x2="78" y2="211.7"/>
<line x1="56.5" y1="215" x2="38.2" y2="219"/>
<line x1="56.5" y1="215" x2="75.3" y2="217.1"/>
<line x1="56.5" y1="215" x2="35.8" y2="224.7"/>
<line x1="56.5" y1="215" x2="60.5" y2="224.9"/>
<line x1="56.5" y1="215" x2="39" y2="229.8"/>
<line x1="56.5" y1="215" x2="47.1" y2="233.3"/>
<line x1="121.5" y1="178.9" x2="117" y2="168.8"/>
<line x1="121.5" y1="178.9" x2="127.5" y2="168.8"/>
<line x1="121.5" y1="178.9" x2="109.6" y2="175.5"/>
<line x1="121.5" y1="178.9" x2="134.3" y2="177.3"/>
<line x1="121.5" y1="178.9" x2="111.4" y2="185.9"/>
<line x1="121.5" y1="178.9" x2="131.1" y2="187.9"/>
<line x1="121.5" y1="178.9" x2="121" y2="191.5"/>
<line x1="91.2" y1="170.6" x2="89.4" y2="179.1"/>
<line x1="165" y1="185.6" x2="148.8" y2="175.1"/>
<line x1="165" y1="185.6" x2="159.1" y2="173.5"/>
<line x1="165" y1="185.6" x2="170.2" y2="176.1"/>
<line x1="165" y1="185.6" x2="148.4" y2="185.2"/>
<line x1="165" y1="185.6" x2="181.9" y2="184.2"/>
<line x1="165" y1="185.6" x2="181.3" y2="192.2"/>
<line x1="165" y1="185.6" x2="159.7" y2="197.7"/>
<line x1="165" y1="185.6" x2="172.2" y2="197.7"/>
<line x1="148.8" y1="175.1" x2="148.4" y2="185.2"/>
<line x1="190.8" y1="219" x2="175.8" y2="215.4"/>
<line x1="190.8" y1="219" x2="186.2" y2="208.6"/>
<line x1="190.8" y1="219" x2="193.9" y2="206.3"/>
<line x1="190.8" y1="219" x2="201.6" y2="208.6"/>
<line x1="190.8" y1="219" x2="205.5" y2="216.2"/>
<line x1="190.8" y1="219" x2="203.4" y2="225"/>
<line x1="190.8" y1="219" x2="182.6" y2="225.5"/>
<line x1="190.8" y1="219" x2="194.7" y2="231.3"/>
<line x1="222.5" y1="238.5" x2="223.2" y2="227.7"/>
<line x1="222.5" y1="238.5" x2="226.3" y2="262.7"/>
<line x1="226.3" y1="262.7" x2="215.1" y2="248.5"/>
<line x1="226.3" y1="262.7" x2="227.4" y2="248.5"/>
<line x1="226.3" y1="262.7" x2="235.3" y2="254.1"/>
<line x1="226.3" y1="262.7" x2="212.2" y2="258.2"/>
<line x1="226.3" y1="262.7" x2="236" y2="263.6"/>
<line x1="226.3" y1="262.7" x2="214" y2="268.7"/>
<line x1="226.3" y1="262.7" x2="236.4" y2="272.5"/>
<line x1="226.3" y1="262.7" x2="221.2" y2="276.1"/>
<line x1="226.3" y1="262.7" x2="230.1" y2="278.4"/>
<line x1="92.8" y1="216.3" x2="101.7" y2="218.2"/>
<line x1="132" y1="216.1" x2="122.6" y2="228"/>
<line x1="122.6" y1="228" x2="121.5" y2="234.1"/>
<line x1="92.8" y1="216.3" x2="93.3" y2="235.1"/>
<line x1="101.7" y1="218.2" x2="93.3" y2="235.1"/>
<line x1="93.3" y1="235.1" x2="145.5" y2="238.7"/>
<line x1="122.6" y1="228" x2="145.5" y2="238.7"/>
<line x1="121.5" y1="234.1" x2="145.5" y2="238.7"/>
<line x1="93.3" y1="235.1" x2="122.6" y2="228"/>
<line x1="91.3" y1="279.5" x2="86.2" y2="241.1"/>
<line x1="91.3" y1="279.5" x2="81.8" y2="249.6"/>
<line x1="91.3" y1="279.5" x2="97.3" y2="247.2"/>
<line x1="91.3" y1="279.5" x2="101.4" y2="252.2"/>
<line x1="91.3" y1="279.5" x2="109.4" y2="255.3"/>
<line x1="91.3" y1="279.5" x2="114.5" y2="260.3"/>
<line x1="91.3" y1="279.5" x2="93.3" y2="262.9"/>
<line x1="91.3" y1="279.5" x2="103.4" y2="262.9"/>
<line x1="91.3" y1="279.5" x2="101.4" y2="267.4"/>
<line x1="91.3" y1="279.5" x2="111.5" y2="267.4"/>
<line x1="91.3" y1="279.5" x2="122.1" y2="267.4"/>
<line x1="91.3" y1="279.5" x2="109.4" y2="275"/>
<line x1="91.3" y1="279.5" x2="120.5" y2="274.4"/>
<line x1="91.3" y1="279.5" x2="115.5" y2="279.5"/>
<line x1="91.3" y1="279.5" x2="119.5" y2="283.9"/>
<line x1="91.3" y1="279.5" x2="101.4" y2="286.5"/>
<line x1="91.3" y1="279.5" x2="111.5" y2="288.6"/>
<line x1="91.3" y1="279.5" x2="86.2" y2="290.6"/>
<line x1="91.3" y1="279.5" x2="113.5" y2="292.6"/>
<line x1="91.3" y1="279.5" x2="71.6" y2="256.3"/>
<line x1="91.3" y1="279.5" x2="79.7" y2="258.3"/>
<line x1="91.3" y1="279.5" x2="63.6" y2="259.7"/>
<line x1="91.3" y1="279.5" x2="72.6" y2="262.3"/>
<line x1="91.3" y1="279.5" x2="61.5" y2="270.4"/>
<line x1="91.3" y1="279.5" x2="70.6" y2="268.4"/>
<line x1="91.3" y1="279.5" x2="84.7" y2="270.4"/>
<line x1="91.3" y1="279.5" x2="59.5" y2="274.4"/>
<line x1="91.3" y1="279.5" x2="60.5" y2="279.1"/>
<line x1="91.3" y1="279.5" x2="68.6" y2="279.5"/>
<line x1="91.3" y1="279.5" x2="62.5" y2="284.5"/>
<line x1="91.3" y1="279.5" x2="60.5" y2="289.2"/>
<line x1="91.3" y1="279.5" x2="61.5" y2="293.6"/>
<line x1="91.3" y1="279.5" x2="62.5" y2="298.7"/>
<line x1="91.3" y1="279.5" x2="69.6" y2="299.1"/>
<line x1="91.3" y1="279.5" x2="73.6" y2="297.1"/>
<line x1="91.3" y1="279.5" x2="79.7" y2="297.5"/>
<line x1="91.3" y1="279.5" x2="86.4" y2="291.1"/>
<line x1="91.3" y1="279.5" x2="75" y2="304.8"/>
<line x1="91.3" y1="279.5" x2="88.1" y2="301.1"/>
<line x1="91.3" y1="279.5" x2="92.5" y2="307.2"/>
<line x1="91.3" y1="279.5" x2="99.2" y2="304.2"/>
<line x1="91.3" y1="279.5" x2="108.2" y2="305.2"/>
<line x1="91.3" y1="279.5" x2="111.9" y2="299.5"/>
<line x1="91.3" y1="279.5" x2="95.1" y2="311.2"/>
<line x1="91.3" y1="279.5" x2="83" y2="313.7"/>
<line x1="91.3" y1="279.5" x2="105.2" y2="294.7"/>
<line x1="91.3" y1="279.5" x2="114.7" y2="293.1"/>
<line x1="91.3" y1="279.5" x2="122" y2="290.5"/>
<line x1="91.3" y1="279.5" x2="71.1" y2="243.2"/>
<line x1="91.3" y1="279.5" x2="93.3" y2="235.1"/>
<line x1="91.3" y1="279.5" x2="101.8" y2="317.3"/>
<line x1="91.3" y1="279.5" x2="129.6" y2="289.6"/>
<line x1="71.1" y1="243.2" x2="81.8" y2="249.6"/>
<line x1="71.1" y1="243.2" x2="86.2" y2="241.1"/>
<line x1="73.6" y1="322.3" x2="70.6" y2="329.8"/>
<line x1="73.6" y1="322.3" x2="88.1" y2="301.1"/>
<line x1="13.7" y1="267" x2="13.7" y2="276.5"/>
<line x1="31.3" y1="328.4" x2="27.2" y2="311.6"/>
<line x1="31.3" y1="328.4" x2="12.1" y2="314.3"/>
<line x1="31.3" y1="328.4" x2="23.2" y2="318.9"/>
<line x1="31.3" y1="328.4" x2="40.4" y2="317.3"/>
<line x1="31.3" y1="328.4" x2="14.5" y2="327.4"/>
<line x1="31.3" y1="328.4" x2="45.4" y2="334.4"/>
<line x1="31.3" y1="328.4" x2="24.2" y2="338.5"/>
<line x1="31.3" y1="328.4" x2="32.3" y2="342.5"/>
<line x1="31.3" y1="328.4" x2="40.4" y2="344.5"/>
<line x1="40.4" y1="344.5" x2="32.3" y2="342.5"/>
<line x1="40.4" y1="344.5" x2="36.3" y2="352"/>
<line x1="32.3" y1="342.5" x2="36.3" y2="352"/>
<line x1="40.4" y1="344.5" x2="53.5" y2="353.2"/>
<line x1="40.4" y1="344.5" x2="45.2" y2="356.7"/>
<line x1="145.5" y1="238.7" x2="166.5" y2="246.3"/>
<line x1="145.5" y1="238.7" x2="164.2" y2="253"/>
<line x1="166.5" y1="246.3" x2="164.2" y2="253"/>
<line x1="175.9" y1="238" x2="187.5" y2="236.7"/>
<line x1="164.2" y1="253" x2="176.3" y2="253"/>
<line x1="166.5" y1="246.3" x2="175.9" y2="238"/>
<line x1="164.2" y1="253" x2="177" y2="274.8"/>
<line x1="177" y1="274.8" x2="187.1" y2="285.5"/>
<line x1="177" y1="274.8" x2="197.2" y2="276.1"/>
<line x1="132" y1="216.1" x2="145.5" y2="238.7"/>
<line x1="183.3" y1="304.6" x2="165.1" y2="291.1"/>
<line x1="183.3" y1="304.6" x2="176.2" y2="295.1"/>
<line x1="183.3" y1="304.6" x2="194" y2="292.5"/>
<line x1="183.3" y1="304.6" x2="194.4" y2="297.8"/>
<line x1="183.3" y1="304.6" x2="163.1" y2="303.2"/>
<line x1="183.3" y1="304.6" x2="203.5" y2="300.6"/>
<line x1="183.3" y1="304.6" x2="199.4" y2="311.9"/>
<line x1="183.3" y1="304.6" x2="205.5" y2="307.8"/>
<line x1="183.3" y1="304.6" x2="176.6" y2="317.3"/>
<line x1="183.3" y1="304.6" x2="187.3" y2="316.7"/>
<line x1="183.3" y1="304.6" x2="193.4" y2="320"/>
<line x1="183.3" y1="304.6" x2="182.3" y2="323.4"/>
<line x1="183.3" y1="304.6" x2="187.1" y2="285.5"/>
<line x1="163.1" y1="303.2" x2="158.1" y2="296.1"/>
<line x1="163.1" y1="303.2" x2="165.1" y2="291.1"/>
<line x1="163.1" y1="303.2" x2="156.1" y2="315.9"/>
<line x1="163.1" y1="303.2" x2="163.1" y2="320"/>
<line x1="187.3" y1="316.7" x2="190.4" y2="334.1"/>
<line x1="129.6" y1="289.6" x2="158.1" y2="296.1"/>
<line x1="129.6" y1="289.6" x2="163.1" y2="303.2"/>
<line x1="224.7" y1="324" x2="217.6" y2="317.3"/>
<line x1="224.7" y1="324" x2="230.7" y2="314.7"/>
<line x1="224.7" y1="324" x2="236.8" y2="324"/>
<line x1="224.7" y1="324" x2="215.6" y2="332.1"/>
<line x1="224.7" y1="324" x2="232.7" y2="332.9"/>
<line x1="101.8" y1="317.3" x2="101.7" y2="354"/>
<line x1="101.7" y1="354" x2="87.4" y2="352.9"/>
<line x1="101.7" y1="354" x2="106.3" y2="345.9"/>
<line x1="101.7" y1="354" x2="114.3" y2="350.2"/>
<line x1="101.7" y1="354" x2="90.1" y2="361"/>
<line x1="101.7" y1="354" x2="90.9" y2="366.4"/>
<line x1="101.7" y1="354" x2="103.6" y2="365.6"/>
<line x1="101.7" y1="354" x2="96.3" y2="370.1"/>
<line x1="101.7" y1="354" x2="114.3" y2="368.2"/>
<line x1="101.7" y1="354" x2="122" y2="360.1"/>
<line x1="88.8" y1="376.3" x2="101.7" y2="354"/>
<line x1="137.7" y1="375.2" x2="124.5" y2="373.3"/>
<line x1="137.7" y1="375.2" x2="116.3" y2="379"/>
<line x1="137.7" y1="375.2" x2="124.5" y2="383.7"/>
<line x1="137.7" y1="375.2" x2="134.5" y2="385.8"/>
<line x1="137.7" y1="375.2" x2="126.7" y2="391.5"/>
<line x1="137.7" y1="375.2" x2="139.2" y2="393"/>
<line x1="137.7" y1="375.2" x2="148.7" y2="389"/>
<line x1="137.7" y1="375.2" x2="149.6" y2="383.7"/>
<line x1="137.7" y1="375.2" x2="158.1" y2="380.5"/>
<line x1="137.7" y1="375.2" x2="156.5" y2="375.2"/>
<line x1="137.7" y1="375.2" x2="157.1" y2="370.2"/>
<line x1="137.7" y1="375.2" x2="159.6" y2="365.4"/>
<line x1="137.7" y1="375.2" x2="151.8" y2="360.7"/>
<line x1="137.7" y1="375.2" x2="142.4" y2="357.6"/>
<line x1="137.7" y1="375.2" x2="136.1" y2="362.6"/>
<line x1="172.9" y1="365.5" x2="137.7" y2="375.2"/>
<line x1="200.4" y1="360.9" x2="188.7" y2="356"/>
<line x1="200.4" y1="360.9" x2="207" y2="354.8"/>
<line x1="200.4" y1="360.9" x2="194.4" y2="368.6"/>
</g>
<ellipse cx="56.5" cy="215" rx="8.00" ry="2.70" fill="#f7c8c8" stroke="#f4c0c0" stroke-width="0.3"/>
<ellipse cx="56.5" cy="194.8" rx="9.32" ry="1.90" fill="#d9d9ef" stroke="#d6d6ee" stroke-width="0.3"/>
<ellipse cx="68.6" cy="195.6" rx="5.85" ry="1.90" fill="#d9d9ef" stroke="#d6d6ee" stroke-width="0.3"/>
<ellipse cx="36.9" cy="200.2" rx="7.58" ry="1.90" fill="#d9d9ef" stroke="#d6d6ee" stroke-width="0.3"/>
<ellipse cx="53" cy="201" rx="8.55" ry="1.90" fill="#d9d9ef" stroke="#d6d6ee" stroke-width="0.3"/>
<ellipse cx="75.9" cy="201" rx="8.55" ry="1.90" fill="#d9d9ef" stroke="#d6d6ee" stroke-width="0.3"/>
<ellipse cx="36.9" cy="206.4" rx="6.40" ry="1.90" fill="#d9d9ef" stroke="#d6d6ee" stroke-width="0.3"/>
<ellipse cx="78" cy="206.4" rx="8.55" ry="1.90" fill="#d9d9ef" stroke="#d6d6ee" stroke-width="0.3"/>
<ellipse cx="36.9" cy="210.4" rx="6.82" ry="1.90" fill="#d9d9ef" stroke="#d6d6ee" stroke-width="0.3"/>
<ellipse cx="32.8" cy="214.4" rx="5.85" ry="1.90" fill="#d9d9ef" stroke="#d6d6ee" stroke-width="0.3"/>
<ellipse cx="78" cy="211.7" rx="5.09" ry="1.90" fill="#d9d9ef" stroke="#d6d6ee" stroke-width="0.3"/>
<ellipse cx="38.2" cy="219" rx="5.85" ry="1.90" fill="#d9d9ef" stroke="#d6d6ee" stroke-width="0.3"/>
<ellipse cx="75.3" cy="217.1" rx="7.03" ry="1.90" fill="#d9d9ef" stroke="#d6d6ee" stroke-width="0.3"/>
<ellipse cx="35.8" cy="224.7" rx="8.25" ry="1.90" fill="#d9d9ef" stroke="#d6d6ee" stroke-width="0.3"/>
<ellipse cx="60.5" cy="224.9" rx="8.55" ry="1.90" fill="#d9d9ef" stroke="#d6d6ee" stroke-width="0.3"/>
<ellipse cx="39" cy="229.8" rx="4.88" ry="1.90" fill="#d9d9ef" stroke="#d6d6ee" stroke-width="0.3"/>
<ellipse cx="47.1" cy="233.3" rx="8.77" ry="1.90" fill="#d9d9ef" stroke="#d6d6ee" stroke-width="0.3"/>
<ellipse cx="121.5" cy="178.9" rx="5.61" ry="2.70" fill="#f7c8c8" stroke="#f4c0c0" stroke-width="0.3"/>
<ellipse cx="117" cy="168.8" rx="5.09" ry="1.90" fill="#d9d9ef" stroke="#d6d6ee" stroke-width="0.3"/>
<ellipse cx="127.5" cy="168.8" rx="5.85" ry="1.90" fill="#d9d9ef" stroke="#d6d6ee" stroke-width="0.3"/>
<ellipse cx="109.6" cy="175.5" rx="4.12" ry="1.90" fill="#d9d9ef" stroke="#d6d6ee" stroke-width="0.3"/>
<ellipse cx="134.3" cy="177.3" rx="4.12" ry="1.90" fill="#d9d9ef" stroke="#d6d6ee" stroke-width="0.3"/>
<ellipse cx="111.4" cy="185.9" rx="4.12" ry="1.90" fill="#d9d9ef" stroke="#d6d6ee" stroke-width="0.3"/>
<ellipse cx="131.1" cy="187.9" rx="4.88" ry="1.90" fill="#d9d9ef" stroke="#d6d6ee" stroke-width="0.3"/>
<ellipse cx="121" cy="191.5" rx="3.91" ry="1.90" fill="#d9d9ef" stroke="#d6d6ee" stroke-width="0.3"/>
<ellipse cx="91.2" cy="170.6" rx="5.64" ry="1.90" fill="#d9d9ef" stroke="#d6d6ee" stroke-width="0.3"/>
<ellipse cx="89.4" cy="179.1" rx="5.85" ry="1.90" fill="#f7c8c8" stroke="#f4c0c0" stroke-width="0.3"/>
<ellipse cx="165" cy="185.6" rx="7.74" ry="2.70" fill="#f7c8c8" stroke="#f4c0c0" stroke-width="0.3"/>
<ellipse cx="148.8" cy="175.1" rx="4.88" ry="1.90" fill="#f7c8c8" stroke="#f4c0c0" stroke-width="0.3"/>
<ellipse cx="148.4" cy="185.2" rx="5.85" ry="1.90" fill="#d9d9ef" stroke="#d6d6ee" stroke-width="0.3"/>
<ellipse cx="159.1" cy="173.5" rx="5.09" ry="1.90" fill="#d9d9ef" stroke="#d6d6ee" stroke-width="0.3"/>
<ellipse cx="170.2" cy="176.1" rx="5.09" ry="1.90" fill="#d9d9ef" stroke="#d6d6ee" stroke-width="0.3"/>
<ellipse cx="181.9" cy="184.2" rx="5.64" ry="1.90" fill="#d9d9ef" stroke="#d6d6ee" stroke-width="0.3"/>
<ellipse cx="181.3" cy="192.2" rx="5.64" ry="1.90" fill="#d9d9ef" stroke="#d6d6ee" stroke-width="0.3"/>
<ellipse cx="159.7" cy="197.7" rx="5.64" ry="1.90" fill="#d9d9ef" stroke="#d6d6ee" stroke-width="0.3"/>
<ellipse cx="172.2" cy="197.7" rx="5.09" ry="1.90" fill="#f7c8c8" stroke="#f4c0c0" stroke-width="0.3"/>
<ellipse cx="190.8" cy="219" rx="6.81" ry="2.70" fill="#f7c8c8" stroke="#f4c0c0" stroke-width="0.3"/>
<ellipse cx="175.8" cy="215.4" rx="9.53" ry="1.90" fill="#d9d9ef" stroke="#d6d6ee" stroke-width="0.3"/>
<ellipse cx="186.2" cy="208.6" rx="4.88" ry="1.90" fill="#d9d9ef" stroke="#d6d6ee" stroke-width="0.3"/>
<ellipse cx="193.9" cy="206.3" rx="5.64" ry="1.90" fill="#d9d9ef" stroke="#d6d6ee" stroke-width="0.3"/>
<ellipse cx="201.6" cy="208.6" rx="4.12" ry="1.90" fill="#d9d9ef" stroke="#d6d6ee" stroke-width="0.3"/>
<ellipse cx="205.5" cy="216.2" rx="5.09" ry="1.90" fill="#d9d9ef" stroke="#d6d6ee" stroke-width="0.3"/>
<ellipse cx="203.4" cy="225" rx="3.91" ry="1.90" fill="#d9d9ef" stroke="#d6d6ee" stroke-width="0.3"/>
<ellipse cx="182.6" cy="225.5" rx="6.82" ry="1.90" fill="#d9d9ef" stroke="#d6d6ee" stroke-width="0.3"/>
<ellipse cx="194.7" cy="231.3" rx="5.85" ry="1.90" fill="#d9d9ef" stroke="#d6d6ee" stroke-width="0.3"/>
<ellipse cx="222.5" cy="238.5" rx="5.85" ry="1.90" fill="#f7c8c8" stroke="#f4c0c0" stroke-width="0.3"/>
<ellipse cx="223.2" cy="227.7" rx="4.88" ry="1.90" fill="#d9d9ef" stroke="#d6d6ee" stroke-width="0.3"/>
<ellipse cx="226.3" cy="262.7" rx="5.61" ry="2.70" fill="#f7c8c8" stroke="#f4c0c0" stroke-width="0.3"/>
<ellipse cx="215.1" cy="248.5" rx="5.64" ry="1.90" fill="#d9d9ef" stroke="#d6d6ee" stroke-width="0.3"/>
<ellipse cx="227.4" cy="248.5" rx="6.61" ry="1.90" fill="#d9d9ef" stroke="#d6d6ee" stroke-width="0.3"/>
<ellipse cx="235.3" cy="254.1" rx="5.85" ry="1.90" fill="#d9d9ef" stroke="#d6d6ee" stroke-width="0.3"/>
<ellipse cx="212.2" cy="258.2" rx="4.88" ry="1.90" fill="#d9d9ef" stroke="#d6d6ee" stroke-width="0.3"/>
<ellipse cx="236" cy="263.6" rx="5.64" ry="1.90" fill="#d9d9ef" stroke="#d6d6ee" stroke-width="0.3"/>
<ellipse cx="214" cy="268.7" rx="5.85" ry="1.90" fill="#d9d9ef" stroke="#d6d6ee" stroke-width="0.3"/>
<ellipse cx="236.4" cy="272.5" rx="4.88" ry="1.90" fill="#d9d9ef" stroke="#d6d6ee" stroke-width="0.3"/>
<ellipse cx="221.2" cy="276.1" rx="5.85" ry="1.90" fill="#d9d9ef" stroke="#d6d6ee" stroke-width="0.3"/>
<ellipse cx="230.1" cy="278.4" rx="3.91" ry="1.90" fill="#d9d9ef" stroke="#d6d6ee" stroke-width="0.3"/>
<ellipse cx="92.8" cy="216.3" rx="4.88" ry="1.90" fill="#f7c8c8" stroke="#f4c0c0" stroke-width="0.3"/>
<ellipse cx="101.7" cy="218.2" rx="5.09" ry="1.90" fill="#d9d9ef" stroke="#d6d6ee" stroke-width="0.3"/>
<ellipse cx="132" cy="216.1" rx="5.85" ry="1.90" fill="#d9d9ef" stroke="#d6d6ee" stroke-width="0.3"/>
<ellipse cx="122.6" cy="228" rx="6.06" ry="1.90" fill="#f7c8c8" stroke="#f4c0c0" stroke-width="0.3"/>
<ellipse cx="121.5" cy="234.1" rx="5.85" ry="1.90" fill="#f7c8c8" stroke="#f4c0c0" stroke-width="0.3"/>
<ellipse cx="93.3" cy="235.1" rx="5.64" ry="1.90" fill="#cfeac4" stroke="#c0e4b4" stroke-width="0.3"/>
<ellipse cx="145.5" cy="238.7" rx="8.48" ry="2.90" fill="#cfeac4" stroke="#c0e4b4" stroke-width="0.3"/>
<ellipse cx="71.1" cy="243.2" rx="6.06" ry="1.90" fill="#f7c8c8" stroke="#f4c0c0" stroke-width="0.3"/>
<ellipse cx="91.3" cy="279.5" rx="5.61" ry="2.70" fill="#f7c8c8" stroke="#f4c0c0" stroke-width="0.3"/>
<ellipse cx="86.2" cy="241.1" rx="6.82" ry="1.90" fill="#d9d9ef" stroke="#d6d6ee" stroke-width="0.3"/>
<ellipse cx="81.8" cy="249.6" rx="7.03" ry="1.90" fill="#cfeac4" stroke="#c0e4b4" stroke-width="0.3"/>
<ellipse cx="97.3" cy="247.2" rx="5.09" ry="1.90" fill="#d9d9ef" stroke="#d6d6ee" stroke-width="0.3"/>
<ellipse cx="101.4" cy="252.2" rx="8.77" ry="1.90" fill="#d9d9ef" stroke="#d6d6ee" stroke-width="0.3"/>
<ellipse cx="109.4" cy="255.3" rx="4.88" ry="1.90" fill="#d9d9ef" stroke="#d6d6ee" stroke-width="0.3"/>
<ellipse cx="114.5" cy="260.3" rx="6.95" ry="1.90" fill="#cfeac4" stroke="#c0e4b4" stroke-width="0.3"/>
<ellipse cx="93.3" cy="262.9" rx="6.95" ry="1.90" fill="#d9d9ef" stroke="#d6d6ee" stroke-width="0.3"/>
<ellipse cx="103.4" cy="262.9" rx="4.88" ry="1.90" fill="#cfeac4" stroke="#c0e4b4" stroke-width="0.3"/>
<ellipse cx="101.4" cy="267.4" rx="5.09" ry="1.90" fill="#cfeac4" stroke="#c0e4b4" stroke-width="0.3"/>
<ellipse cx="111.5" cy="267.4" rx="5.85" ry="1.90" fill="#d9d9ef" stroke="#d6d6ee" stroke-width="0.3"/>
<ellipse cx="122.1" cy="267.4" rx="6.82" ry="1.90" fill="#d9d9ef" stroke="#d6d6ee" stroke-width="0.3"/>
<ellipse cx="109.4" cy="275" rx="5.09" ry="1.90" fill="#d9d9ef" stroke="#d6d6ee" stroke-width="0.3"/>
<ellipse cx="120.5" cy="274.4" rx="6.82" ry="1.90" fill="#d9d9ef" stroke="#d6d6ee" stroke-width="0.3"/>
<ellipse cx="115.5" cy="279.5" rx="5.09" ry="1.90" fill="#d9d9ef" stroke="#d6d6ee" stroke-width="0.3"/>
<ellipse cx="119.5" cy="283.9" rx="4.67" ry="1.90" fill="#d9d9ef" stroke="#d6d6ee" stroke-width="0.3"/>
<ellipse cx="101.4" cy="286.5" rx="4.88" ry="1.90" fill="#d9d9ef" stroke="#d6d6ee" stroke-width="0.3"/>
<ellipse cx="111.5" cy="288.6" rx="5.09" ry="1.90" fill="#d9d9ef" stroke="#d6d6ee" stroke-width="0.3"/>
<ellipse cx="86.2" cy="290.6" rx="4.12" ry="1.90" fill="#d9d9ef" stroke="#d6d6ee" stroke-width="0.3"/>
<ellipse cx="113.5" cy="292.6" rx="4.12" ry="1.90" fill="#d9d9ef" stroke="#d6d6ee" stroke-width="0.3"/>
<ellipse cx="71.6" cy="256.3" rx="6.19" ry="1.90" fill="#d9d9ef" stroke="#d6d6ee" stroke-width="0.3"/>
<ellipse cx="79.7" cy="258.3" rx="5.09" ry="1.90" fill="#d9d9ef" stroke="#d6d6ee" stroke-width="0.3"/>
<ellipse cx="63.6" cy="259.7" rx="4.12" ry="1.90" fill="#d9d9ef" stroke="#d6d6ee" stroke-width="0.3"/>
<ellipse cx="72.6" cy="262.3" rx="6.19" ry="1.90" fill="#d9d9ef" stroke="#d6d6ee" stroke-width="0.3"/>
<ellipse cx="61.5" cy="270.4" rx="5.09" ry="1.90" fill="#d9d9ef" stroke="#d6d6ee" stroke-width="0.3"/>
<ellipse cx="70.6" cy="268.4" rx="6.82" ry="1.90" fill="#d9d9ef" stroke="#d6d6ee" stroke-width="0.3"/>
<ellipse cx="84.7" cy="270.4" rx="4.88" ry="1.90" fill="#d9d9ef" stroke="#d6d6ee" stroke-width="0.3"/>
<ellipse cx="59.5" cy="274.4" rx="4.88" ry="1.90" fill="#d9d9ef" stroke="#d6d6ee" stroke-width="0.3"/>
<ellipse cx="60.5" cy="279.1" rx="4.88" ry="1.90" fill="#d9d9ef" stroke="#d6d6ee" stroke-width="0.3"/>
<ellipse cx="68.6" cy="279.5" rx="4.12" ry="1.90" fill="#cfeac4" stroke="#c0e4b4" stroke-width="0.3"/>
<ellipse cx="62.5" cy="284.5" rx="5.85" ry="1.90" fill="#d9d9ef" stroke="#d6d6ee" stroke-width="0.3"/>
<ellipse cx="60.5" cy="289.2" rx="8.00" ry="1.90" fill="#d9d9ef" stroke="#d6d6ee" stroke-width="0.3"/>
<ellipse cx="61.5" cy="293.6" rx="5.43" ry="1.90" fill="#d9d9ef" stroke="#d6d6ee" stroke-width="0.3"/>
<ellipse cx="62.5" cy="298.7" rx="4.67" ry="1.90" fill="#d9d9ef" stroke="#d6d6ee" stroke-width="0.3"/>
<ellipse cx="69.6" cy="299.1" rx="5.09" ry="1.90" fill="#d9d9ef" stroke="#d6d6ee" stroke-width="0.3"/>
<ellipse cx="73.6" cy="297.1" rx="5.85" ry="1.90" fill="#d9d9ef" stroke="#d6d6ee" stroke-width="0.3"/>
<ellipse cx="79.7" cy="297.5" rx="4.88" ry="1.90" fill="#d9d9ef" stroke="#d6d6ee" stroke-width="0.3"/>
<ellipse cx="86.4" cy="291.1" rx="4.12" ry="1.90" fill="#d9d9ef" stroke="#d6d6ee" stroke-width="0.3"/>
<ellipse cx="75" cy="304.8" rx="6.19" ry="1.90" fill="#d9d9ef" stroke="#d6d6ee" stroke-width="0.3"/>
<ellipse cx="88.1" cy="301.1" rx="4.88" ry="1.90" fill="#cfeac4" stroke="#c0e4b4" stroke-width="0.3"/>
<ellipse cx="92.5" cy="307.2" rx="5.09" ry="1.90" fill="#d9d9ef" stroke="#d6d6ee" stroke-width="0.3"/>
<ellipse cx="99.2" cy="304.2" rx="6.82" ry="1.90" fill="#d9d9ef" stroke="#d6d6ee" stroke-width="0.3"/>
<ellipse cx="108.2" cy="305.2" rx="5.85" ry="1.90" fill="#d9d9ef" stroke="#d6d6ee" stroke-width="0.3"/>
<ellipse cx="111.9" cy="299.5" rx="5.85" ry="1.90" fill="#d9d9ef" stroke="#d6d6ee" stroke-width="0.3"/>
<ellipse cx="95.1" cy="311.2" rx="6.82" ry="1.90" fill="#d9d9ef" stroke="#d6d6ee" stroke-width="0.3"/>
<ellipse cx="83" cy="313.7" rx="8.25" ry="1.90" fill="#d9d9ef" stroke="#d6d6ee" stroke-width="0.3"/>
<ellipse cx="105.2" cy="294.7" rx="6.82" ry="1.90" fill="#d9d9ef" stroke="#d6d6ee" stroke-width="0.3"/>
<ellipse cx="114.7" cy="293.1" rx="4.12" ry="1.90" fill="#d9d9ef" stroke="#d6d6ee" stroke-width="0.3"/>
<ellipse cx="122" cy="290.5" rx="5.09" ry="1.90" fill="#d9d9ef" stroke="#d6d6ee" stroke-width="0.3"/>
<ellipse cx="101.8" cy="317.3" rx="4.88" ry="1.90" fill="#d9d9ef" stroke="#d6d6ee" stroke-width="0.3"/>
<ellipse cx="129.6" cy="289.6" rx="5.85" ry="1.90" fill="#d9d9ef" stroke="#d6d6ee" stroke-width="0.3"/>
<ellipse cx="73.6" cy="322.3" rx="5.09" ry="1.90" fill="#f7c8c8" stroke="#f4c0c0" stroke-width="0.3"/>
<ellipse cx="70.6" cy="329.8" rx="8.25" ry="1.90" fill="#d9d9ef" stroke="#d6d6ee" stroke-width="0.3"/>
<ellipse cx="13.7" cy="267" rx="5.85" ry="1.90" fill="#d9d9ef" stroke="#d6d6ee" stroke-width="0.3"/>
<ellipse cx="13.7" cy="276.5" rx="4.88" ry="1.90" fill="#f7c8c8" stroke="#f4c0c0" stroke-width="0.3"/>
<ellipse cx="31.3" cy="328.4" rx="5.87" ry="2.70" fill="#f7c8c8" stroke="#f4c0c0" stroke-width="0.3"/>
<ellipse cx="32.3" cy="342.5" rx="4.12" ry="1.90" fill="#f7c8c8" stroke="#f4c0c0" stroke-width="0.3"/>
<ellipse cx="40.4" cy="344.5" rx="4.68" ry="2.70" fill="#f7c8c8" stroke="#f4c0c0" stroke-width="0.3"/>
<ellipse cx="36.3" cy="352" rx="5.09" ry="1.90" fill="#f7c8c8" stroke="#f4c0c0" stroke-width="0.3"/>
<ellipse cx="27.2" cy="311.6" rx="7.03" ry="1.90" fill="#d9d9ef" stroke="#d6d6ee" stroke-width="0.3"/>
<ellipse cx="12.1" cy="314.3" rx="5.85" ry="1.90" fill="#d9d9ef" stroke="#d6d6ee" stroke-width="0.3"/>
<ellipse cx="23.2" cy="318.9" rx="6.40" ry="1.90" fill="#f7c8c8" stroke="#f4c0c0" stroke-width="0.3"/>
<ellipse cx="40.4" cy="317.3" rx="5.85" ry="1.90" fill="#d9d9ef" stroke="#d6d6ee" stroke-width="0.3"/>
<ellipse cx="14.5" cy="327.4" rx="6.40" ry="1.90" fill="#d9d9ef" stroke="#d6d6ee" stroke-width="0.3"/>
<ellipse cx="45.4" cy="334.4" rx="5.64" ry="1.90" fill="#d9d9ef" stroke="#d6d6ee" stroke-width="0.3"/>
<ellipse cx="24.2" cy="338.5" rx="4.67" ry="1.90" fill="#d9d9ef" stroke="#d6d6ee" stroke-width="0.3"/>
<ellipse cx="53.5" cy="353.2" rx="5.85" ry="1.90" fill="#d9d9ef" stroke="#d6d6ee" stroke-width="0.3"/>
<ellipse cx="45.2" cy="356.7" rx="4.88" ry="1.90" fill="#d9d9ef" stroke="#d6d6ee" stroke-width="0.3"/>
<ellipse cx="166.5" cy="246.3" rx="4.88" ry="1.90" fill="#f7c8c8" stroke="#f4c0c0" stroke-width="0.3"/>
<ellipse cx="164.2" cy="253" rx="4.88" ry="1.90" fill="#f7c8c8" stroke="#f4c0c0" stroke-width="0.3"/>
<ellipse cx="175.9" cy="238" rx="3.91" ry="1.90" fill="#cfeac4" stroke="#c0e4b4" stroke-width="0.3"/>
<ellipse cx="187.5" cy="236.7" rx="4.88" ry="1.90" fill="#f7c8c8" stroke="#f4c0c0" stroke-width="0.3"/>
<ellipse cx="176.3" cy="253" rx="6.61" ry="1.90" fill="#cfeac4" stroke="#c0e4b4" stroke-width="0.3"/>
<ellipse cx="177" cy="274.8" rx="5.85" ry="2.90" fill="#cfeac4" stroke="#c0e4b4" stroke-width="0.3"/>
<ellipse cx="197.2" cy="276.1" rx="5.85" ry="1.90" fill="#d9d9ef" stroke="#d6d6ee" stroke-width="0.3"/>
<ellipse cx="187.1" cy="285.5" rx="6.10" ry="2.90" fill="#f7c8c8" stroke="#f4c0c0" stroke-width="0.3"/>
<ellipse cx="183.3" cy="304.6" rx="5.61" ry="2.70" fill="#f7c8c8" stroke="#f4c0c0" stroke-width="0.3"/>
<ellipse cx="163.1" cy="303.2" rx="8.12" ry="2.90" fill="#f7c8c8" stroke="#f4c0c0" stroke-width="0.3"/>
<ellipse cx="187.3" cy="316.7" rx="4.88" ry="1.90" fill="#f7c8c8" stroke="#f4c0c0" stroke-width="0.3"/>
<ellipse cx="158.1" cy="296.1" rx="7.58" ry="1.90" fill="#d9d9ef" stroke="#d6d6ee" stroke-width="0.3"/>
<ellipse cx="165.1" cy="291.1" rx="4.67" ry="1.90" fill="#d9d9ef" stroke="#d6d6ee" stroke-width="0.3"/>
<ellipse cx="176.2" cy="295.1" rx="4.88" ry="1.90" fill="#d9d9ef" stroke="#d6d6ee" stroke-width="0.3"/>
<ellipse cx="194" cy="292.5" rx="4.12" ry="1.90" fill="#d9d9ef" stroke="#d6d6ee" stroke-width="0.3"/>
<ellipse cx="194.4" cy="297.8" rx="4.12" ry="1.90" fill="#d9d9ef" stroke="#d6d6ee" stroke-width="0.3"/>
<ellipse cx="203.5" cy="300.6" rx="5.85" ry="1.90" fill="#d9d9ef" stroke="#d6d6ee" stroke-width="0.3"/>
<ellipse cx="199.4" cy="311.9" rx="6.06" ry="1.90" fill="#d9d9ef" stroke="#d6d6ee" stroke-width="0.3"/>
<ellipse cx="205.5" cy="307.8" rx="6.82" ry="1.90" fill="#d9d9ef" stroke="#d6d6ee" stroke-width="0.3"/>
<ellipse cx="176.6" cy="317.3" rx="5.09" ry="1.90" fill="#d9d9ef" stroke="#d6d6ee" stroke-width="0.3"/>
<ellipse cx="193.4" cy="320" rx="4.88" ry="1.90" fill="#d9d9ef" stroke="#d6d6ee" stroke-width="0.3"/>
<ellipse cx="182.3" cy="323.4" rx="4.67" ry="1.90" fill="#d9d9ef" stroke="#d6d6ee" stroke-width="0.3"/>
<ellipse cx="156.1" cy="315.9" rx="7.79" ry="1.90" fill="#d9d9ef" stroke="#d6d6ee" stroke-width="0.3"/>
<ellipse cx="163.1" cy="320" rx="6.06" ry="1.90" fill="#d9d9ef" stroke="#d6d6ee" stroke-width="0.3"/>
<ellipse cx="190.4" cy="334.1" rx="5.09" ry="1.90" fill="#d9d9ef" stroke="#d6d6ee" stroke-width="0.3"/>
<ellipse cx="224.7" cy="324" rx="7.23" ry="2.90" fill="#f7c8c8" stroke="#f4c0c0" stroke-width="0.3"/>
<ellipse cx="217.6" cy="317.3" rx="5.85" ry="1.90" fill="#d9d9ef" stroke="#d6d6ee" stroke-width="0.3"/>
<ellipse cx="230.7" cy="314.7" rx="6.95" ry="1.90" fill="#d9d9ef" stroke="#d6d6ee" stroke-width="0.3"/>
<ellipse cx="236.8" cy="324" rx="5.85" ry="1.90" fill="#d9d9ef" stroke="#d6d6ee" stroke-width="0.3"/>
<ellipse cx="215.6" cy="332.1" rx="6.06" ry="1.90" fill="#d9d9ef" stroke="#d6d6ee" stroke-width="0.3"/>
<ellipse cx="232.7" cy="332.9" rx="6.19" ry="1.90" fill="#d9d9ef" stroke="#d6d6ee" stroke-width="0.3"/>
<ellipse cx="101.7" cy="354" rx="6.81" ry="2.70" fill="#f7c8c8" stroke="#f4c0c0" stroke-width="0.3"/>
<ellipse cx="87.4" cy="352.9" rx="5.09" ry="1.90" fill="#d9d9ef" stroke="#d6d6ee" stroke-width="0.3"/>
<ellipse cx="106.3" cy="345.9" rx="4.88" ry="1.90" fill="#d9d9ef" stroke="#d6d6ee" stroke-width="0.3"/>
<ellipse cx="114.3" cy="350.2" rx="5.09" ry="1.90" fill="#d9d9ef" stroke="#d6d6ee" stroke-width="0.3"/>
<ellipse cx="90.1" cy="361" rx="5.09" ry="1.90" fill="#d9d9ef" stroke="#d6d6ee" stroke-width="0.3"/>
<ellipse cx="90.9" cy="366.4" rx="4.88" ry="1.90" fill="#d9d9ef" stroke="#d6d6ee" stroke-width="0.3"/>
<ellipse cx="103.6" cy="365.6" rx="5.85" ry="1.90" fill="#d9d9ef" stroke="#d6d6ee" stroke-width="0.3"/>
<ellipse cx="96.3" cy="370.1" rx="4.88" ry="1.90" fill="#d9d9ef" stroke="#d6d6ee" stroke-width="0.3"/>
<ellipse cx="114.3" cy="368.2" rx="4.88" ry="1.90" fill="#d9d9ef" stroke="#d6d6ee" stroke-width="0.3"/>
<ellipse cx="122" cy="360.1" rx="5.09" ry="1.90" fill="#d9d9ef" stroke="#d6d6ee" stroke-width="0.3"/>
<ellipse cx="88.8" cy="376.3" rx="6.40" ry="1.90" fill="#f7c8c8" stroke="#f4c0c0" stroke-width="0.3"/>
<ellipse cx="137.7" cy="375.2" rx="6.55" ry="2.70" fill="#f7c8c8" stroke="#f4c0c0" stroke-width="0.3"/>
<ellipse cx="124.5" cy="373.3" rx="4.88" ry="1.90" fill="#d9d9ef" stroke="#d6d6ee" stroke-width="0.3"/>
<ellipse cx="116.3" cy="379" rx="6.61" ry="1.90" fill="#d9d9ef" stroke="#d6d6ee" stroke-width="0.3"/>
<ellipse cx="124.5" cy="383.7" rx="6.82" ry="1.90" fill="#d9d9ef" stroke="#d6d6ee" stroke-width="0.3"/>
<ellipse cx="134.5" cy="385.8" rx="5.09" ry="1.90" fill="#d9d9ef" stroke="#d6d6ee" stroke-width="0.3"/>
<ellipse cx="126.7" cy="391.5" rx="5.09" ry="1.90" fill="#d9d9ef" stroke="#d6d6ee" stroke-width="0.3"/>
<ellipse cx="139.2" cy="393" rx="4.88" ry="1.90" fill="#d9d9ef" stroke="#d6d6ee" stroke-width="0.3"/>
<ellipse cx="148.7" cy="389" rx="5.09" ry="1.90" fill="#d9d9ef" stroke="#d6d6ee" stroke-width="0.3"/>
<ellipse cx="149.6" cy="383.7" rx="6.82" ry="1.90" fill="#d9d9ef" stroke="#d6d6ee" stroke-width="0.3"/>
<ellipse cx="158.1" cy="380.5" rx="5.09" ry="1.90" fill="#d9d9ef" stroke="#d6d6ee" stroke-width="0.3"/>
<ellipse cx="156.5" cy="375.2" rx="5.85" ry="1.90" fill="#d9d9ef" stroke="#d6d6ee" stroke-width="0.3"/>
<ellipse cx="157.1" cy="370.2" rx="5.85" ry="1.90" fill="#d9d9ef" stroke="#d6d6ee" stroke-width="0.3"/>
<ellipse cx="159.6" cy="365.4" rx="5.85" ry="1.90" fill="#d9d9ef" stroke="#d6d6ee" stroke-width="0.3"/>
<ellipse cx="151.8" cy="360.7" rx="6.82" ry="1.90" fill="#d9d9ef" stroke="#d6d6ee" stroke-width="0.3"/>
<ellipse cx="142.4" cy="357.6" rx="5.85" ry="1.90" fill="#d9d9ef" stroke="#d6d6ee" stroke-width="0.3"/>
<ellipse cx="136.1" cy="362.6" rx="5.09" ry="1.90" fill="#d9d9ef" stroke="#d6d6ee" stroke-width="0.3"/>
<ellipse cx="172.9" cy="365.5" rx="7.58" ry="1.90" fill="#f7c8c8" stroke="#f4c0c0" stroke-width="0.3"/>
<ellipse cx="200.4" cy="360.9" rx="5.85" ry="1.90" fill="#f7c8c8" stroke="#f4c0c0" stroke-width="0.3"/>
<ellipse cx="188.7" cy="356" rx="6.61" ry="1.90" fill="#d9d9ef" stroke="#d6d6ee" stroke-width="0.3"/>
<ellipse cx="207" cy="354.8" rx="7.37" ry="1.90" fill="#d9d9ef" stroke="#d6d6ee" stroke-width="0.3"/>
<ellipse cx="194.4" cy="368.6" rx="5.09" ry="1.90" fill="#d9d9ef" stroke="#d6d6ee" stroke-width="0.3"/>
<g font-weight="bold" text-anchor="middle" stroke-width="0.05">
<text transform="translate(56.5,216.51) scale(0.8,1)" font-size="4.2" fill="#e01b24" stroke="#e01b24">ARID5B</text>
<text transform="translate(56.5,196.13) scale(0.74,1)" font-size="3.7" fill="#20208c" stroke="#20208c">MTRNR2L12</text>
<text transform="translate(68.6,196.93) scale(0.74,1)" font-size="3.7" fill="#20208c" stroke="#20208c">HSPB1</text>
<text transform="translate(36.9,201.53) scale(0.74,1)" font-size="3.7" fill="#20208c" stroke="#20208c">ANKRD36</text>
<text transform="translate(53,202.33) scale(0.74,1)" font-size="3.7" fill="#20208c" stroke="#20208c">MTRNR2L8</text>
<text transform="translate(75.9,202.33) scale(0.74,1)" font-size="3.7" fill="#20208c" stroke="#20208c">MTRNR2L1</text>
<text transform="translate(36.9,207.73) scale(0.74,1)" font-size="3.7" fill="#20208c" stroke="#20208c">ZNF442</text>
<text transform="translate(78,207.73) scale(0.74,1)" font-size="3.7" fill="#20208c" stroke="#20208c">MTRNR2L6</text>
<text transform="translate(36.9,211.73) scale(0.74,1)" font-size="3.7" fill="#20208c" stroke="#20208c">IFITM3</text>
<text transform="translate(32.8,215.73) scale(0.74,1)" font-size="3.7" fill="#20208c" stroke="#20208c">RAPH1</text>
<text transform="translate(78,213.03) scale(0.74,1)" font-size="3.7" fill="#20208c" stroke="#20208c">PSAP</text>
<text transform="translate(38.2,220.33) scale(0.74,1)" font-size="3.7" fill="#20208c" stroke="#20208c">DAAM1</text>
<text transform="translate(75.3,218.43) scale(0.74,1)" font-size="3.7" fill="#20208c" stroke="#20208c">ACADVL</text>
<text transform="translate(35.8,226.03) scale(0.74,1)" font-size="3.7" fill="#20208c" stroke="#20208c">HLA-DRB5</text>
<text transform="translate(60.5,226.23) scale(0.74,1)" font-size="3.7" fill="#20208c" stroke="#20208c">TNFSF13B</text>
<text transform="translate(39,231.13) scale(0.74,1)" font-size="3.7" fill="#20208c" stroke="#20208c">NRP1</text>
<text transform="translate(47.1,234.63) scale(0.74,1)" font-size="3.7" fill="#20208c" stroke="#20208c">ADAMDEC1</text>
<text transform="translate(121.5,180.41) scale(0.8,1)" font-size="4.2" fill="#e01b24" stroke="#e01b24">KLF1</text>
<text transform="translate(117,170.13) scale(0.74,1)" font-size="3.7" fill="#20208c" stroke="#20208c">AHSP</text>
<text transform="translate(127.5,170.13) scale(0.74,1)" font-size="3.7" fill="#20208c" stroke="#20208c">ALAS2</text>
<text transform="translate(109.6,176.83) scale(0.74,1)" font-size="3.7" fill="#20208c" stroke="#20208c">HBM</text>
<text transform="translate(134.3,178.63) scale(0.74,1)" font-size="3.7" fill="#20208c" stroke="#20208c">HBD</text>
<text transform="translate(111.4,187.23) scale(0.74,1)" font-size="3.7" fill="#20208c" stroke="#20208c">HBB</text>
<text transform="translate(131.1,189.23) scale(0.74,1)" font-size="3.7" fill="#20208c" stroke="#20208c">HBQ1</text>
<text transform="translate(121,192.83) scale(0.74,1)" font-size="3.7" fill="#20208c" stroke="#20208c">CA1</text>
<text transform="translate(91.2,171.93) scale(0.74,1)" font-size="3.7" fill="#20208c" stroke="#20208c">MKI67</text>
<text transform="translate(89.4,180.43) scale(0.74,1)" font-size="3.7" fill="#e01b24" stroke="#e01b24">HMGB2</text>
<text transform="translate(165,187.11) scale(0.8,1)" font-size="4.2" fill="#e01b24" stroke="#e01b24">BCL11A</text>
<text transform="translate(148.8,176.43) scale(0.74,1)" font-size="3.7" fill="#e01b24" stroke="#e01b24">PAX5</text>
<text transform="translate(148.4,186.53) scale(0.74,1)" font-size="3.7" fill="#20208c" stroke="#20208c">TCL1A</text>
<text transform="translate(159.1,174.83) scale(0.74,1)" font-size="3.7" fill="#20208c" stroke="#20208c">IGHM</text>
<text transform="translate(170.2,177.43) scale(0.74,1)" font-size="3.7" fill="#20208c" stroke="#20208c">IGHD</text>
<text transform="translate(181.9,185.53) scale(0.74,1)" font-size="3.7" fill="#20208c" stroke="#20208c">CD79A</text>
<text transform="translate(181.3,193.53) scale(0.74,1)" font-size="3.7" fill="#20208c" stroke="#20208c">MS4A1</text>
<text transform="translate(159.7,199.03) scale(0.74,1)" font-size="3.7" fill="#20208c" stroke="#20208c">CD79B</text>
<text transform="translate(172.2,199.03) scale(0.74,1)" font-size="3.7" fill="#e01b24" stroke="#e01b24">SPIB</text>
<text transform="translate(190.8,220.51) scale(0.8,1)" font-size="4.2" fill="#e01b24" stroke="#e01b24">TUBB1</text>
<text transform="translate(175.8,216.73) scale(0.74,1)" font-size="3.7" fill="#20208c" stroke="#20208c">HIST1H2AC</text>
<text transform="translate(186.2,209.93) scale(0.74,1)" font-size="3.7" fill="#20208c" stroke="#20208c">MYL9</text>
<text transform="translate(193.9,207.63) scale(0.74,1)" font-size="3.7" fill="#20208c" stroke="#20208c">GNG11</text>
<text transform="translate(201.6,209.93) scale(0.74,1)" font-size="3.7" fill="#20208c" stroke="#20208c">CLU</text>
<text transform="translate(205.5,217.53) scale(0.74,1)" font-size="3.7" fill="#20208c" stroke="#20208c">NRGN</text>
<text transform="translate(203.4,226.33) scale(0.74,1)" font-size="3.7" fill="#20208c" stroke="#20208c">PF4</text>
<text transform="translate(182.6,226.83) scale(0.74,1)" font-size="3.7" fill="#20208c" stroke="#20208c">ITGA2B</text>
<text transform="translate(194.7,232.63) scale(0.74,1)" font-size="3.7" fill="#20208c" stroke="#20208c">GP1BB</text>
<text transform="translate(222.5,239.83) scale(0.74,1)" font-size="3.7" fill="#e01b24" stroke="#e01b24">STAT1</text>
<text transform="translate(223.2,229.03) scale(0.74,1)" font-size="3.7" fill="#20208c" stroke="#20208c">GBP1</text>
<text transform="translate(226.3,264.21) scale(0.8,1)" font-size="4.2" fill="#e01b24" stroke="#e01b24">IRF7</text>
<text transform="translate(215.1,249.83) scale(0.74,1)" font-size="3.7" fill="#20208c" stroke="#20208c">ISG15</text>
<text transform="translate(227.4,249.83) scale(0.74,1)" font-size="3.7" fill="#20208c" stroke="#20208c">IFI44L</text>
<text transform="translate(235.3,255.43) scale(0.74,1)" font-size="3.7" fill="#20208c" stroke="#20208c">IFIT3</text>
<text transform="translate(212.2,259.53) scale(0.74,1)" font-size="3.7" fill="#20208c" stroke="#20208c">IFI6</text>
<text transform="translate(236,264.93) scale(0.74,1)" font-size="3.7" fill="#20208c" stroke="#20208c">IFI27</text>
<text transform="translate(214,270.03) scale(0.74,1)" font-size="3.7" fill="#20208c" stroke="#20208c">RSAD2</text>
<text transform="translate(236.4,273.83) scale(0.74,1)" font-size="3.7" fill="#20208c" stroke="#20208c">OAS1</text>
<text transform="translate(221.2,277.43) scale(0.74,1)" font-size="3.7" fill="#20208c" stroke="#20208c">HERC5</text>
<text transform="translate(230.1,279.73) scale(0.74,1)" font-size="3.7" fill="#20208c" stroke="#20208c">MX1</text>
<text transform="translate(92.8,217.63) scale(0.74,1)" font-size="3.7" fill="#e01b24" stroke="#e01b24">KLF4</text>
<text transform="translate(101.7,219.53) scale(0.74,1)" font-size="3.7" fill="#20208c" stroke="#20208c">MAFB</text>
<text transform="translate(132,217.43) scale(0.74,1)" font-size="3.7" fill="#20208c" stroke="#20208c">CXCL8</text>
<text transform="translate(122.6,229.33) scale(0.74,1)" font-size="3.7" fill="#e01b24" stroke="#e01b24">CEBPB</text>
<text transform="translate(121.5,235.43) scale(0.74,1)" font-size="3.7" fill="#e01b24" stroke="#e01b24">NFIL3</text>
<text transform="translate(93.3,236.43) scale(0.74,1)" font-size="3.7" fill="#2a8c2a" stroke="#2a8c2a">IFI30</text>
<text transform="translate(145.5,240.14) scale(0.8,1)" font-size="4.0" fill="#2a8c2a" stroke="#2a8c2a">C15orf48</text>
<text transform="translate(71.1,244.53) scale(0.74,1)" font-size="3.7" fill="#e01b24" stroke="#e01b24">CEBPD</text>
<text transform="translate(91.3,281.01) scale(0.8,1)" font-size="4.2" fill="#e01b24" stroke="#e01b24">SPI1</text>
<text transform="translate(86.2,242.43) scale(0.74,1)" font-size="3.7" fill="#20208c" stroke="#20208c">FCER1G</text>
<text transform="translate(81.8,250.93) scale(0.74,1)" font-size="3.7" fill="#2a8c2a" stroke="#2a8c2a">TYROBP</text>
<text transform="translate(97.3,248.53) scale(0.74,1)" font-size="3.7" fill="#20208c" stroke="#20208c">MNDA</text>
<text transform="translate(101.4,253.53) scale(0.74,1)" font-size="3.7" fill="#20208c" stroke="#20208c">SERPINA1</text>
<text transform="translate(109.4,256.63) scale(0.74,1)" font-size="3.7" fill="#20208c" stroke="#20208c">FCN1</text>
<text transform="translate(114.5,261.63) scale(0.74,1)" font-size="3.7" fill="#2a8c2a" stroke="#2a8c2a">S100A11</text>
<text transform="translate(93.3,264.23) scale(0.74,1)" font-size="3.7" fill="#20208c" stroke="#20208c">S100A12</text>
<text transform="translate(103.4,264.23) scale(0.74,1)" font-size="3.7" fill="#2a8c2a" stroke="#2a8c2a">LST1</text>
<text transform="translate(101.4,268.73) scale(0.74,1)" font-size="3.7" fill="#2a8c2a" stroke="#2a8c2a">CTSB</text>
<text transform="translate(111.5,268.73) scale(0.74,1)" font-size="3.7" fill="#20208c" stroke="#20208c">PLBD1</text>
<text transform="translate(122.1,268.73) scale(0.74,1)" font-size="3.7" fill="#20208c" stroke="#20208c">IFITM2</text>
<text transform="translate(109.4,276.33) scale(0.74,1)" font-size="3.7" fill="#20208c" stroke="#20208c">CAPG</text>
<text transform="translate(120.5,275.73) scale(0.74,1)" font-size="3.7" fill="#20208c" stroke="#20208c">LGALS1</text>
<text transform="translate(115.5,280.83) scale(0.74,1)" font-size="3.7" fill="#20208c" stroke="#20208c">CPVL</text>
<text transform="translate(119.5,285.23) scale(0.74,1)" font-size="3.7" fill="#20208c" stroke="#20208c">CD36</text>
<text transform="translate(101.4,287.83) scale(0.74,1)" font-size="3.7" fill="#20208c" stroke="#20208c">NPC2</text>
<text transform="translate(111.5,289.93) scale(0.74,1)" font-size="3.7" fill="#20208c" stroke="#20208c">PSAP</text>
<text transform="translate(86.2,291.93) scale(0.74,1)" font-size="3.7" fill="#20208c" stroke="#20208c">LYZ</text>
<text transform="translate(113.5,293.93) scale(0.74,1)" font-size="3.7" fill="#20208c" stroke="#20208c">GRN</text>
<text transform="translate(71.6,257.63) scale(0.74,1)" font-size="3.7" fill="#20208c" stroke="#20208c">S100A8</text>
<text transform="translate(79.7,259.63) scale(0.74,1)" font-size="3.7" fill="#20208c" stroke="#20208c">TSPO</text>
<text transform="translate(63.6,261.03) scale(0.74,1)" font-size="3.7" fill="#20208c" stroke="#20208c">LYZ</text>
<text transform="translate(72.6,263.63) scale(0.74,1)" font-size="3.7" fill="#20208c" stroke="#20208c">S100A9</text>
<text transform="translate(61.5,271.73) scale(0.74,1)" font-size="3.7" fill="#20208c" stroke="#20208c">CSTA</text>
<text transform="translate(70.6,269.73) scale(0.74,1)" font-size="3.7" fill="#20208c" stroke="#20208c">LGALS2</text>
<text transform="translate(84.7,271.73) scale(0.74,1)" font-size="3.7" fill="#20208c" stroke="#20208c">FCN1</text>
<text transform="translate(59.5,275.73) scale(0.74,1)" font-size="3.7" fill="#20208c" stroke="#20208c">SAT1</text>
<text transform="translate(60.5,280.43) scale(0.74,1)" font-size="3.7" fill="#20208c" stroke="#20208c">CST3</text>
<text transform="translate(68.6,280.83) scale(0.74,1)" font-size="3.7" fill="#2a8c2a" stroke="#2a8c2a">FTL</text>
<text transform="translate(62.5,285.83) scale(0.74,1)" font-size="3.7" fill="#20208c" stroke="#20208c">ANXA5</text>
<text transform="translate(60.5,290.53) scale(0.74,1)" font-size="3.7" fill="#20208c" stroke="#20208c">GABARAP</text>
<text transform="translate(61.5,294.93) scale(0.74,1)" font-size="3.7" fill="#20208c" stroke="#20208c">CD163</text>
<text transform="translate(62.5,300.03) scale(0.74,1)" font-size="3.7" fill="#20208c" stroke="#20208c">CD14</text>
<text transform="translate(69.6,300.43) scale(0.74,1)" font-size="3.7" fill="#20208c" stroke="#20208c">CTSS</text>
<text transform="translate(73.6,298.43) scale(0.74,1)" font-size="3.7" fill="#20208c" stroke="#20208c">CSF1R</text>
<text transform="translate(79.7,298.83) scale(0.74,1)" font-size="3.7" fill="#20208c" stroke="#20208c">AIF1</text>
<text transform="translate(86.4,292.43) scale(0.74,1)" font-size="3.7" fill="#20208c" stroke="#20208c">LYN</text>
<text transform="translate(75,306.13) scale(0.74,1)" font-size="3.7" fill="#20208c" stroke="#20208c">S100A6</text>
<text transform="translate(88.1,302.43) scale(0.74,1)" font-size="3.7" fill="#2a8c2a" stroke="#2a8c2a">FTH1</text>
<text transform="translate(92.5,308.53) scale(0.74,1)" font-size="3.7" fill="#20208c" stroke="#20208c">MNDA</text>
<text transform="translate(99.2,305.53) scale(0.74,1)" font-size="3.7" fill="#20208c" stroke="#20208c">FCGR3A</text>
<text transform="translate(108.2,306.53) scale(0.74,1)" font-size="3.7" fill="#20208c" stroke="#20208c">CSF3R</text>
<text transform="translate(111.9,300.83) scale(0.74,1)" font-size="3.7" fill="#20208c" stroke="#20208c">TIMP1</text>
<text transform="translate(95.1,312.53) scale(0.74,1)" font-size="3.7" fill="#20208c" stroke="#20208c">FCGR1A</text>
<text transform="translate(83,315.03) scale(0.74,1)" font-size="3.7" fill="#20208c" stroke="#20208c">HLA-DPA1</text>
<text transform="translate(105.2,296.03) scale(0.74,1)" font-size="3.7" fill="#20208c" stroke="#20208c">LILRB2</text>
<text transform="translate(114.7,294.43) scale(0.74,1)" font-size="3.7" fill="#20208c" stroke="#20208c">GRN</text>
<text transform="translate(122,291.83) scale(0.74,1)" font-size="3.7" fill="#20208c" stroke="#20208c">VCAN</text>
<text transform="translate(101.8,318.63) scale(0.74,1)" font-size="3.7" fill="#20208c" stroke="#20208c">IL1B</text>
<text transform="translate(129.6,290.93) scale(0.74,1)" font-size="3.7" fill="#20208c" stroke="#20208c">LAMP1</text>
<text transform="translate(73.6,323.63) scale(0.74,1)" font-size="3.7" fill="#e01b24" stroke="#e01b24">MAFB</text>
<text transform="translate(70.6,331.13) scale(0.74,1)" font-size="3.7" fill="#20208c" stroke="#20208c">HLA-DRB1</text>
<text transform="translate(13.7,268.33) scale(0.74,1)" font-size="3.7" fill="#20208c" stroke="#20208c">SYNE2</text>
<text transform="translate(13.7,277.83) scale(0.74,1)" font-size="3.7" fill="#e01b24" stroke="#e01b24">AQP9</text>
<text transform="translate(31.3,329.91) scale(0.8,1)" font-size="4.2" fill="#e01b24" stroke="#e01b24">JUNB</text>
<text transform="translate(32.3,343.83) scale(0.74,1)" font-size="3.7" fill="#e01b24" stroke="#e01b24">JUN</text>
<text transform="translate(40.4,346.01) scale(0.8,1)" font-size="4.2" fill="#e01b24" stroke="#e01b24">FOS</text>
<text transform="translate(36.3,353.33) scale(0.74,1)" font-size="3.7" fill="#e01b24" stroke="#e01b24">FOSB</text>
<text transform="translate(27.2,312.93) scale(0.74,1)" font-size="3.7" fill="#20208c" stroke="#20208c">NFKBIA</text>
<text transform="translate(12.1,315.63) scale(0.74,1)" font-size="3.7" fill="#20208c" stroke="#20208c">DUSP2</text>
<text transform="translate(23.2,320.23) scale(0.74,1)" font-size="3.7" fill="#e01b24" stroke="#e01b24">GPR183</text>
<text transform="translate(40.4,318.63) scale(0.74,1)" font-size="3.7" fill="#20208c" stroke="#20208c">SOCS3</text>
<text transform="translate(14.5,328.73) scale(0.74,1)" font-size="3.7" fill="#20208c" stroke="#20208c">ZNF331</text>
<text transform="translate(45.4,335.73) scale(0.74,1)" font-size="3.7" fill="#20208c" stroke="#20208c">ZFP36</text>
<text transform="translate(24.2,339.83) scale(0.74,1)" font-size="3.7" fill="#20208c" stroke="#20208c">CD69</text>
<text transform="translate(53.5,354.53) scale(0.74,1)" font-size="3.7" fill="#20208c" stroke="#20208c">DUSP1</text>
<text transform="translate(45.2,358.03) scale(0.74,1)" font-size="3.7" fill="#20208c" stroke="#20208c">KLF6</text>
<text transform="translate(166.5,247.63) scale(0.74,1)" font-size="3.7" fill="#e01b24" stroke="#e01b24">MT2A</text>
<text transform="translate(164.2,254.33) scale(0.74,1)" font-size="3.7" fill="#e01b24" stroke="#e01b24">SOD2</text>
<text transform="translate(175.9,239.33) scale(0.74,1)" font-size="3.7" fill="#2a8c2a" stroke="#2a8c2a">CD9</text>
<text transform="translate(187.5,238.03) scale(0.74,1)" font-size="3.7" fill="#e01b24" stroke="#e01b24">SOX4</text>
<text transform="translate(176.3,254.33) scale(0.74,1)" font-size="3.7" fill="#2a8c2a" stroke="#2a8c2a">CYP1B1</text>
<text transform="translate(177,276.24) scale(0.8,1)" font-size="4.0" fill="#2a8c2a" stroke="#2a8c2a">CD63</text>
<text transform="translate(197.2,277.43) scale(0.74,1)" font-size="3.7" fill="#20208c" stroke="#20208c">ATP5E</text>
<text transform="translate(187.1,286.94) scale(0.8,1)" font-size="4.0" fill="#e01b24" stroke="#e01b24">ZEB2</text>
<text transform="translate(183.3,306.11) scale(0.8,1)" font-size="4.2" fill="#e01b24" stroke="#e01b24">TCF7</text>
<text transform="translate(163.1,304.64) scale(0.8,1)" font-size="4.0" fill="#e01b24" stroke="#e01b24">BCL11B</text>
<text transform="translate(187.3,318.03) scale(0.74,1)" font-size="3.7" fill="#e01b24" stroke="#e01b24">LEF1</text>
<text transform="translate(158.1,297.43) scale(0.74,1)" font-size="3.7" fill="#20208c" stroke="#20208c">PIK3IP1</text>
<text transform="translate(165.1,292.43) scale(0.74,1)" font-size="3.7" fill="#20208c" stroke="#20208c">CD69</text>
<text transform="translate(176.2,296.43) scale(0.74,1)" font-size="3.7" fill="#20208c" stroke="#20208c">IL7R</text>
<text transform="translate(194,293.83) scale(0.74,1)" font-size="3.7" fill="#20208c" stroke="#20208c">LTB</text>
<text transform="translate(194.4,299.13) scale(0.74,1)" font-size="3.7" fill="#20208c" stroke="#20208c">MAL</text>
<text transform="translate(203.5,301.93) scale(0.74,1)" font-size="3.7" fill="#20208c" stroke="#20208c">RCAN3</text>
<text transform="translate(199.4,313.23) scale(0.74,1)" font-size="3.7" fill="#20208c" stroke="#20208c">NOSIP</text>
<text transform="translate(205.5,309.13) scale(0.74,1)" font-size="3.7" fill="#20208c" stroke="#20208c">INPP4B</text>
<text transform="translate(176.6,318.63) scale(0.74,1)" font-size="3.7" fill="#20208c" stroke="#20208c">LDHB</text>
<text transform="translate(193.4,321.33) scale(0.74,1)" font-size="3.7" fill="#20208c" stroke="#20208c">CCR7</text>
<text transform="translate(182.3,324.73) scale(0.74,1)" font-size="3.7" fill="#20208c" stroke="#20208c">CD27</text>
<text transform="translate(156.1,317.23) scale(0.74,1)" font-size="3.7" fill="#20208c" stroke="#20208c">TRABD2A</text>
<text transform="translate(163.1,321.33) scale(0.74,1)" font-size="3.7" fill="#20208c" stroke="#20208c">PRKCA</text>
<text transform="translate(190.4,335.43) scale(0.74,1)" font-size="3.7" fill="#20208c" stroke="#20208c">PLTP</text>
<text transform="translate(224.7,325.44) scale(0.8,1)" font-size="4.0" fill="#e01b24" stroke="#e01b24">ANXA1</text>
<text transform="translate(217.6,318.63) scale(0.74,1)" font-size="3.7" fill="#20208c" stroke="#20208c">RACK1</text>
<text transform="translate(230.7,316.03) scale(0.74,1)" font-size="3.7" fill="#20208c" stroke="#20208c">S100A10</text>
<text transform="translate(236.8,325.33) scale(0.74,1)" font-size="3.7" fill="#20208c" stroke="#20208c">CRIP1</text>
<text transform="translate(215.6,333.43) scale(0.74,1)" font-size="3.7" fill="#20208c" stroke="#20208c">AHNAK</text>
<text transform="translate(232.7,334.23) scale(0.74,1)" font-size="3.7" fill="#20208c" stroke="#20208c">S100A4</text>
<text transform="translate(101.7,355.51) scale(0.8,1)" font-size="4.2" fill="#e01b24" stroke="#e01b24">KLRG1</text>
<text transform="translate(87.4,354.23) scale(0.74,1)" font-size="3.7" fill="#20208c" stroke="#20208c">GZMH</text>
<text transform="translate(106.3,347.23) scale(0.74,1)" font-size="3.7" fill="#20208c" stroke="#20208c">CMC1</text>
<text transform="translate(114.3,351.53) scale(0.74,1)" font-size="3.7" fill="#20208c" stroke="#20208c">GZMA</text>
<text transform="translate(90.1,362.33) scale(0.74,1)" font-size="3.7" fill="#20208c" stroke="#20208c">GNLY</text>
<text transform="translate(90.9,367.73) scale(0.74,1)" font-size="3.7" fill="#20208c" stroke="#20208c">CD8A</text>
<text transform="translate(103.6,366.93) scale(0.74,1)" font-size="3.7" fill="#20208c" stroke="#20208c">TRGC2</text>
<text transform="translate(96.3,371.43) scale(0.74,1)" font-size="3.7" fill="#20208c" stroke="#20208c">CCL5</text>
<text transform="translate(114.3,369.53) scale(0.74,1)" font-size="3.7" fill="#20208c" stroke="#20208c">CST7</text>
<text transform="translate(122,361.43) scale(0.74,1)" font-size="3.7" fill="#20208c" stroke="#20208c">GZMK</text>
<text transform="translate(88.8,377.63) scale(0.74,1)" font-size="3.7" fill="#e01b24" stroke="#e01b24">ZNF683</text>
<text transform="translate(137.7,376.71) scale(0.8,1)" font-size="4.2" fill="#e01b24" stroke="#e01b24">TBX21</text>
<text transform="translate(124.5,374.63) scale(0.74,1)" font-size="3.7" fill="#20208c" stroke="#20208c">NKG7</text>
<text transform="translate(116.3,380.33) scale(0.74,1)" font-size="3.7" fill="#20208c" stroke="#20208c">CX3CR1</text>
<text transform="translate(124.5,385.03) scale(0.74,1)" font-size="3.7" fill="#20208c" stroke="#20208c">FGFBP2</text>
<text transform="translate(134.5,387.13) scale(0.74,1)" font-size="3.7" fill="#20208c" stroke="#20208c">GZMH</text>
<text transform="translate(126.7,392.83) scale(0.74,1)" font-size="3.7" fill="#20208c" stroke="#20208c">CTSW</text>
<text transform="translate(139.2,394.33) scale(0.74,1)" font-size="3.7" fill="#20208c" stroke="#20208c">PRF1</text>
<text transform="translate(148.7,390.33) scale(0.74,1)" font-size="3.7" fill="#20208c" stroke="#20208c">GZMB</text>
<text transform="translate(149.6,385.03) scale(0.74,1)" font-size="3.7" fill="#20208c" stroke="#20208c">ADGRG1</text>
<text transform="translate(158.1,381.83) scale(0.74,1)" font-size="3.7" fill="#20208c" stroke="#20208c">GNLY</text>
<text transform="translate(156.5,376.53) scale(0.74,1)" font-size="3.7" fill="#20208c" stroke="#20208c">CLIC3</text>
<text transform="translate(157.1,371.53) scale(0.74,1)" font-size="3.7" fill="#20208c" stroke="#20208c">KLRF1</text>
<text transform="translate(159.6,366.73) scale(0.74,1)" font-size="3.7" fill="#20208c" stroke="#20208c">SPON2</text>
<text transform="translate(151.8,362.03) scale(0.74,1)" font-size="3.7" fill="#20208c" stroke="#20208c">FCGR3A</text>
<text transform="translate(142.4,358.93) scale(0.74,1)" font-size="3.7" fill="#20208c" stroke="#20208c">KLRD1</text>
<text transform="translate(136.1,363.93) scale(0.74,1)" font-size="3.7" fill="#20208c" stroke="#20208c">HOPX</text>
<text transform="translate(172.9,366.83) scale(0.74,1)" font-size="3.7" fill="#e01b24" stroke="#e01b24">KIR2DL4</text>
<text transform="translate(200.4,362.23) scale(0.74,1)" font-size="3.7" fill="#e01b24" stroke="#e01b24">HSPA5</text>
<text transform="translate(188.7,357.33) scale(0.74,1)" font-size="3.7" fill="#20208c" stroke="#20208c">SDF2L1</text>
<text transform="translate(207,356.13) scale(0.74,1)" font-size="3.7" fill="#20208c" stroke="#20208c">HSP90B1</text>
<text transform="translate(194.4,369.93) scale(0.74,1)" font-size="3.7" fill="#20208c" stroke="#20208c">CALR</text>
</g></g>
<defs><linearGradient id="gCD8" x1="0" y1="0" x2="0" y2="1"><stop offset="0" stop-color="#c8c4dc"/><stop offset="0.5" stop-color="#bfb8df"/><stop offset="0.78" stop-color="#9686e0"/><stop offset="1" stop-color="#a598de"/></linearGradient>
<linearGradient id="gLG" x1="0" y1="0" x2="0" y2="1"><stop offset="0" stop-color="#d0d0d3"/><stop offset="0.4" stop-color="#cbc8dc"/><stop offset="1" stop-color="#c4bfe0"/></linearGradient><linearGradient id="gIFI" x1="0" y1="0" x2="1" y2="0"><stop offset="0" stop-color="#bcb4da"/><stop offset="0.3" stop-color="#aea4dc"/><stop offset="0.5" stop-color="#8070e2"/><stop offset="0.7" stop-color="#988ae0"/><stop offset="1" stop-color="#ada2dc"/></linearGradient><linearGradient id="gCYP" x1="0" y1="0" x2="1" y2="0"><stop offset="0" stop-color="#bdb6d8"/><stop offset="0.7" stop-color="#b6aed8"/><stop offset="1" stop-color="#a498dc"/></linearGradient><linearGradient id="gCB" x1="0" y1="1" x2="0" y2="0"><stop offset="0" stop-color="#ddd8f0"/><stop offset="0.5" stop-color="#9c8cf0"/><stop offset="1" stop-color="#2a10ff"/></linearGradient>
<filter id="spk" x="0" y="0" width="100%" height="100%"><feTurbulence type="fractalNoise" baseFrequency="0.7" numOctaves="1" seed="5" result="n"/><feColorMatrix in="n" type="matrix" values="0 0 0 0 1  0 0 0 0 1  0 0 0 0 1  1.1 0 0 0 -0.56" result="w"/><feComposite in="w" in2="SourceAlpha" operator="in" result="wm"/><feMerge><feMergeNode in="SourceGraphic"/><feMergeNode in="wm"/></feMerge></filter><linearGradient id="gLeft" x1="0" y1="0" x2="1" y2="1"><stop offset="0" stop-color="#a99cdc"/><stop offset="1" stop-color="#8d7de0"/></linearGradient></defs>
<g>
<path d="M249.4,24.700000000000003 V103.3 H332.4" stroke="#8a8a8a" stroke-width="0.55" fill="none"/>
<path d="M263.1,103.3 v1" stroke="#8a8a8a" stroke-width="0.4"/>
<text x="263.1" y="106.4" font-size="2.3" fill="#444" text-anchor="middle">-10</text>
<path d="M278.4,103.3 v1" stroke="#8a8a8a" stroke-width="0.4"/>
<text x="278.4" y="106.4" font-size="2.3" fill="#444" text-anchor="middle">-5</text>
<path d="M293.7,103.3 v1" stroke="#8a8a8a" stroke-width="0.4"/>
<text x="293.7" y="106.4" font-size="2.3" fill="#444" text-anchor="middle">0</text>
<path d="M309.0,103.3 v1" stroke="#8a8a8a" stroke-width="0.4"/>
<text x="309.0" y="106.4" font-size="2.3" fill="#444" text-anchor="middle">5</text>
<path d="M324.3,103.3 v1" stroke="#8a8a8a" stroke-width="0.4"/>
<text x="324.3" y="106.4" font-size="2.3" fill="#444" text-anchor="middle">10</text>
<path d="M249.4,39.2 h-1" stroke="#8a8a8a" stroke-width="0.4"/>
<text x="247.6" y="40.0" font-size="2.3" fill="#444" text-anchor="end">10</text>
<path d="M249.4,57.2 h-1" stroke="#8a8a8a" stroke-width="0.4"/>
<text x="247.6" y="58.0" font-size="2.3" fill="#444" text-anchor="end">5</text>
<path d="M249.4,75.3 h-1" stroke="#8a8a8a" stroke-width="0.4"/>
<text x="247.6" y="76.1" font-size="2.3" fill="#444" text-anchor="end">0</text>
<path d="M249.4,93.3 h-1" stroke="#8a8a8a" stroke-width="0.4"/>
<text x="247.6" y="94.1" font-size="2.3" fill="#444" text-anchor="end">-5</text>
<text x="289.4" y="109.3" font-size="2.6" fill="#444" text-anchor="middle">UMAP_1</text>
<text transform="translate(244.4,64.7) rotate(-90)" font-size="2.6" fill="#444" text-anchor="middle">UMAP_2</text>
<text x="290.1" y="23.1" font-size="3.5" font-weight="bold" fill="#111" stroke="#111" stroke-width="0.12" text-anchor="middle">CST3</text>
<g filter="url(#spk)"><g transform="translate(241.16,17.78) scale(0.459,0.562)">
<use href="#sTop" fill="#c9c3e3"/>
<use href="#sTopTail" stroke="#d8d8d8" stroke-width="1.2"/>
<use href="#sGray" fill="#a99cdc"/>
<use href="#sBig" fill="#c9c3e3"/>
<use href="#sRed" fill="#5e4ce6"/>
<use href="#sOr" fill="#cfcfd2"/>
<use href="#sTail" stroke="#c8c8cc" stroke-width="1.6"/>
<use href="#sPlt" stroke="#d4d4d8" stroke-width="1.4"/>
<circle cx="67" cy="104.7" r="1.5" fill="#a99cdc" opacity="0.8"/>
</g></g>
<rect x="334.0" y="57.3" width="3" height="14" fill="url(#gCB)"/>
<text x="338.2" y="59.4" font-size="1.8" fill="#777">4</text>
<text x="338.2" y="62.4" font-size="1.8" fill="#777">3</text>
<text x="338.2" y="65.4" font-size="1.8" fill="#777">2</text>
<text x="338.2" y="68.4" font-size="1.8" fill="#777">1</text>
<text x="338.2" y="71.4" font-size="1.8" fill="#777">0</text>
</g>
<g>
<path d="M349.7,26.099999999999994 V104.69999999999999 H432.7" stroke="#8a8a8a" stroke-width="0.55" fill="none"/>
<path d="M362.8,104.69999999999999 v1" stroke="#8a8a8a" stroke-width="0.4"/>
<text x="362.8" y="107.8" font-size="2.3" fill="#444" text-anchor="middle">-10</text>
<path d="M378.1,104.69999999999999 v1" stroke="#8a8a8a" stroke-width="0.4"/>
<text x="378.1" y="107.8" font-size="2.3" fill="#444" text-anchor="middle">-5</text>
<path d="M393.4,104.69999999999999 v1" stroke="#8a8a8a" stroke-width="0.4"/>
<text x="393.4" y="107.8" font-size="2.3" fill="#444" text-anchor="middle">0</text>
<path d="M408.7,104.69999999999999 v1" stroke="#8a8a8a" stroke-width="0.4"/>
<text x="408.7" y="107.8" font-size="2.3" fill="#444" text-anchor="middle">5</text>
<path d="M424.0,104.69999999999999 v1" stroke="#8a8a8a" stroke-width="0.4"/>
<text x="424.0" y="107.8" font-size="2.3" fill="#444" text-anchor="middle">10</text>
<path d="M349.7,40.3 h-1" stroke="#8a8a8a" stroke-width="0.4"/>
<text x="347.9" y="41.1" font-size="2.3" fill="#444" text-anchor="end">10</text>
<path d="M349.7,58.3 h-1" stroke="#8a8a8a" stroke-width="0.4"/>
<text x="347.9" y="59.1" font-size="2.3" fill="#444" text-anchor="end">5</text>
<path d="M349.7,76.4 h-1" stroke="#8a8a8a" stroke-width="0.4"/>
<text x="347.9" y="77.2" font-size="2.3" fill="#444" text-anchor="end">0</text>
<path d="M349.7,94.4 h-1" stroke="#8a8a8a" stroke-width="0.4"/>
<text x="347.9" y="95.2" font-size="2.3" fill="#444" text-anchor="end">-5</text>
<text x="389.7" y="110.7" font-size="2.6" fill="#444" text-anchor="middle">UMAP_1</text>
<text transform="translate(344.7,66.1) rotate(-90)" font-size="2.6" fill="#444" text-anchor="middle">UMAP_2</text>
<text x="390.4" y="24.5" font-size="3.5" font-weight="bold" fill="#111" stroke="#111" stroke-width="0.12" text-anchor="middle">S100A9</text>
<g filter="url(#spk)"><g transform="translate(340.86,18.88) scale(0.459,0.562)">
<use href="#sTop" fill="#c9c3e3"/>
<use href="#sTopTail" stroke="#d8d8d8" stroke-width="1.2"/>
<use href="#sGray" fill="#5e4ce6"/>
<use href="#sBig" fill="#c9c3e3"/>
<use href="#sRed" fill="#a99cdc"/>
<use href="#sOr" fill="#c9c3e3"/>
<use href="#sTail" stroke="#c8c8cc" stroke-width="1.6"/>
<use href="#sPlt" stroke="#d4d4d8" stroke-width="1.4"/>
<circle cx="67" cy="104.7" r="1.5" fill="#5e4ce6" opacity="0.8"/>
</g></g>
<rect x="434.3" y="58.7" width="3" height="14" fill="url(#gCB)"/>
<text x="438.5" y="60.8" font-size="1.8" fill="#777">4</text>
<text x="438.5" y="63.8" font-size="1.8" fill="#777">3</text>
<text x="438.5" y="66.8" font-size="1.8" fill="#777">2</text>
<text x="438.5" y="69.8" font-size="1.8" fill="#777">1</text>
<text x="438.5" y="72.8" font-size="1.8" fill="#777">0</text>
</g>
<g>
<path d="M249.4,117.4 V196.0 H332.4" stroke="#8a8a8a" stroke-width="0.55" fill="none"/>
<path d="M262.9,196.0 v1" stroke="#8a8a8a" stroke-width="0.4"/>
<text x="262.9" y="199.1" font-size="2.3" fill="#444" text-anchor="middle">-10</text>
<path d="M278.2,196.0 v1" stroke="#8a8a8a" stroke-width="0.4"/>
<text x="278.2" y="199.1" font-size="2.3" fill="#444" text-anchor="middle">-5</text>
<path d="M293.5,196.0 v1" stroke="#8a8a8a" stroke-width="0.4"/>
<text x="293.5" y="199.1" font-size="2.3" fill="#444" text-anchor="middle">0</text>
<path d="M308.8,196.0 v1" stroke="#8a8a8a" stroke-width="0.4"/>
<text x="308.8" y="199.1" font-size="2.3" fill="#444" text-anchor="middle">5</text>
<path d="M324.1,196.0 v1" stroke="#8a8a8a" stroke-width="0.4"/>
<text x="324.1" y="199.1" font-size="2.3" fill="#444" text-anchor="middle">10</text>
<path d="M249.4,131.4 h-1" stroke="#8a8a8a" stroke-width="0.4"/>
<text x="247.6" y="132.2" font-size="2.3" fill="#444" text-anchor="end">10</text>
<path d="M249.4,149.4 h-1" stroke="#8a8a8a" stroke-width="0.4"/>
<text x="247.6" y="150.2" font-size="2.3" fill="#444" text-anchor="end">5</text>
<path d="M249.4,167.5 h-1" stroke="#8a8a8a" stroke-width="0.4"/>
<text x="247.6" y="168.3" font-size="2.3" fill="#444" text-anchor="end">0</text>
<path d="M249.4,185.5 h-1" stroke="#8a8a8a" stroke-width="0.4"/>
<text x="247.6" y="186.3" font-size="2.3" fill="#444" text-anchor="end">-5</text>
<text x="289.4" y="202.0" font-size="2.6" fill="#444" text-anchor="middle">UMAP_1</text>
<text transform="translate(244.4,157.4) rotate(-90)" font-size="2.6" fill="#444" text-anchor="middle">UMAP_2</text>
<text x="290.1" y="115.8" font-size="3.5" font-weight="bold" fill="#111" stroke="#111" stroke-width="0.12" text-anchor="middle">IFI30</text>
<g filter="url(#spk)"><g transform="translate(240.96,109.98) scale(0.459,0.562)">
<use href="#sTop" fill="#cfcfd2"/>
<use href="#sTopTail" stroke="#d8d8d8" stroke-width="1.2"/>
<use href="#sGray" fill="url(#gIFI)"/>
<use href="#sBig" fill="#cfcfd2"/>
<use href="#sRed" fill="#5e4ce6"/>
<use href="#sOr" fill="#cfcfd2"/>
<use href="#sTail" stroke="#c8c8cc" stroke-width="1.6"/>
<use href="#sPlt" stroke="#d4d4d8" stroke-width="1.4"/>
<circle cx="67" cy="104.7" r="1.5" fill="url(#gIFI)" opacity="0.8"/>
</g></g>
<rect x="334.0" y="150.0" width="3" height="14" fill="url(#gCB)"/>
<text x="338.2" y="152.1" font-size="1.8" fill="#777">4</text>
<text x="338.2" y="155.1" font-size="1.8" fill="#777">3</text>
<text x="338.2" y="158.1" font-size="1.8" fill="#777">2</text>
<text x="338.2" y="161.1" font-size="1.8" fill="#777">1</text>
<text x="338.2" y="164.1" font-size="1.8" fill="#777">0</text>
</g>
<g>
<path d="M349.4,117.9 V196.5 H432.4" stroke="#8a8a8a" stroke-width="0.55" fill="none"/>
<path d="M362.9,196.5 v1" stroke="#8a8a8a" stroke-width="0.4"/>
<text x="362.9" y="199.6" font-size="2.3" fill="#444" text-anchor="middle">-10</text>
<path d="M378.2,196.5 v1" stroke="#8a8a8a" stroke-width="0.4"/>
<text x="378.2" y="199.6" font-size="2.3" fill="#444" text-anchor="middle">-5</text>
<path d="M393.5,196.5 v1" stroke="#8a8a8a" stroke-width="0.4"/>
<text x="393.5" y="199.6" font-size="2.3" fill="#444" text-anchor="middle">0</text>
<path d="M408.8,196.5 v1" stroke="#8a8a8a" stroke-width="0.4"/>
<text x="408.8" y="199.6" font-size="2.3" fill="#444" text-anchor="middle">5</text>
<path d="M424.1,196.5 v1" stroke="#8a8a8a" stroke-width="0.4"/>
<text x="424.1" y="199.6" font-size="2.3" fill="#444" text-anchor="middle">10</text>
<path d="M349.4,132.1 h-1" stroke="#8a8a8a" stroke-width="0.4"/>
<text x="347.6" y="132.9" font-size="2.3" fill="#444" text-anchor="end">10</text>
<path d="M349.4,150.1 h-1" stroke="#8a8a8a" stroke-width="0.4"/>
<text x="347.6" y="150.9" font-size="2.3" fill="#444" text-anchor="end">5</text>
<path d="M349.4,168.2 h-1" stroke="#8a8a8a" stroke-width="0.4"/>
<text x="347.6" y="169.0" font-size="2.3" fill="#444" text-anchor="end">0</text>
<path d="M349.4,186.2 h-1" stroke="#8a8a8a" stroke-width="0.4"/>
<text x="347.6" y="187.0" font-size="2.3" fill="#444" text-anchor="end">-5</text>
<text x="389.4" y="202.5" font-size="2.6" fill="#444" text-anchor="middle">UMAP_1</text>
<text transform="translate(344.4,157.9) rotate(-90)" font-size="2.6" fill="#444" text-anchor="middle">UMAP_2</text>
<text x="390.1" y="116.3" font-size="3.5" font-weight="bold" fill="#111" stroke="#111" stroke-width="0.12" text-anchor="middle">CYP1B1</text>
<g filter="url(#spk)"><g transform="translate(340.96,110.68) scale(0.459,0.562)">
<use href="#sTop" fill="#cfcfd2"/>
<use href="#sTopTail" stroke="#d8d8d8" stroke-width="1.2"/>
<use href="#sGray" fill="url(#gCYP)"/>
<use href="#sBig" fill="#cfcfd2"/>
<use href="#sRed" fill="#5e4ce6"/>
<use href="#sOr" fill="#cfcfd2"/>
<use href="#sTail" stroke="#c8c8cc" stroke-width="1.6"/>
<use href="#sPlt" stroke="#d4d4d8" stroke-width="1.4"/>
<circle cx="67" cy="104.7" r="1.5" fill="url(#gCYP)" opacity="0.8"/>
</g></g>
<rect x="434.0" y="150.5" width="3" height="14" fill="url(#gCB)"/>
<text x="438.2" y="152.6" font-size="1.8" fill="#777">4</text>
<text x="438.2" y="155.6" font-size="1.8" fill="#777">3</text>
<text x="438.2" y="158.6" font-size="1.8" fill="#777">2</text>
<text x="438.2" y="161.6" font-size="1.8" fill="#777">1</text>
<text x="438.2" y="164.6" font-size="1.8" fill="#777">0</text>
</g>
<g>
<path d="M251.7,208.0 V286.6 H334.7" stroke="#8a8a8a" stroke-width="0.55" fill="none"/>
<path d="M264.8,286.6 v1" stroke="#8a8a8a" stroke-width="0.4"/>
<text x="264.8" y="289.7" font-size="2.3" fill="#444" text-anchor="middle">-10</text>
<path d="M280.1,286.6 v1" stroke="#8a8a8a" stroke-width="0.4"/>
<text x="280.1" y="289.7" font-size="2.3" fill="#444" text-anchor="middle">-5</text>
<path d="M295.4,286.6 v1" stroke="#8a8a8a" stroke-width="0.4"/>
<text x="295.4" y="289.7" font-size="2.3" fill="#444" text-anchor="middle">0</text>
<path d="M310.7,286.6 v1" stroke="#8a8a8a" stroke-width="0.4"/>
<text x="310.7" y="289.7" font-size="2.3" fill="#444" text-anchor="middle">5</text>
<path d="M326.0,286.6 v1" stroke="#8a8a8a" stroke-width="0.4"/>
<text x="326.0" y="289.7" font-size="2.3" fill="#444" text-anchor="middle">10</text>
<path d="M251.7,222.7 h-1" stroke="#8a8a8a" stroke-width="0.4"/>
<text x="249.9" y="223.5" font-size="2.3" fill="#444" text-anchor="end">10</text>
<path d="M251.7,240.7 h-1" stroke="#8a8a8a" stroke-width="0.4"/>
<text x="249.9" y="241.5" font-size="2.3" fill="#444" text-anchor="end">5</text>
<path d="M251.7,258.8 h-1" stroke="#8a8a8a" stroke-width="0.4"/>
<text x="249.9" y="259.6" font-size="2.3" fill="#444" text-anchor="end">0</text>
<path d="M251.7,276.8 h-1" stroke="#8a8a8a" stroke-width="0.4"/>
<text x="249.9" y="277.6" font-size="2.3" fill="#444" text-anchor="end">-5</text>
<text x="291.7" y="292.6" font-size="2.6" fill="#444" text-anchor="middle">UMAP_1</text>
<text transform="translate(246.7,248.0) rotate(-90)" font-size="2.6" fill="#444" text-anchor="middle">UMAP_2</text>
<text x="292.4" y="206.4" font-size="3.5" font-weight="bold" fill="#111" stroke="#111" stroke-width="0.12" text-anchor="middle">LYZ</text>
<g filter="url(#spk)"><g transform="translate(242.86,201.28) scale(0.459,0.562)">
<use href="#sTop" fill="#cfcfd2"/>
<use href="#sTopTail" stroke="#d8d8d8" stroke-width="1.2"/>
<use href="#sGray" fill="#5e4ce6"/>
<use href="#sBig" fill="#cdcadd"/>
<use href="#sRed" fill="#a99cdc"/>
<use href="#sOr" fill="#cfcfd2"/>
<use href="#sTail" stroke="#c8c8cc" stroke-width="1.6"/>
<use href="#sPlt" stroke="#d4d4d8" stroke-width="1.4"/>
<circle cx="67" cy="104.7" r="1.5" fill="#5e4ce6" opacity="0.8"/>
</g></g>
<rect x="336.3" y="240.6" width="3" height="14" fill="url(#gCB)"/>
<text x="340.5" y="242.7" font-size="1.8" fill="#777">4</text>
<text x="340.5" y="245.7" font-size="1.8" fill="#777">3</text>
<text x="340.5" y="248.7" font-size="1.8" fill="#777">2</text>
<text x="340.5" y="251.7" font-size="1.8" fill="#777">1</text>
<text x="340.5" y="254.7" font-size="1.8" fill="#777">0</text>
</g>
<g>
<path d="M350.9,209.39999999999998 V288.0 H433.9" stroke="#8a8a8a" stroke-width="0.55" fill="none"/>
<path d="M364.1,288.0 v1" stroke="#8a8a8a" stroke-width="0.4"/>
<text x="364.1" y="291.1" font-size="2.3" fill="#444" text-anchor="middle">-10</text>
<path d="M379.4,288.0 v1" stroke="#8a8a8a" stroke-width="0.4"/>
<text x="379.4" y="291.1" font-size="2.3" fill="#444" text-anchor="middle">-5</text>
<path d="M394.7,288.0 v1" stroke="#8a8a8a" stroke-width="0.4"/>
<text x="394.7" y="291.1" font-size="2.3" fill="#444" text-anchor="middle">0</text>
<path d="M410.0,288.0 v1" stroke="#8a8a8a" stroke-width="0.4"/>
<text x="410.0" y="291.1" font-size="2.3" fill="#444" text-anchor="middle">5</text>
<path d="M425.3,288.0 v1" stroke="#8a8a8a" stroke-width="0.4"/>
<text x="425.3" y="291.1" font-size="2.3" fill="#444" text-anchor="middle">10</text>
<path d="M350.9,223.4 h-1" stroke="#8a8a8a" stroke-width="0.4"/>
<text x="349.1" y="224.2" font-size="2.3" fill="#444" text-anchor="end">10</text>
<path d="M350.9,241.4 h-1" stroke="#8a8a8a" stroke-width="0.4"/>
<text x="349.1" y="242.2" font-size="2.3" fill="#444" text-anchor="end">5</text>
<path d="M350.9,259.5 h-1" stroke="#8a8a8a" stroke-width="0.4"/>
<text x="349.1" y="260.3" font-size="2.3" fill="#444" text-anchor="end">0</text>
<path d="M350.9,277.5 h-1" stroke="#8a8a8a" stroke-width="0.4"/>
<text x="349.1" y="278.3" font-size="2.3" fill="#444" text-anchor="end">-5</text>
<text x="390.9" y="294.0" font-size="2.6" fill="#444" text-anchor="middle">UMAP_1</text>
<text transform="translate(345.9,249.4) rotate(-90)" font-size="2.6" fill="#444" text-anchor="middle">UMAP_2</text>
<text x="391.6" y="207.8" font-size="3.5" font-weight="bold" fill="#111" stroke="#111" stroke-width="0.12" text-anchor="middle">LGALS3</text>
<g filter="url(#spk)"><g transform="translate(342.16,201.98) scale(0.459,0.562)">
<use href="#sTop" fill="#cfcfd2"/>
<use href="#sTopTail" stroke="#d8d8d8" stroke-width="1.2"/>
<use href="#sGray" fill="#a99cdc"/>
<use href="#sBig" fill="url(#gLG)"/>
<use href="#sRed" fill="#5e4ce6"/>
<use href="#sOr" fill="#cfcfd2"/>
<use href="#sTail" stroke="#c8c8cc" stroke-width="1.6"/>
<use href="#sPlt" stroke="#d4d4d8" stroke-width="1.4"/>
<circle cx="67" cy="104.7" r="1.5" fill="#a99cdc" opacity="0.8"/>
</g></g>
<rect x="435.5" y="242.0" width="3" height="14" fill="url(#gCB)"/>
<text x="439.7" y="244.1" font-size="1.8" fill="#777">4</text>
<text x="439.7" y="247.1" font-size="1.8" fill="#777">3</text>
<text x="439.7" y="250.1" font-size="1.8" fill="#777">2</text>
<text x="439.7" y="253.1" font-size="1.8" fill="#777">1</text>
<text x="439.7" y="256.1" font-size="1.8" fill="#777">0</text>
</g>
<g>
<path d="M252.1,302.4 V381.0 H335.1" stroke="#8a8a8a" stroke-width="0.55" fill="none"/>
<path d="M265.6,381.0 v1" stroke="#8a8a8a" stroke-width="0.4"/>
<text x="265.6" y="384.1" font-size="2.3" fill="#444" text-anchor="middle">-10</text>
<path d="M280.9,381.0 v1" stroke="#8a8a8a" stroke-width="0.4"/>
<text x="280.9" y="384.1" font-size="2.3" fill="#444" text-anchor="middle">-5</text>
<path d="M296.2,381.0 v1" stroke="#8a8a8a" stroke-width="0.4"/>
<text x="296.2" y="384.1" font-size="2.3" fill="#444" text-anchor="middle">0</text>
<path d="M311.5,381.0 v1" stroke="#8a8a8a" stroke-width="0.4"/>
<text x="311.5" y="384.1" font-size="2.3" fill="#444" text-anchor="middle">5</text>
<path d="M326.8,381.0 v1" stroke="#8a8a8a" stroke-width="0.4"/>
<text x="326.8" y="384.1" font-size="2.3" fill="#444" text-anchor="middle">10</text>
<path d="M252.1,316.5 h-1" stroke="#8a8a8a" stroke-width="0.4"/>
<text x="250.3" y="317.3" font-size="2.3" fill="#444" text-anchor="end">10</text>
<path d="M252.1,334.5 h-1" stroke="#8a8a8a" stroke-width="0.4"/>
<text x="250.3" y="335.3" font-size="2.3" fill="#444" text-anchor="end">5</text>
<path d="M252.1,352.6 h-1" stroke="#8a8a8a" stroke-width="0.4"/>
<text x="250.3" y="353.4" font-size="2.3" fill="#444" text-anchor="end">0</text>
<path d="M252.1,370.6 h-1" stroke="#8a8a8a" stroke-width="0.4"/>
<text x="250.3" y="371.4" font-size="2.3" fill="#444" text-anchor="end">-5</text>
<text x="292.1" y="387.0" font-size="2.6" fill="#444" text-anchor="middle">UMAP_1</text>
<text transform="translate(247.1,342.4) rotate(-90)" font-size="2.6" fill="#444" text-anchor="middle">UMAP_2</text>
<text x="292.8" y="300.8" font-size="3.5" font-weight="bold" fill="#111" stroke="#111" stroke-width="0.12" text-anchor="middle">CD8A</text>
<g filter="url(#spk)"><g transform="translate(243.66,295.08) scale(0.459,0.562)">
<use href="#sTop" fill="#cfcfd2"/>
<use href="#sTopTail" stroke="#d8d8d8" stroke-width="1.2"/>
<use href="#sGray" fill="#cfcfd2"/>
<use href="#sBig" fill="url(#gCD8)"/>
<use href="#sRed" fill="#cfcfd2"/>
<use href="#sOr" fill="#cfcfd2"/>
<use href="#sTail" stroke="#c8c8cc" stroke-width="1.6"/>
<use href="#sPlt" stroke="#d4d4d8" stroke-width="1.4"/>
<circle cx="67" cy="104.7" r="1.5" fill="#d8d8e0" opacity="0.8"/>
</g></g>
<rect x="336.7" y="335.0" width="3" height="14" fill="url(#gCB)"/>
<text x="340.9" y="337.1" font-size="1.8" fill="#777">4</text>
<text x="340.9" y="340.1" font-size="1.8" fill="#777">3</text>
<text x="340.9" y="343.1" font-size="1.8" fill="#777">2</text>
<text x="340.9" y="346.1" font-size="1.8" fill="#777">1</text>
<text x="340.9" y="349.1" font-size="1.8" fill="#777">0</text>
</g>
<g>
<path d="M351.5,302.1 V380.70000000000005 H434.5" stroke="#8a8a8a" stroke-width="0.55" fill="none"/>
<path d="M364.9,380.70000000000005 v1" stroke="#8a8a8a" stroke-width="0.4"/>
<text x="364.9" y="383.8" font-size="2.3" fill="#444" text-anchor="middle">-10</text>
<path d="M380.2,380.70000000000005 v1" stroke="#8a8a8a" stroke-width="0.4"/>
<text x="380.2" y="383.8" font-size="2.3" fill="#444" text-anchor="middle">-5</text>
<path d="M395.5,380.70000000000005 v1" stroke="#8a8a8a" stroke-width="0.4"/>
<text x="395.5" y="383.8" font-size="2.3" fill="#444" text-anchor="middle">0</text>
<path d="M410.8,380.70000000000005 v1" stroke="#8a8a8a" stroke-width="0.4"/>
<text x="410.8" y="383.8" font-size="2.3" fill="#444" text-anchor="middle">5</text>
<path d="M426.1,380.70000000000005 v1" stroke="#8a8a8a" stroke-width="0.4"/>
<text x="426.1" y="383.8" font-size="2.3" fill="#444" text-anchor="middle">10</text>
<path d="M351.5,316.4 h-1" stroke="#8a8a8a" stroke-width="0.4"/>
<text x="349.7" y="317.2" font-size="2.3" fill="#444" text-anchor="end">10</text>
<path d="M351.5,334.4 h-1" stroke="#8a8a8a" stroke-width="0.4"/>
<text x="349.7" y="335.2" font-size="2.3" fill="#444" text-anchor="end">5</text>
<path d="M351.5,352.5 h-1" stroke="#8a8a8a" stroke-width="0.4"/>
<text x="349.7" y="353.3" font-size="2.3" fill="#444" text-anchor="end">0</text>
<path d="M351.5,370.5 h-1" stroke="#8a8a8a" stroke-width="0.4"/>
<text x="349.7" y="371.3" font-size="2.3" fill="#444" text-anchor="end">-5</text>
<text x="391.5" y="386.7" font-size="2.6" fill="#444" text-anchor="middle">UMAP_1</text>
<text transform="translate(346.5,342.1) rotate(-90)" font-size="2.6" fill="#444" text-anchor="middle">UMAP_2</text>
<text x="392.2" y="300.5" font-size="3.5" font-weight="bold" fill="#111" stroke="#111" stroke-width="0.12" text-anchor="middle">C15orf48</text>
<g filter="url(#spk)"><g transform="translate(342.96,294.98) scale(0.459,0.562)">
<use href="#sTop" fill="#cfcfd2"/>
<use href="#sTopTail" stroke="#d8d8d8" stroke-width="1.2"/>
<use href="#sGray" fill="#cfcfd2"/>
<use href="#sBig" fill="#cfcfd2"/>
<use href="#sRed" fill="#5e4ce6"/>
<use href="#sOr" fill="#cfcfd2"/>
<use href="#sTail" stroke="#c8c8cc" stroke-width="1.6"/>
<use href="#sPlt" stroke="#d4d4d8" stroke-width="1.4"/>
<circle cx="67" cy="104.7" r="1.5" fill="#d8d8e0" opacity="0.8"/>
</g></g>
<rect x="436.1" y="334.7" width="3" height="14" fill="url(#gCB)"/>
<text x="440.3" y="336.8" font-size="1.8" fill="#777">4</text>
<text x="440.3" y="339.8" font-size="1.8" fill="#777">3</text>
<text x="440.3" y="342.8" font-size="1.8" fill="#777">2</text>
<text x="440.3" y="345.8" font-size="1.8" fill="#777">1</text>
<text x="440.3" y="348.8" font-size="1.8" fill="#777">0</text>
</g>
<rect x="30.4" y="415.8" width="396.67" height="20.80" fill="#555"/>
<g stroke="#000" stroke-opacity="0.1" stroke-width="0.25">
<rect x="30.40" y="415.80" width="5.29" height="5.20" fill="#a01020"/>
<rect x="35.69" y="415.80" width="5.29" height="5.20" fill="#b81c28"/>
<rect x="40.98" y="415.80" width="5.29" height="5.20" fill="#e06a50"/>
<rect x="46.27" y="415.80" width="5.29" height="5.20" fill="#e88060"/>
<rect x="51.56" y="415.80" width="5.29" height="5.20" fill="#9a1020"/>
<rect x="56.84" y="415.80" width="5.29" height="5.20" fill="#a81525"/>
<rect x="62.13" y="415.80" width="5.29" height="5.20" fill="#80081c"/>
<rect x="67.42" y="415.80" width="5.29" height="5.20" fill="#80081c"/>
<rect x="72.71" y="415.80" width="5.29" height="5.20" fill="#80081c"/>
<rect x="78.00" y="415.80" width="5.29" height="5.20" fill="#80081c"/>
<rect x="83.29" y="415.80" width="5.29" height="5.20" fill="#80081c"/>
<rect x="88.58" y="415.80" width="5.29" height="5.20" fill="#80081c"/>
<rect x="93.87" y="415.80" width="5.29" height="5.20" fill="#7e0a1e"/>
<rect x="99.16" y="415.80" width="5.29" height="5.20" fill="#7e0a1e"/>
<rect x="104.45" y="415.80" width="5.29" height="5.20" fill="#7e0a1e"/>
<rect x="109.73" y="415.80" width="5.29" height="5.20" fill="#7e0a1e"/>
<rect x="115.02" y="415.80" width="5.29" height="5.20" fill="#7e0a1e"/>
<rect x="120.31" y="415.80" width="5.29" height="5.20" fill="#9a1020"/>
<rect x="125.60" y="415.80" width="5.29" height="5.20" fill="#8a0a1c"/>
<rect x="130.89" y="415.80" width="5.29" height="5.20" fill="#8a0a1c"/>
<rect x="136.18" y="415.80" width="5.29" height="5.20" fill="#eef3f8"/>
<rect x="141.47" y="415.80" width="5.29" height="5.20" fill="#a8cee6"/>
<rect x="146.76" y="415.80" width="5.29" height="5.20" fill="#98c4e0"/>
<rect x="152.05" y="415.80" width="5.29" height="5.20" fill="#2e6fb5"/>
<rect x="157.34" y="415.80" width="5.29" height="5.20" fill="#2a64aa"/>
<rect x="162.62" y="415.80" width="5.29" height="5.20" fill="#1f5aa0"/>
<rect x="167.91" y="415.80" width="5.29" height="5.20" fill="#2e6fb5"/>
<rect x="173.20" y="415.80" width="5.29" height="5.20" fill="#2a64aa"/>
<rect x="178.49" y="415.80" width="5.29" height="5.20" fill="#2e6fb5"/>
<rect x="183.78" y="415.80" width="5.29" height="5.20" fill="#1a5298"/>
<rect x="189.07" y="415.80" width="5.29" height="5.20" fill="#1a5298"/>
<rect x="194.36" y="415.80" width="5.29" height="5.20" fill="#1a5298"/>
<rect x="199.65" y="415.80" width="5.29" height="5.20" fill="#1a5298"/>
<rect x="204.94" y="415.80" width="5.29" height="5.20" fill="#1a5298"/>
<rect x="210.23" y="415.80" width="5.29" height="5.20" fill="#1a5298"/>
<rect x="215.51" y="415.80" width="5.29" height="5.20" fill="#2e6fb5"/>
<rect x="220.80" y="415.80" width="5.29" height="5.20" fill="#a8cee6"/>
<rect x="226.09" y="415.80" width="5.29" height="5.20" fill="#98c4e0"/>
<rect x="231.38" y="415.80" width="5.29" height="5.20" fill="#b0d4ea"/>
<rect x="236.67" y="415.80" width="5.29" height="5.20" fill="#f0a080"/>
<rect x="241.96" y="415.80" width="5.29" height="5.20" fill="#f8c8a8"/>
<rect x="247.25" y="415.80" width="5.29" height="5.20" fill="#ec9070"/>
<rect x="252.54" y="415.80" width="5.29" height="5.20" fill="#f0a080"/>
<rect x="257.83" y="415.80" width="5.29" height="5.20" fill="#fce8dc"/>
<rect x="263.12" y="415.80" width="5.29" height="5.20" fill="#fcd8c8"/>
<rect x="268.40" y="415.80" width="5.29" height="5.20" fill="#d8e8f2"/>
<rect x="273.69" y="415.80" width="5.29" height="5.20" fill="#c0dcec"/>
<rect x="278.98" y="415.80" width="5.29" height="5.20" fill="#2e6fb5"/>
<rect x="284.27" y="415.80" width="5.29" height="5.20" fill="#8cc0e0"/>
<rect x="289.56" y="415.80" width="5.29" height="5.20" fill="#6aa8d6"/>
<rect x="294.85" y="415.80" width="5.29" height="5.20" fill="#6aa8d6"/>
<rect x="300.14" y="415.80" width="5.29" height="5.20" fill="#5a9ed0"/>
<rect x="305.43" y="415.80" width="5.29" height="5.20" fill="#8cc0e0"/>
<rect x="310.72" y="415.80" width="5.29" height="5.20" fill="#1f5aa0"/>
<rect x="316.01" y="415.80" width="5.29" height="5.20" fill="#1a4c90"/>
<rect x="321.29" y="415.80" width="5.29" height="5.20" fill="#6aa8d6"/>
<rect x="326.58" y="415.80" width="5.29" height="5.20" fill="#1f5aa0"/>
<rect x="331.87" y="415.80" width="5.29" height="5.20" fill="#1f5aa0"/>
<rect x="337.16" y="415.80" width="5.29" height="5.20" fill="#1f5aa0"/>
<rect x="342.45" y="415.80" width="5.29" height="5.20" fill="#2a64aa"/>
<rect x="347.74" y="415.80" width="5.29" height="5.20" fill="#2a64aa"/>
<rect x="353.03" y="415.80" width="5.29" height="5.20" fill="#1a4c90"/>
<rect x="358.32" y="415.80" width="5.29" height="5.20" fill="#1a4c90"/>
<rect x="363.61" y="415.80" width="5.29" height="5.20" fill="#1a4c90"/>
<rect x="368.90" y="415.80" width="5.29" height="5.20" fill="#1a4c90"/>
<rect x="374.18" y="415.80" width="5.29" height="5.20" fill="#c8e0f0"/>
<rect x="379.47" y="415.80" width="5.29" height="5.20" fill="#7eb6dc"/>
<rect x="384.76" y="415.80" width="5.29" height="5.20" fill="#7eb6dc"/>
<rect x="390.05" y="415.80" width="5.29" height="5.20" fill="#8cc0e0"/>
<rect x="395.34" y="415.80" width="5.29" height="5.20" fill="#8cc0e0"/>
<rect x="400.63" y="415.80" width="5.29" height="5.20" fill="#8cc0e0"/>
<rect x="405.92" y="415.80" width="5.29" height="5.20" fill="#5a9ed0"/>
<rect x="411.21" y="415.80" width="5.29" height="5.20" fill="#2e6fb5"/>
<rect x="416.50" y="415.80" width="5.29" height="5.20" fill="#3a7cc0"/>
<rect x="421.79" y="415.80" width="5.29" height="5.20" fill="#4a8ec8"/>
<rect x="30.40" y="421.00" width="5.29" height="5.20" fill="#a8cfe6"/>
<rect x="35.69" y="421.00" width="5.29" height="5.20" fill="#a0c8e2"/>
<rect x="40.98" y="421.00" width="5.29" height="5.20" fill="#f5f5f5"/>
<rect x="46.27" y="421.00" width="5.29" height="5.20" fill="#b5d5e8"/>
<rect x="51.56" y="421.00" width="5.29" height="5.20" fill="#e0ecf4"/>
<rect x="56.84" y="421.00" width="5.29" height="5.20" fill="#f8d0b0"/>
<rect x="62.13" y="421.00" width="5.29" height="5.20" fill="#a8cce4"/>
<rect x="67.42" y="421.00" width="5.29" height="5.20" fill="#a0c8e2"/>
<rect x="72.71" y="421.00" width="5.29" height="5.20" fill="#b8d8ea"/>
<rect x="78.00" y="421.00" width="5.29" height="5.20" fill="#b0d2e8"/>
<rect x="83.29" y="421.00" width="5.29" height="5.20" fill="#a8cee6"/>
<rect x="88.58" y="421.00" width="5.29" height="5.20" fill="#a8cee6"/>
<rect x="93.87" y="421.00" width="5.29" height="5.20" fill="#a8cee6"/>
<rect x="99.16" y="421.00" width="5.29" height="5.20" fill="#b0d4ea"/>
<rect x="104.45" y="421.00" width="5.29" height="5.20" fill="#d8e8f2"/>
<rect x="109.73" y="421.00" width="5.29" height="5.20" fill="#b0d4ea"/>
<rect x="115.02" y="421.00" width="5.29" height="5.20" fill="#b0d4ea"/>
<rect x="120.31" y="421.00" width="5.29" height="5.20" fill="#4a8ec8"/>
<rect x="125.60" y="421.00" width="5.29" height="5.20" fill="#d0e4f0"/>
<rect x="130.89" y="421.00" width="5.29" height="5.20" fill="#d8e8f2"/>
<rect x="136.18" y="421.00" width="5.29" height="5.20" fill="#8a0a1c"/>
<rect x="141.47" y="421.00" width="5.29" height="5.20" fill="#c02828"/>
<rect x="146.76" y="421.00" width="5.29" height="5.20" fill="#c02828"/>
<rect x="152.05" y="421.00" width="5.29" height="5.20" fill="#b81c28"/>
<rect x="157.34" y="421.00" width="5.29" height="5.20" fill="#c02828"/>
<rect x="162.62" y="421.00" width="5.29" height="5.20" fill="#d04038"/>
<rect x="167.91" y="421.00" width="5.29" height="5.20" fill="#e06a50"/>
<rect x="173.20" y="421.00" width="5.29" height="5.20" fill="#e06a50"/>
<rect x="178.49" y="421.00" width="5.29" height="5.20" fill="#f4a080"/>
<rect x="183.78" y="421.00" width="5.29" height="5.20" fill="#f4a888"/>
<rect x="189.07" y="421.00" width="5.29" height="5.20" fill="#f4a888"/>
<rect x="194.36" y="421.00" width="5.29" height="5.20" fill="#f4a888"/>
<rect x="199.65" y="421.00" width="5.29" height="5.20" fill="#f4a888"/>
<rect x="204.94" y="421.00" width="5.29" height="5.20" fill="#f4a888"/>
<rect x="210.23" y="421.00" width="5.29" height="5.20" fill="#f4a888"/>
<rect x="215.51" y="421.00" width="5.29" height="5.20" fill="#f4a888"/>
<rect x="220.80" y="421.00" width="5.29" height="5.20" fill="#d0e4f0"/>
<rect x="226.09" y="421.00" width="5.29" height="5.20" fill="#98c4e0"/>
<rect x="231.38" y="421.00" width="5.29" height="5.20" fill="#6aa8d6"/>
<rect x="236.67" y="421.00" width="5.29" height="5.20" fill="#5a9ed0"/>
<rect x="241.96" y="421.00" width="5.29" height="5.20" fill="#3a7cc0"/>
<rect x="247.25" y="421.00" width="5.29" height="5.20" fill="#2a64aa"/>
<rect x="252.54" y="421.00" width="5.29" height="5.20" fill="#2e6fb5"/>
<rect x="257.83" y="421.00" width="5.29" height="5.20" fill="#a8cee6"/>
<rect x="263.12" y="421.00" width="5.29" height="5.20" fill="#f4a888"/>
<rect x="268.40" y="421.00" width="5.29" height="5.20" fill="#f8c8a8"/>
<rect x="273.69" y="421.00" width="5.29" height="5.20" fill="#fcd8c8"/>
<rect x="278.98" y="421.00" width="5.29" height="5.20" fill="#f0f0f0"/>
<rect x="284.27" y="421.00" width="5.29" height="5.20" fill="#fce8dc"/>
<rect x="289.56" y="421.00" width="5.29" height="5.20" fill="#fcd8c8"/>
<rect x="294.85" y="421.00" width="5.29" height="5.20" fill="#fcd8c8"/>
<rect x="300.14" y="421.00" width="5.29" height="5.20" fill="#f8c8a8"/>
<rect x="305.43" y="421.00" width="5.29" height="5.20" fill="#fcd8c8"/>
<rect x="310.72" y="421.00" width="5.29" height="5.20" fill="#f5f0ee"/>
<rect x="316.01" y="421.00" width="5.29" height="5.20" fill="#f0a080"/>
<rect x="321.29" y="421.00" width="5.29" height="5.20" fill="#3a7cc0"/>
<rect x="326.58" y="421.00" width="5.29" height="5.20" fill="#f8f8f8"/>
<rect x="331.87" y="421.00" width="5.29" height="5.20" fill="#f8f8f8"/>
<rect x="337.16" y="421.00" width="5.29" height="5.20" fill="#fcd0b8"/>
<rect x="342.45" y="421.00" width="5.29" height="5.20" fill="#fcd8c8"/>
<rect x="347.74" y="421.00" width="5.29" height="5.20" fill="#fce8dc"/>
<rect x="353.03" y="421.00" width="5.29" height="5.20" fill="#f4b090"/>
<rect x="358.32" y="421.00" width="5.29" height="5.20" fill="#f4b090"/>
<rect x="363.61" y="421.00" width="5.29" height="5.20" fill="#f0a080"/>
<rect x="368.90" y="421.00" width="5.29" height="5.20" fill="#f4b090"/>
<rect x="374.18" y="421.00" width="5.29" height="5.20" fill="#f0f4f8"/>
<rect x="379.47" y="421.00" width="5.29" height="5.20" fill="#c8e0f0"/>
<rect x="384.76" y="421.00" width="5.29" height="5.20" fill="#d8e8f2"/>
<rect x="390.05" y="421.00" width="5.29" height="5.20" fill="#c8e0f0"/>
<rect x="395.34" y="421.00" width="5.29" height="5.20" fill="#c8e0f0"/>
<rect x="400.63" y="421.00" width="5.29" height="5.20" fill="#c8e0f0"/>
<rect x="405.92" y="421.00" width="5.29" height="5.20" fill="#fcd8c8"/>
<rect x="411.21" y="421.00" width="5.29" height="5.20" fill="#f0f0f0"/>
<rect x="416.50" y="421.00" width="5.29" height="5.20" fill="#fcd8c8"/>
<rect x="421.79" y="421.00" width="5.29" height="5.20" fill="#f2f2f2"/>
<rect x="30.40" y="426.20" width="5.29" height="5.20" fill="#5a9ed0"/>
<rect x="35.69" y="426.20" width="5.29" height="5.20" fill="#4d90c8"/>
<rect x="40.98" y="426.20" width="5.29" height="5.20" fill="#1a4a90"/>
<rect x="46.27" y="426.20" width="5.29" height="5.20" fill="#2e6fb5"/>
<rect x="51.56" y="426.20" width="5.29" height="5.20" fill="#6aa8d6"/>
<rect x="56.84" y="426.20" width="5.29" height="5.20" fill="#5a9ed0"/>
<rect x="62.13" y="426.20" width="5.29" height="5.20" fill="#c8e0f0"/>
<rect x="67.42" y="426.20" width="5.29" height="5.20" fill="#d0e5f2"/>
<rect x="72.71" y="426.20" width="5.29" height="5.20" fill="#b0d2e8"/>
<rect x="78.00" y="426.20" width="5.29" height="5.20" fill="#a8cee6"/>
<rect x="83.29" y="426.20" width="5.29" height="5.20" fill="#b0d4ea"/>
<rect x="88.58" y="426.20" width="5.29" height="5.20" fill="#a8cee6"/>
<rect x="93.87" y="426.20" width="5.29" height="5.20" fill="#a8cee6"/>
<rect x="99.16" y="426.20" width="5.29" height="5.20" fill="#b0d4ea"/>
<rect x="104.45" y="426.20" width="5.29" height="5.20" fill="#98c4e0"/>
<rect x="109.73" y="426.20" width="5.29" height="5.20" fill="#a8cee6"/>
<rect x="115.02" y="426.20" width="5.29" height="5.20" fill="#b0d4ea"/>
<rect x="120.31" y="426.20" width="5.29" height="5.20" fill="#f5f5f5"/>
<rect x="125.60" y="426.20" width="5.29" height="5.20" fill="#d8e8f2"/>
<rect x="130.89" y="426.20" width="5.29" height="5.20" fill="#e0ecf4"/>
<rect x="136.18" y="426.20" width="5.29" height="5.20" fill="#5a9ed0"/>
<rect x="141.47" y="426.20" width="5.29" height="5.20" fill="#f8c8a8"/>
<rect x="146.76" y="426.20" width="5.29" height="5.20" fill="#fcd8c8"/>
<rect x="152.05" y="426.20" width="5.29" height="5.20" fill="#c8e0f0"/>
<rect x="157.34" y="426.20" width="5.29" height="5.20" fill="#fce0d0"/>
<rect x="162.62" y="426.20" width="5.29" height="5.20" fill="#f8c8a8"/>
<rect x="167.91" y="426.20" width="5.29" height="5.20" fill="#e06048"/>
<rect x="173.20" y="426.20" width="5.29" height="5.20" fill="#e87058"/>
<rect x="178.49" y="426.20" width="5.29" height="5.20" fill="#d0202a"/>
<rect x="183.78" y="426.20" width="5.29" height="5.20" fill="#d85040"/>
<rect x="189.07" y="426.20" width="5.29" height="5.20" fill="#d85040"/>
<rect x="194.36" y="426.20" width="5.29" height="5.20" fill="#d03838"/>
<rect x="199.65" y="426.20" width="5.29" height="5.20" fill="#d03838"/>
<rect x="204.94" y="426.20" width="5.29" height="5.20" fill="#d03838"/>
<rect x="210.23" y="426.20" width="5.29" height="5.20" fill="#d03838"/>
<rect x="215.51" y="426.20" width="5.29" height="5.20" fill="#d03838"/>
<rect x="220.80" y="426.20" width="5.29" height="5.20" fill="#800a1c"/>
<rect x="226.09" y="426.20" width="5.29" height="5.20" fill="#800a1c"/>
<rect x="231.38" y="426.20" width="5.29" height="5.20" fill="#800a1c"/>
<rect x="236.67" y="426.20" width="5.29" height="5.20" fill="#c02828"/>
<rect x="241.96" y="426.20" width="5.29" height="5.20" fill="#b01c26"/>
<rect x="247.25" y="426.20" width="5.29" height="5.20" fill="#d85040"/>
<rect x="252.54" y="426.20" width="5.29" height="5.20" fill="#d85040"/>
<rect x="257.83" y="426.20" width="5.29" height="5.20" fill="#9a1020"/>
<rect x="263.12" y="426.20" width="5.29" height="5.20" fill="#e88060"/>
<rect x="268.40" y="426.20" width="5.29" height="5.20" fill="#b81c28"/>
<rect x="273.69" y="426.20" width="5.29" height="5.20" fill="#a01020"/>
<rect x="278.98" y="426.20" width="5.29" height="5.20" fill="#c02828"/>
<rect x="284.27" y="426.20" width="5.29" height="5.20" fill="#8a0a1c"/>
<rect x="289.56" y="426.20" width="5.29" height="5.20" fill="#8a0a1c"/>
<rect x="294.85" y="426.20" width="5.29" height="5.20" fill="#8a0a1c"/>
<rect x="300.14" y="426.20" width="5.29" height="5.20" fill="#9a1020"/>
<rect x="305.43" y="426.20" width="5.29" height="5.20" fill="#a01020"/>
<rect x="310.72" y="426.20" width="5.29" height="5.20" fill="#f0f0f0"/>
<rect x="316.01" y="426.20" width="5.29" height="5.20" fill="#f8e8e0"/>
<rect x="321.29" y="426.20" width="5.29" height="5.20" fill="#f4a080"/>
<rect x="326.58" y="426.20" width="5.29" height="5.20" fill="#e07050"/>
<rect x="331.87" y="426.20" width="5.29" height="5.20" fill="#e07050"/>
<rect x="337.16" y="426.20" width="5.29" height="5.20" fill="#f5f5f5"/>
<rect x="342.45" y="426.20" width="5.29" height="5.20" fill="#f5f5f5"/>
<rect x="347.74" y="426.20" width="5.29" height="5.20" fill="#f5f5f5"/>
<rect x="353.03" y="426.20" width="5.29" height="5.20" fill="#f8c0a0"/>
<rect x="358.32" y="426.20" width="5.29" height="5.20" fill="#f4b090"/>
<rect x="363.61" y="426.20" width="5.29" height="5.20" fill="#fcd8c8"/>
<rect x="368.90" y="426.20" width="5.29" height="5.20" fill="#f8c0a0"/>
<rect x="374.18" y="426.20" width="5.29" height="5.20" fill="#3a7cc0"/>
<rect x="379.47" y="426.20" width="5.29" height="5.20" fill="#90c2e0"/>
<rect x="384.76" y="426.20" width="5.29" height="5.20" fill="#90c2e0"/>
<rect x="390.05" y="426.20" width="5.29" height="5.20" fill="#90c2e0"/>
<rect x="395.34" y="426.20" width="5.29" height="5.20" fill="#a8cee6"/>
<rect x="400.63" y="426.20" width="5.29" height="5.20" fill="#a8cee6"/>
<rect x="405.92" y="426.20" width="5.29" height="5.20" fill="#4a8ec8"/>
<rect x="411.21" y="426.20" width="5.29" height="5.20" fill="#d0e4f0"/>
<rect x="416.50" y="426.20" width="5.29" height="5.20" fill="#90c2e0"/>
<rect x="421.79" y="426.20" width="5.29" height="5.20" fill="#a8cee6"/>
<rect x="30.40" y="431.40" width="5.29" height="5.20" fill="#f5f0ee"/>
<rect x="35.69" y="431.40" width="5.29" height="5.20" fill="#f4b090"/>
<rect x="40.98" y="431.40" width="5.29" height="5.20" fill="#f4a888"/>
<rect x="46.27" y="431.40" width="5.29" height="5.20" fill="#e07050"/>
<rect x="51.56" y="431.40" width="5.29" height="5.20" fill="#b0d4ea"/>
<rect x="56.84" y="431.40" width="5.29" height="5.20" fill="#4a8ec8"/>
<rect x="62.13" y="431.40" width="5.29" height="5.20" fill="#a8cee6"/>
<rect x="67.42" y="431.40" width="5.29" height="5.20" fill="#b0d2e8"/>
<rect x="72.71" y="431.40" width="5.29" height="5.20" fill="#b8d8ea"/>
<rect x="78.00" y="431.40" width="5.29" height="5.20" fill="#a8cee6"/>
<rect x="83.29" y="431.40" width="5.29" height="5.20" fill="#c0dcec"/>
<rect x="88.58" y="431.40" width="5.29" height="5.20" fill="#a0c8e2"/>
<rect x="93.87" y="431.40" width="5.29" height="5.20" fill="#98c4e0"/>
<rect x="99.16" y="431.40" width="5.29" height="5.20" fill="#a0c8e2"/>
<rect x="104.45" y="431.40" width="5.29" height="5.20" fill="#98c4e0"/>
<rect x="109.73" y="431.40" width="5.29" height="5.20" fill="#a0c8e2"/>
<rect x="115.02" y="431.40" width="5.29" height="5.20" fill="#98c4e0"/>
<rect x="120.31" y="431.40" width="5.29" height="5.20" fill="#a8cee6"/>
<rect x="125.60" y="431.40" width="5.29" height="5.20" fill="#5a9ed0"/>
<rect x="130.89" y="431.40" width="5.29" height="5.20" fill="#4a8ec8"/>
<rect x="136.18" y="431.40" width="5.29" height="5.20" fill="#c8e0f0"/>
<rect x="141.47" y="431.40" width="5.29" height="5.20" fill="#2e6fb5"/>
<rect x="146.76" y="431.40" width="5.29" height="5.20" fill="#4a8ec8"/>
<rect x="152.05" y="431.40" width="5.29" height="5.20" fill="#fcd8c8"/>
<rect x="157.34" y="431.40" width="5.29" height="5.20" fill="#f0f0f0"/>
<rect x="162.62" y="431.40" width="5.29" height="5.20" fill="#eef3f8"/>
<rect x="167.91" y="431.40" width="5.29" height="5.20" fill="#a8d0e8"/>
<rect x="173.20" y="431.40" width="5.29" height="5.20" fill="#c8e0f0"/>
<rect x="178.49" y="431.40" width="5.29" height="5.20" fill="#a8d0e8"/>
<rect x="183.78" y="431.40" width="5.29" height="5.20" fill="#eef3f8"/>
<rect x="189.07" y="431.40" width="5.29" height="5.20" fill="#eef3f8"/>
<rect x="194.36" y="431.40" width="5.29" height="5.20" fill="#dceaf3"/>
<rect x="199.65" y="431.40" width="5.29" height="5.20" fill="#dceaf3"/>
<rect x="204.94" y="431.40" width="5.29" height="5.20" fill="#dceaf3"/>
<rect x="210.23" y="431.40" width="5.29" height="5.20" fill="#dceaf3"/>
<rect x="215.51" y="431.40" width="5.29" height="5.20" fill="#dceaf3"/>
<rect x="220.80" y="431.40" width="5.29" height="5.20" fill="#90c2e0"/>
<rect x="226.09" y="431.40" width="5.29" height="5.20" fill="#eef3f8"/>
<rect x="231.38" y="431.40" width="5.29" height="5.20" fill="#d0e4f0"/>
<rect x="236.67" y="431.40" width="5.29" height="5.20" fill="#5a9ed0"/>
<rect x="241.96" y="431.40" width="5.29" height="5.20" fill="#b0d4ea"/>
<rect x="247.25" y="431.40" width="5.29" height="5.20" fill="#c8e0f0"/>
<rect x="252.54" y="431.40" width="5.29" height="5.20" fill="#d0e4f0"/>
<rect x="257.83" y="431.40" width="5.29" height="5.20" fill="#3a7cc0"/>
<rect x="263.12" y="431.40" width="5.29" height="5.20" fill="#0d3a7a"/>
<rect x="268.40" y="431.40" width="5.29" height="5.20" fill="#2a64aa"/>
<rect x="273.69" y="431.40" width="5.29" height="5.20" fill="#3a7cc0"/>
<rect x="278.98" y="431.40" width="5.29" height="5.20" fill="#d8e8f2"/>
<rect x="284.27" y="431.40" width="5.29" height="5.20" fill="#8cc0e0"/>
<rect x="289.56" y="431.40" width="5.29" height="5.20" fill="#a8cee6"/>
<rect x="294.85" y="431.40" width="5.29" height="5.20" fill="#8cc0e0"/>
<rect x="300.14" y="431.40" width="5.29" height="5.20" fill="#6aa8d6"/>
<rect x="305.43" y="431.40" width="5.29" height="5.20" fill="#5a9ed0"/>
<rect x="310.72" y="431.40" width="5.29" height="5.20" fill="#c02828"/>
<rect x="316.01" y="431.40" width="5.29" height="5.20" fill="#f8c8a8"/>
<rect x="321.29" y="431.40" width="5.29" height="5.20" fill="#c02828"/>
<rect x="326.58" y="431.40" width="5.29" height="5.20" fill="#f4a888"/>
<rect x="331.87" y="431.40" width="5.29" height="5.20" fill="#f4a888"/>
<rect x="337.16" y="431.40" width="5.29" height="5.20" fill="#d04038"/>
<rect x="342.45" y="431.40" width="5.29" height="5.20" fill="#c83030"/>
<rect x="347.74" y="431.40" width="5.29" height="5.20" fill="#c02828"/>
<rect x="353.03" y="431.40" width="5.29" height="5.20" fill="#fcd0b8"/>
<rect x="358.32" y="431.40" width="5.29" height="5.20" fill="#fcd0b8"/>
<rect x="363.61" y="431.40" width="5.29" height="5.20" fill="#fcd8c8"/>
<rect x="368.90" y="431.40" width="5.29" height="5.20" fill="#fcd0b8"/>
<rect x="374.18" y="431.40" width="5.29" height="5.20" fill="#8a0a1c"/>
<rect x="379.47" y="431.40" width="5.29" height="5.20" fill="#8a0a1c"/>
<rect x="384.76" y="431.40" width="5.29" height="5.20" fill="#8a0a1c"/>
<rect x="390.05" y="431.40" width="5.29" height="5.20" fill="#8a0a1c"/>
<rect x="395.34" y="431.40" width="5.29" height="5.20" fill="#7a0a1c"/>
<rect x="400.63" y="431.40" width="5.29" height="5.20" fill="#7a0a1c"/>
<rect x="405.92" y="431.40" width="5.29" height="5.20" fill="#9a1020"/>
<rect x="411.21" y="431.40" width="5.29" height="5.20" fill="#9a1020"/>
<rect x="416.50" y="431.40" width="5.29" height="5.20" fill="#a01020"/>
<rect x="421.79" y="431.40" width="5.29" height="5.20" fill="#9a1020"/>
</g>
<g font-size="4.65" fill="#222" text-anchor="end">
<text x="29" y="420.05">Mon IFI30</text>
<text x="29" y="425.25">Mon HLA</text>
<text x="29" y="430.45">Mon CD14</text>
<text x="29" y="435.65">Mon CD16</text>
</g>
<g font-size="4.3" fill="#3a3a3a" stroke="#3a3a3a" stroke-width="0.08">
<text transform="translate(31.84,414.80) rotate(-45)">CD74</text>
<text transform="translate(37.13,414.80) rotate(-45)">HLADR</text>
<text transform="translate(42.42,414.80) rotate(-45)">HLADP</text>
<text transform="translate(47.71,414.80) rotate(-45)">HLADB</text>
<text transform="translate(53.00,414.80) rotate(-45)">HLADA</text>
<text transform="translate(58.29,414.80) rotate(-45)">HLADQ</text>
<text transform="translate(63.58,414.80) rotate(-45)">IFI30</text>
<text transform="translate(68.87,414.80) rotate(-45)">LYZ</text>
<text transform="translate(74.16,414.80) rotate(-45)">CST3</text>
<text transform="translate(79.45,414.80) rotate(-45)">FCER1</text>
<text transform="translate(84.73,414.80) rotate(-45)">TYROB</text>
<text transform="translate(90.02,414.80) rotate(-45)">AIF1</text>
<text transform="translate(95.31,414.80) rotate(-45)">LST1</text>
<text transform="translate(100.60,414.80) rotate(-45)">FTL</text>
<text transform="translate(105.89,414.80) rotate(-45)">FTH1</text>
<text transform="translate(111.18,414.80) rotate(-45)">S100A</text>
<text transform="translate(116.47,414.80) rotate(-45)">CTSS</text>
<text transform="translate(121.76,414.80) rotate(-45)">PSAP</text>
<text transform="translate(127.05,414.80) rotate(-45)">NPC2</text>
<text transform="translate(132.34,414.80) rotate(-45)">GRN</text>
<text transform="translate(137.62,414.80) rotate(-45)">CD14</text>
<text transform="translate(142.91,414.80) rotate(-45)">S100A8</text>
<text transform="translate(148.20,414.80) rotate(-45)">S100A9</text>
<text transform="translate(153.49,414.80) rotate(-45)">S100A1</text>
<text transform="translate(158.78,414.80) rotate(-45)">VCAN</text>
<text transform="translate(164.07,414.80) rotate(-45)">FCN1</text>
<text transform="translate(169.36,414.80) rotate(-45)">LGALS</text>
<text transform="translate(174.65,414.80) rotate(-45)">MNDA</text>
<text transform="translate(179.94,414.80) rotate(-45)">CSTA</text>
<text transform="translate(185.23,414.80) rotate(-45)">SERPI</text>
<text transform="translate(190.51,414.80) rotate(-45)">CD36</text>
<text transform="translate(195.80,414.80) rotate(-45)">CSF3R</text>
<text transform="translate(201.09,414.80) rotate(-45)">SELL</text>
<text transform="translate(206.38,414.80) rotate(-45)">PLBD1</text>
<text transform="translate(211.67,414.80) rotate(-45)">CPVL</text>
<text transform="translate(216.96,414.80) rotate(-45)">FCGR3</text>
<text transform="translate(222.25,414.80) rotate(-45)">MS4A7</text>
<text transform="translate(227.54,414.80) rotate(-45)">CDKN1</text>
<text transform="translate(232.83,414.80) rotate(-45)">RHOC</text>
<text transform="translate(238.12,414.80) rotate(-45)">LILRB</text>
<text transform="translate(243.40,414.80) rotate(-45)">IFITM</text>
<text transform="translate(248.69,414.80) rotate(-45)">IFIT3</text>
<text transform="translate(253.98,414.80) rotate(-45)">LYN</text>
<text transform="translate(259.27,414.80) rotate(-45)">HES4</text>
<text transform="translate(264.56,414.80) rotate(-45)">SMIM2</text>
<text transform="translate(269.85,414.80) rotate(-45)">TCF7L</text>
<text transform="translate(275.14,414.80) rotate(-45)">C1QA</text>
<text transform="translate(280.43,414.80) rotate(-45)">C1QB</text>
<text transform="translate(285.72,414.80) rotate(-45)">MT2A</text>
<text transform="translate(291.01,414.80) rotate(-45)">SOD2</text>
<text transform="translate(296.29,414.80) rotate(-45)">IDO1</text>
<text transform="translate(301.58,414.80) rotate(-45)">CXCL1</text>
<text transform="translate(306.87,414.80) rotate(-45)">GBP1</text>
<text transform="translate(312.16,414.80) rotate(-45)">STAT1</text>
<text transform="translate(317.45,414.80) rotate(-45)">ISG15</text>
<text transform="translate(322.74,414.80) rotate(-45)">IFI6</text>
<text transform="translate(328.03,414.80) rotate(-45)">MX1</text>
<text transform="translate(333.32,414.80) rotate(-45)">IFI44</text>
<text transform="translate(338.61,414.80) rotate(-45)">RSAD2</text>
<text transform="translate(343.90,414.80) rotate(-45)">OAS1</text>
<text transform="translate(349.18,414.80) rotate(-45)">HERC5</text>
<text transform="translate(354.47,414.80) rotate(-45)">IFIT1</text>
<text transform="translate(359.76,414.80) rotate(-45)">IFI27</text>
<text transform="translate(365.05,414.80) rotate(-45)">IRF7</text>
<text transform="translate(370.34,414.80) rotate(-45)">CCL2</text>
<text transform="translate(375.63,414.80) rotate(-45)">CCL8</text>
<text transform="translate(380.92,414.80) rotate(-45)">C15or</text>
<text transform="translate(386.21,414.80) rotate(-45)">CYP1B</text>
<text transform="translate(391.50,414.80) rotate(-45)">CD9</text>
<text transform="translate(396.79,414.80) rotate(-45)">SOX4</text>
<text transform="translate(402.07,414.80) rotate(-45)">CD63</text>
<text transform="translate(407.36,414.80) rotate(-45)">KLF4</text>
<text transform="translate(412.65,414.80) rotate(-45)">MAFB</text>
<text transform="translate(417.94,414.80) rotate(-45)">CEBPB</text>
<text transform="translate(423.23,414.80) rotate(-45)">NFIL3</text>
</g>
<defs><linearGradient id="gD" x1="0" y1="0" x2="0" y2="1"><stop offset="0" stop-color="#8a0a1c"/><stop offset="0.15" stop-color="#c0282e"/><stop offset="0.32" stop-color="#f0a080"/><stop offset="0.5" stop-color="#f7f7f7"/><stop offset="0.68" stop-color="#9ccae2"/><stop offset="0.85" stop-color="#3a80c0"/><stop offset="1" stop-color="#1a4c90"/></linearGradient></defs>
<rect x="429" y="415.2" width="5.6" height="22" fill="url(#gD)"/>
<g font-size="4" fill="#666">
<path d="M434.6,415.5 h1.4" stroke="#222" stroke-width="0.5"/><text x="437" y="416.9">1.5</text>
<path d="M434.6,421.9 h1.4" stroke="#222" stroke-width="0.5"/><text x="437" y="423.3">0.8</text>
<path d="M434.6,426.5 h1.4" stroke="#222" stroke-width="0.5"/><text x="437" y="427.9">0</text>
<path d="M434.6,430.8 h1.4" stroke="#222" stroke-width="0.5"/><text x="437" y="432.2">-0.8</text>
<path d="M434.6,437.1 h1.4" stroke="#222" stroke-width="0.5"/><text x="437" y="438.5">-1.5</text>
</g>
<rect x="95.9" y="476.1" width="313.39" height="67.60" fill="#555"/>
<g stroke="#000" stroke-opacity="0.12" stroke-width="0.3">
<rect x="95.90" y="476.10" width="8.47" height="8.45" fill="#c8282e"/>
<rect x="104.37" y="476.10" width="8.47" height="8.45" fill="#d03838"/>
<rect x="112.84" y="476.10" width="8.47" height="8.45" fill="#c01828"/>
<rect x="121.31" y="476.10" width="8.47" height="8.45" fill="#f09070"/>
<rect x="129.78" y="476.10" width="8.47" height="8.45" fill="#e87860"/>
<rect x="138.25" y="476.10" width="8.47" height="8.45" fill="#e06050"/>
<rect x="146.72" y="476.10" width="8.47" height="8.45" fill="#f8c0a0"/>
<rect x="155.19" y="476.10" width="8.47" height="8.45" fill="#f09070"/>
<rect x="163.66" y="476.10" width="8.47" height="8.45" fill="#f5f5f5"/>
<rect x="172.13" y="476.10" width="8.47" height="8.45" fill="#f8b898"/>
<rect x="180.60" y="476.10" width="8.47" height="8.45" fill="#fad8c5"/>
<rect x="189.07" y="476.10" width="8.47" height="8.45" fill="#e3edf5"/>
<rect x="197.54" y="476.10" width="8.47" height="8.45" fill="#f2f2f2"/>
<rect x="206.01" y="476.10" width="8.47" height="8.45" fill="#eef3f8"/>
<rect x="214.48" y="476.10" width="8.47" height="8.45" fill="#f8c8a8"/>
<rect x="222.95" y="476.10" width="8.47" height="8.45" fill="#fad8c5"/>
<rect x="231.42" y="476.10" width="8.47" height="8.45" fill="#fae0d0"/>
<rect x="239.89" y="476.10" width="8.47" height="8.45" fill="#c0dcec"/>
<rect x="248.36" y="476.10" width="8.47" height="8.45" fill="#d0e4f0"/>
<rect x="256.83" y="476.10" width="8.47" height="8.45" fill="#c8e0f0"/>
<rect x="265.30" y="476.10" width="8.47" height="8.45" fill="#a8d0e8"/>
<rect x="273.77" y="476.10" width="8.47" height="8.45" fill="#c0dcec"/>
<rect x="282.24" y="476.10" width="8.47" height="8.45" fill="#e3edf5"/>
<rect x="290.71" y="476.10" width="8.47" height="8.45" fill="#dde9f3"/>
<rect x="299.18" y="476.10" width="8.47" height="8.45" fill="#c0dcec"/>
<rect x="307.65" y="476.10" width="8.47" height="8.45" fill="#fae6dc"/>
<rect x="316.12" y="476.10" width="8.47" height="8.45" fill="#f2f2f2"/>
<rect x="324.59" y="476.10" width="8.47" height="8.45" fill="#f8b898"/>
<rect x="333.06" y="476.10" width="8.47" height="8.45" fill="#e06048"/>
<rect x="341.53" y="476.10" width="8.47" height="8.45" fill="#d8e8f2"/>
<rect x="350.00" y="476.10" width="8.47" height="8.45" fill="#1f5aa0"/>
<rect x="358.47" y="476.10" width="8.47" height="8.45" fill="#2a64aa"/>
<rect x="366.94" y="476.10" width="8.47" height="8.45" fill="#2a64aa"/>
<rect x="375.41" y="476.10" width="8.47" height="8.45" fill="#2a64aa"/>
<rect x="383.88" y="476.10" width="8.47" height="8.45" fill="#2a64aa"/>
<rect x="392.35" y="476.10" width="8.47" height="8.45" fill="#2a64aa"/>
<rect x="400.82" y="476.10" width="8.47" height="8.45" fill="#2a64aa"/>
<rect x="95.90" y="484.55" width="8.47" height="8.45" fill="#f5f5f5"/>
<rect x="104.37" y="484.55" width="8.47" height="8.45" fill="#f8eee8"/>
<rect x="112.84" y="484.55" width="8.47" height="8.45" fill="#dde9f3"/>
<rect x="121.31" y="484.55" width="8.47" height="8.45" fill="#e87058"/>
<rect x="129.78" y="484.55" width="8.47" height="8.45" fill="#f8c0a0"/>
<rect x="138.25" y="484.55" width="8.47" height="8.45" fill="#f5f3f0"/>
<rect x="146.72" y="484.55" width="8.47" height="8.45" fill="#f8c8a8"/>
<rect x="155.19" y="484.55" width="8.47" height="8.45" fill="#f8c0a0"/>
<rect x="163.66" y="484.55" width="8.47" height="8.45" fill="#f8c0a0"/>
<rect x="172.13" y="484.55" width="8.47" height="8.45" fill="#f8b898"/>
<rect x="180.60" y="484.55" width="8.47" height="8.45" fill="#f4a080"/>
<rect x="189.07" y="484.55" width="8.47" height="8.45" fill="#fcddd0"/>
<rect x="197.54" y="484.55" width="8.47" height="8.45" fill="#d03838"/>
<rect x="206.01" y="484.55" width="8.47" height="8.45" fill="#d85040"/>
<rect x="214.48" y="484.55" width="8.47" height="8.45" fill="#c8e0f0"/>
<rect x="222.95" y="484.55" width="8.47" height="8.45" fill="#90c4e2"/>
<rect x="231.42" y="484.55" width="8.47" height="8.45" fill="#dde9f3"/>
<rect x="239.89" y="484.55" width="8.47" height="8.45" fill="#a8d0e8"/>
<rect x="248.36" y="484.55" width="8.47" height="8.45" fill="#b0d4ea"/>
<rect x="256.83" y="484.55" width="8.47" height="8.45" fill="#a8d0e8"/>
<rect x="265.30" y="484.55" width="8.47" height="8.45" fill="#c8e0f0"/>
<rect x="273.77" y="484.55" width="8.47" height="8.45" fill="#7eb6dc"/>
<rect x="282.24" y="484.55" width="8.47" height="8.45" fill="#a8d0e8"/>
<rect x="290.71" y="484.55" width="8.47" height="8.45" fill="#b8d8ea"/>
<rect x="299.18" y="484.55" width="8.47" height="8.45" fill="#c8e0f0"/>
<rect x="307.65" y="484.55" width="8.47" height="8.45" fill="#c8e0f0"/>
<rect x="316.12" y="484.55" width="8.47" height="8.45" fill="#dde9f3"/>
<rect x="324.59" y="484.55" width="8.47" height="8.45" fill="#d8e8f2"/>
<rect x="333.06" y="484.55" width="8.47" height="8.45" fill="#f2f2f2"/>
<rect x="341.53" y="484.55" width="8.47" height="8.45" fill="#eef3f8"/>
<rect x="350.00" y="484.55" width="8.47" height="8.45" fill="#6aa8d6"/>
<rect x="358.47" y="484.55" width="8.47" height="8.45" fill="#2e6fb5"/>
<rect x="366.94" y="484.55" width="8.47" height="8.45" fill="#f5f5f5"/>
<rect x="375.41" y="484.55" width="8.47" height="8.45" fill="#2e6fb5"/>
<rect x="383.88" y="484.55" width="8.47" height="8.45" fill="#2e6fb5"/>
<rect x="392.35" y="484.55" width="8.47" height="8.45" fill="#2e6fb5"/>
<rect x="400.82" y="484.55" width="8.47" height="8.45" fill="#3a80c0"/>
<rect x="95.90" y="493.00" width="8.47" height="8.45" fill="#f5f5f5"/>
<rect x="104.37" y="493.00" width="8.47" height="8.45" fill="#e3edf5"/>
<rect x="112.84" y="493.00" width="8.47" height="8.45" fill="#fae6dc"/>
<rect x="121.31" y="493.00" width="8.47" height="8.45" fill="#f5f5f5"/>
<rect x="129.78" y="493.00" width="8.47" height="8.45" fill="#fad8c5"/>
<rect x="138.25" y="493.00" width="8.47" height="8.45" fill="#f8c0a0"/>
<rect x="146.72" y="493.00" width="8.47" height="8.45" fill="#f09070"/>
<rect x="155.19" y="493.00" width="8.47" height="8.45" fill="#fad8c5"/>
<rect x="163.66" y="493.00" width="8.47" height="8.45" fill="#f8c0a0"/>
<rect x="172.13" y="493.00" width="8.47" height="8.45" fill="#fae6dc"/>
<rect x="180.60" y="493.00" width="8.47" height="8.45" fill="#f8eee8"/>
<rect x="189.07" y="493.00" width="8.47" height="8.45" fill="#d03030"/>
<rect x="197.54" y="493.00" width="8.47" height="8.45" fill="#f8c8a8"/>
<rect x="206.01" y="493.00" width="8.47" height="8.45" fill="#f4a080"/>
<rect x="214.48" y="493.00" width="8.47" height="8.45" fill="#e87058"/>
<rect x="222.95" y="493.00" width="8.47" height="8.45" fill="#d03838"/>
<rect x="231.42" y="493.00" width="8.47" height="8.45" fill="#c01828"/>
<rect x="239.89" y="493.00" width="8.47" height="8.45" fill="#800a1c"/>
<rect x="248.36" y="493.00" width="8.47" height="8.45" fill="#8a0a1c"/>
<rect x="256.83" y="493.00" width="8.47" height="8.45" fill="#8a0a1c"/>
<rect x="265.30" y="493.00" width="8.47" height="8.45" fill="#8a0a1c"/>
<rect x="273.77" y="493.00" width="8.47" height="8.45" fill="#8a0a1c"/>
<rect x="282.24" y="493.00" width="8.47" height="8.45" fill="#8a0a1c"/>
<rect x="290.71" y="493.00" width="8.47" height="8.45" fill="#8a0a1c"/>
<rect x="299.18" y="493.00" width="8.47" height="8.45" fill="#b0d4ea"/>
<rect x="307.65" y="493.00" width="8.47" height="8.45" fill="#a8d0e8"/>
<rect x="316.12" y="493.00" width="8.47" height="8.45" fill="#fae6dc"/>
<rect x="324.59" y="493.00" width="8.47" height="8.45" fill="#d8e8f2"/>
<rect x="333.06" y="493.00" width="8.47" height="8.45" fill="#c0dcec"/>
<rect x="341.53" y="493.00" width="8.47" height="8.45" fill="#2e6fb5"/>
<rect x="350.00" y="493.00" width="8.47" height="8.45" fill="#2e6fb5"/>
<rect x="358.47" y="493.00" width="8.47" height="8.45" fill="#2e6fb5"/>
<rect x="366.94" y="493.00" width="8.47" height="8.45" fill="#6aa8d6"/>
<rect x="375.41" y="493.00" width="8.47" height="8.45" fill="#dde9f3"/>
<rect x="383.88" y="493.00" width="8.47" height="8.45" fill="#1a4c90"/>
<rect x="392.35" y="493.00" width="8.47" height="8.45" fill="#2e6fb5"/>
<rect x="400.82" y="493.00" width="8.47" height="8.45" fill="#2e6fb5"/>
<rect x="95.90" y="501.45" width="8.47" height="8.45" fill="#2e6fb5"/>
<rect x="104.37" y="501.45" width="8.47" height="8.45" fill="#eef3f8"/>
<rect x="112.84" y="501.45" width="8.47" height="8.45" fill="#7eb6dc"/>
<rect x="121.31" y="501.45" width="8.47" height="8.45" fill="#3a80c0"/>
<rect x="129.78" y="501.45" width="8.47" height="8.45" fill="#3a80c0"/>
<rect x="138.25" y="501.45" width="8.47" height="8.45" fill="#3a80c0"/>
<rect x="146.72" y="501.45" width="8.47" height="8.45" fill="#7eb6dc"/>
<rect x="155.19" y="501.45" width="8.47" height="8.45" fill="#c8e0f0"/>
<rect x="163.66" y="501.45" width="8.47" height="8.45" fill="#f8c8a8"/>
<rect x="172.13" y="501.45" width="8.47" height="8.45" fill="#faeae2"/>
<rect x="180.60" y="501.45" width="8.47" height="8.45" fill="#fad8c5"/>
<rect x="189.07" y="501.45" width="8.47" height="8.45" fill="#d0e4f0"/>
<rect x="197.54" y="501.45" width="8.47" height="8.45" fill="#4a90c8"/>
<rect x="206.01" y="501.45" width="8.47" height="8.45" fill="#2e6fb5"/>
<rect x="214.48" y="501.45" width="8.47" height="8.45" fill="#7eb6dc"/>
<rect x="222.95" y="501.45" width="8.47" height="8.45" fill="#2a64aa"/>
<rect x="231.42" y="501.45" width="8.47" height="8.45" fill="#2e6fb5"/>
<rect x="239.89" y="501.45" width="8.47" height="8.45" fill="#3a80c0"/>
<rect x="248.36" y="501.45" width="8.47" height="8.45" fill="#3a80c0"/>
<rect x="256.83" y="501.45" width="8.47" height="8.45" fill="#eef3f8"/>
<rect x="265.30" y="501.45" width="8.47" height="8.45" fill="#e3edf5"/>
<rect x="273.77" y="501.45" width="8.47" height="8.45" fill="#90c4e2"/>
<rect x="282.24" y="501.45" width="8.47" height="8.45" fill="#b8d8ea"/>
<rect x="290.71" y="501.45" width="8.47" height="8.45" fill="#7eb6dc"/>
<rect x="299.18" y="501.45" width="8.47" height="8.45" fill="#9a1020"/>
<rect x="307.65" y="501.45" width="8.47" height="8.45" fill="#c01828"/>
<rect x="316.12" y="501.45" width="8.47" height="8.45" fill="#d85040"/>
<rect x="324.59" y="501.45" width="8.47" height="8.45" fill="#e06048"/>
<rect x="333.06" y="501.45" width="8.47" height="8.45" fill="#f8b898"/>
<rect x="341.53" y="501.45" width="8.47" height="8.45" fill="#b8d8ea"/>
<rect x="350.00" y="501.45" width="8.47" height="8.45" fill="#2e6fb5"/>
<rect x="358.47" y="501.45" width="8.47" height="8.45" fill="#2e6fb5"/>
<rect x="366.94" y="501.45" width="8.47" height="8.45" fill="#174a8a"/>
<rect x="375.41" y="501.45" width="8.47" height="8.45" fill="#1f5aa0"/>
<rect x="383.88" y="501.45" width="8.47" height="8.45" fill="#3a80c0"/>
<rect x="392.35" y="501.45" width="8.47" height="8.45" fill="#2e6fb5"/>
<rect x="400.82" y="501.45" width="8.47" height="8.45" fill="#3a80c0"/>
<rect x="95.90" y="509.90" width="8.47" height="8.45" fill="#174a8a"/>
<rect x="104.37" y="509.90" width="8.47" height="8.45" fill="#2e6fb5"/>
<rect x="112.84" y="509.90" width="8.47" height="8.45" fill="#2e6fb5"/>
<rect x="121.31" y="509.90" width="8.47" height="8.45" fill="#3a80c0"/>
<rect x="129.78" y="509.90" width="8.47" height="8.45" fill="#0d3a7a"/>
<rect x="138.25" y="509.90" width="8.47" height="8.45" fill="#2e6fb5"/>
<rect x="146.72" y="509.90" width="8.47" height="8.45" fill="#2e6fb5"/>
<rect x="155.19" y="509.90" width="8.47" height="8.45" fill="#2e6fb5"/>
<rect x="163.66" y="509.90" width="8.47" height="8.45" fill="#3a80c0"/>
<rect x="172.13" y="509.90" width="8.47" height="8.45" fill="#2e6fb5"/>
<rect x="180.60" y="509.90" width="8.47" height="8.45" fill="#2e6fb5"/>
<rect x="189.07" y="509.90" width="8.47" height="8.45" fill="#2e6fb5"/>
<rect x="197.54" y="509.90" width="8.47" height="8.45" fill="#174a8a"/>
<rect x="206.01" y="509.90" width="8.47" height="8.45" fill="#2e6fb5"/>
<rect x="214.48" y="509.90" width="8.47" height="8.45" fill="#f5f5f5"/>
<rect x="222.95" y="509.90" width="8.47" height="8.45" fill="#1f5aa0"/>
<rect x="231.42" y="509.90" width="8.47" height="8.45" fill="#2e6fb5"/>
<rect x="239.89" y="509.90" width="8.47" height="8.45" fill="#4a90c8"/>
<rect x="248.36" y="509.90" width="8.47" height="8.45" fill="#4a90c8"/>
<rect x="256.83" y="509.90" width="8.47" height="8.45" fill="#3a80c0"/>
<rect x="265.30" y="509.90" width="8.47" height="8.45" fill="#3a80c0"/>
<rect x="273.77" y="509.90" width="8.47" height="8.45" fill="#4a90c8"/>
<rect x="282.24" y="509.90" width="8.47" height="8.45" fill="#3a80c0"/>
<rect x="290.71" y="509.90" width="8.47" height="8.45" fill="#4a90c8"/>
<rect x="299.18" y="509.90" width="8.47" height="8.45" fill="#b0d4ea"/>
<rect x="307.65" y="509.90" width="8.47" height="8.45" fill="#1a4c90"/>
<rect x="316.12" y="509.90" width="8.47" height="8.45" fill="#2e6fb5"/>
<rect x="324.59" y="509.90" width="8.47" height="8.45" fill="#2e6fb5"/>
<rect x="333.06" y="509.90" width="8.47" height="8.45" fill="#3a80c0"/>
<rect x="341.53" y="509.90" width="8.47" height="8.45" fill="#c8202c"/>
<rect x="350.00" y="509.90" width="8.47" height="8.45" fill="#e06048"/>
<rect x="358.47" y="509.90" width="8.47" height="8.45" fill="#d04038"/>
<rect x="366.94" y="509.90" width="8.47" height="8.45" fill="#1f5aa0"/>
<rect x="375.41" y="509.90" width="8.47" height="8.45" fill="#3a80c0"/>
<rect x="383.88" y="509.90" width="8.47" height="8.45" fill="#e3edf5"/>
<rect x="392.35" y="509.90" width="8.47" height="8.45" fill="#e8f0f5"/>
<rect x="400.82" y="509.90" width="8.47" height="8.45" fill="#d0e4f0"/>
<rect x="95.90" y="518.35" width="8.47" height="8.45" fill="#4a90c8"/>
<rect x="104.37" y="518.35" width="8.47" height="8.45" fill="#2e6fb5"/>
<rect x="112.84" y="518.35" width="8.47" height="8.45" fill="#3a80c0"/>
<rect x="121.31" y="518.35" width="8.47" height="8.45" fill="#4a90c8"/>
<rect x="129.78" y="518.35" width="8.47" height="8.45" fill="#90c4e2"/>
<rect x="138.25" y="518.35" width="8.47" height="8.45" fill="#3a80c0"/>
<rect x="146.72" y="518.35" width="8.47" height="8.45" fill="#2e6fb5"/>
<rect x="155.19" y="518.35" width="8.47" height="8.45" fill="#2e6fb5"/>
<rect x="163.66" y="518.35" width="8.47" height="8.45" fill="#1f5aa0"/>
<rect x="172.13" y="518.35" width="8.47" height="8.45" fill="#3a80c0"/>
<rect x="180.60" y="518.35" width="8.47" height="8.45" fill="#4a90c8"/>
<rect x="189.07" y="518.35" width="8.47" height="8.45" fill="#2e6fb5"/>
<rect x="197.54" y="518.35" width="8.47" height="8.45" fill="#6aa8d6"/>
<rect x="206.01" y="518.35" width="8.47" height="8.45" fill="#3a80c0"/>
<rect x="214.48" y="518.35" width="8.47" height="8.45" fill="#0d3a7a"/>
<rect x="222.95" y="518.35" width="8.47" height="8.45" fill="#f2f2f2"/>
<rect x="231.42" y="518.35" width="8.47" height="8.45" fill="#4a90c8"/>
<rect x="239.89" y="518.35" width="8.47" height="8.45" fill="#4a90c8"/>
<rect x="248.36" y="518.35" width="8.47" height="8.45" fill="#4a90c8"/>
<rect x="256.83" y="518.35" width="8.47" height="8.45" fill="#4a90c8"/>
<rect x="265.30" y="518.35" width="8.47" height="8.45" fill="#4a90c8"/>
<rect x="273.77" y="518.35" width="8.47" height="8.45" fill="#a8d0e8"/>
<rect x="282.24" y="518.35" width="8.47" height="8.45" fill="#4a90c8"/>
<rect x="290.71" y="518.35" width="8.47" height="8.45" fill="#4a90c8"/>
<rect x="299.18" y="518.35" width="8.47" height="8.45" fill="#3a80c0"/>
<rect x="307.65" y="518.35" width="8.47" height="8.45" fill="#90c4e2"/>
<rect x="316.12" y="518.35" width="8.47" height="8.45" fill="#2e6fb5"/>
<rect x="324.59" y="518.35" width="8.47" height="8.45" fill="#2e6fb5"/>
<rect x="333.06" y="518.35" width="8.47" height="8.45" fill="#2e6fb5"/>
<rect x="341.53" y="518.35" width="8.47" height="8.45" fill="#6aa8d6"/>
<rect x="350.00" y="518.35" width="8.47" height="8.45" fill="#a8d0e8"/>
<rect x="358.47" y="518.35" width="8.47" height="8.45" fill="#b0d4ea"/>
<rect x="366.94" y="518.35" width="8.47" height="8.45" fill="#faeae2"/>
<rect x="375.41" y="518.35" width="8.47" height="8.45" fill="#fae6dc"/>
<rect x="383.88" y="518.35" width="8.47" height="8.45" fill="#fad8c5"/>
<rect x="392.35" y="518.35" width="8.47" height="8.45" fill="#eef3f8"/>
<rect x="400.82" y="518.35" width="8.47" height="8.45" fill="#eef3f8"/>
<rect x="95.90" y="526.80" width="8.47" height="8.45" fill="#a8d0e8"/>
<rect x="104.37" y="526.80" width="8.47" height="8.45" fill="#2e6fb5"/>
<rect x="112.84" y="526.80" width="8.47" height="8.45" fill="#3a80c0"/>
<rect x="121.31" y="526.80" width="8.47" height="8.45" fill="#2e6fb5"/>
<rect x="129.78" y="526.80" width="8.47" height="8.45" fill="#3a80c0"/>
<rect x="138.25" y="526.80" width="8.47" height="8.45" fill="#3a80c0"/>
<rect x="146.72" y="526.80" width="8.47" height="8.45" fill="#3a80c0"/>
<rect x="155.19" y="526.80" width="8.47" height="8.45" fill="#2e6fb5"/>
<rect x="163.66" y="526.80" width="8.47" height="8.45" fill="#2e6fb5"/>
<rect x="172.13" y="526.80" width="8.47" height="8.45" fill="#2a64aa"/>
<rect x="180.60" y="526.80" width="8.47" height="8.45" fill="#1f5aa0"/>
<rect x="189.07" y="526.80" width="8.47" height="8.45" fill="#3a80c0"/>
<rect x="197.54" y="526.80" width="8.47" height="8.45" fill="#2e6fb5"/>
<rect x="206.01" y="526.80" width="8.47" height="8.45" fill="#6aa8d6"/>
<rect x="214.48" y="526.80" width="8.47" height="8.45" fill="#1f5aa0"/>
<rect x="222.95" y="526.80" width="8.47" height="8.45" fill="#4a90c8"/>
<rect x="231.42" y="526.80" width="8.47" height="8.45" fill="#3a80c0"/>
<rect x="239.89" y="526.80" width="8.47" height="8.45" fill="#4a90c8"/>
<rect x="248.36" y="526.80" width="8.47" height="8.45" fill="#4a90c8"/>
<rect x="256.83" y="526.80" width="8.47" height="8.45" fill="#3a80c0"/>
<rect x="265.30" y="526.80" width="8.47" height="8.45" fill="#3a80c0"/>
<rect x="273.77" y="526.80" width="8.47" height="8.45" fill="#3a80c0"/>
<rect x="282.24" y="526.80" width="8.47" height="8.45" fill="#3a80c0"/>
<rect x="290.71" y="526.80" width="8.47" height="8.45" fill="#3a80c0"/>
<rect x="299.18" y="526.80" width="8.47" height="8.45" fill="#2e6fb5"/>
<rect x="307.65" y="526.80" width="8.47" height="8.45" fill="#3a80c0"/>
<rect x="316.12" y="526.80" width="8.47" height="8.45" fill="#2e6fb5"/>
<rect x="324.59" y="526.80" width="8.47" height="8.45" fill="#2e6fb5"/>
<rect x="333.06" y="526.80" width="8.47" height="8.45" fill="#2e6fb5"/>
<rect x="341.53" y="526.80" width="8.47" height="8.45" fill="#0d3a7a"/>
<rect x="350.00" y="526.80" width="8.47" height="8.45" fill="#f8eee8"/>
<rect x="358.47" y="526.80" width="8.47" height="8.45" fill="#f2f2f2"/>
<rect x="366.94" y="526.80" width="8.47" height="8.45" fill="#f8c0a0"/>
<rect x="375.41" y="526.80" width="8.47" height="8.45" fill="#e06048"/>
<rect x="383.88" y="526.80" width="8.47" height="8.45" fill="#fad8c5"/>
<rect x="392.35" y="526.80" width="8.47" height="8.45" fill="#e87058"/>
<rect x="400.82" y="526.80" width="8.47" height="8.45" fill="#e06048"/>
<rect x="95.90" y="535.25" width="8.47" height="8.45" fill="#6aa8d6"/>
<rect x="104.37" y="535.25" width="8.47" height="8.45" fill="#2e6fb5"/>
<rect x="112.84" y="535.25" width="8.47" height="8.45" fill="#2e6fb5"/>
<rect x="121.31" y="535.25" width="8.47" height="8.45" fill="#3a80c0"/>
<rect x="129.78" y="535.25" width="8.47" height="8.45" fill="#3a80c0"/>
<rect x="138.25" y="535.25" width="8.47" height="8.45" fill="#2e6fb5"/>
<rect x="146.72" y="535.25" width="8.47" height="8.45" fill="#3a80c0"/>
<rect x="155.19" y="535.25" width="8.47" height="8.45" fill="#2e6fb5"/>
<rect x="163.66" y="535.25" width="8.47" height="8.45" fill="#2a64aa"/>
<rect x="172.13" y="535.25" width="8.47" height="8.45" fill="#2a64aa"/>
<rect x="180.60" y="535.25" width="8.47" height="8.45" fill="#2e6fb5"/>
<rect x="189.07" y="535.25" width="8.47" height="8.45" fill="#3a80c0"/>
<rect x="197.54" y="535.25" width="8.47" height="8.45" fill="#4a90c8"/>
<rect x="206.01" y="535.25" width="8.47" height="8.45" fill="#3a80c0"/>
<rect x="214.48" y="535.25" width="8.47" height="8.45" fill="#2e6fb5"/>
<rect x="222.95" y="535.25" width="8.47" height="8.45" fill="#4a90c8"/>
<rect x="231.42" y="535.25" width="8.47" height="8.45" fill="#3a80c0"/>
<rect x="239.89" y="535.25" width="8.47" height="8.45" fill="#4a90c8"/>
<rect x="248.36" y="535.25" width="8.47" height="8.45" fill="#4a90c8"/>
<rect x="256.83" y="535.25" width="8.47" height="8.45" fill="#3a80c0"/>
<rect x="265.30" y="535.25" width="8.47" height="8.45" fill="#3a80c0"/>
<rect x="273.77" y="535.25" width="8.47" height="8.45" fill="#3a80c0"/>
<rect x="282.24" y="535.25" width="8.47" height="8.45" fill="#3a80c0"/>
<rect x="290.71" y="535.25" width="8.47" height="8.45" fill="#3a80c0"/>
<rect x="299.18" y="535.25" width="8.47" height="8.45" fill="#3a80c0"/>
<rect x="307.65" y="535.25" width="8.47" height="8.45" fill="#3a80c0"/>
<rect x="316.12" y="535.25" width="8.47" height="8.45" fill="#2e6fb5"/>
<rect x="324.59" y="535.25" width="8.47" height="8.45" fill="#2e6fb5"/>
<rect x="333.06" y="535.25" width="8.47" height="8.45" fill="#2e6fb5"/>
<rect x="341.53" y="535.25" width="8.47" height="8.45" fill="#6aa8d6"/>
<rect x="350.00" y="535.25" width="8.47" height="8.45" fill="#f8c0a0"/>
<rect x="358.47" y="535.25" width="8.47" height="8.45" fill="#fad8c5"/>
<rect x="366.94" y="535.25" width="8.47" height="8.45" fill="#f8c0a0"/>
<rect x="375.41" y="535.25" width="8.47" height="8.45" fill="#fad8c5"/>
<rect x="383.88" y="535.25" width="8.47" height="8.45" fill="#f4a080"/>
<rect x="392.35" y="535.25" width="8.47" height="8.45" fill="#f8c0a0"/>
<rect x="400.82" y="535.25" width="8.47" height="8.45" fill="#f8c0a0"/>
</g>
<g font-size="6.9" fill="#111" text-anchor="end" stroke="#111" stroke-width="0.16">
<text transform="translate(93.6,482.73) scale(0.875,1)">Severe/Critical Delta Mon IFI30</text>
<text transform="translate(93.6,491.18) scale(0.875,1)">Severe/Critical Delta Mon HLA</text>
<text transform="translate(93.6,499.62) scale(0.875,1)">Severe/Critical Delta Mon CD14</text>
<text transform="translate(93.6,508.08) scale(0.875,1)">Severe/Critical Delta Mon CD16</text>
<text transform="translate(93.6,516.52) scale(0.875,1)">Severe/Critical Mon CD16</text>
<text transform="translate(93.6,524.98) scale(0.875,1)">Severe/Critical Mon IFI30</text>
<text transform="translate(93.6,533.43) scale(0.875,1)">Severe/Critical Mon CD14</text>
<text transform="translate(93.6,541.88) scale(0.875,1)">Severe/Critical Mon HLA</text>
</g>
<g font-size="7" fill="#111" stroke="#111" stroke-width="0.2">
<text transform="translate(103.04,473.30) rotate(-90) scale(0.84,1)">IL6R</text>
<text transform="translate(111.51,473.30) rotate(-90) scale(0.84,1)">TNFRSF18</text>
<text transform="translate(119.98,473.30) rotate(-90) scale(0.84,1)">TNFSF14</text>
<text transform="translate(128.44,473.30) rotate(-90) scale(0.84,1)">CCR5</text>
<text transform="translate(136.92,473.30) rotate(-90) scale(0.84,1)">CCR1</text>
<text transform="translate(145.39,473.30) rotate(-90) scale(0.84,1)">IL1R1</text>
<text transform="translate(153.86,473.30) rotate(-90) scale(0.84,1)">PLEKHO2</text>
<text transform="translate(162.33,473.30) rotate(-90) scale(0.84,1)">VEGFB</text>
<text transform="translate(170.80,473.30) rotate(-90) scale(0.84,1)">IL10RB</text>
<text transform="translate(179.27,473.30) rotate(-90) scale(0.84,1)">IFNAR1</text>
<text transform="translate(187.74,473.30) rotate(-90) scale(0.84,1)">IFNAR2</text>
<text transform="translate(196.21,473.30) rotate(-90) scale(0.84,1)">TGFBR1</text>
<text transform="translate(204.68,473.30) rotate(-90) scale(0.84,1)">IL13RA1</text>
<text transform="translate(213.15,473.30) rotate(-90) scale(0.84,1)">IL6ST</text>
<text transform="translate(221.62,473.30) rotate(-90) scale(0.84,1)">TNFRSF1B</text>
<text transform="translate(230.09,473.30) rotate(-90) scale(0.84,1)">CCL3</text>
<text transform="translate(238.56,473.30) rotate(-90) scale(0.84,1)">VEGFA</text>
<text transform="translate(247.03,473.30) rotate(-90) scale(0.84,1)">CCL5</text>
<text transform="translate(255.50,473.30) rotate(-90) scale(0.84,1)">PPBP</text>
<text transform="translate(263.97,473.30) rotate(-90) scale(0.84,1)">CCL4</text>
<text transform="translate(272.44,473.30) rotate(-90) scale(0.84,1)">CXCR4</text>
<text transform="translate(280.90,473.30) rotate(-90) scale(0.84,1)">IL7R</text>
<text transform="translate(289.38,473.30) rotate(-90) scale(0.84,1)">CXCL8</text>
<text transform="translate(297.85,473.30) rotate(-90) scale(0.84,1)">PF4</text>
<text transform="translate(306.32,473.30) rotate(-90) scale(0.84,1)">CXCL16</text>
<text transform="translate(314.79,473.30) rotate(-90) scale(0.84,1)">CSF2RA</text>
<text transform="translate(323.25,473.30) rotate(-90) scale(0.84,1)">IL2RG</text>
<text transform="translate(331.73,473.30) rotate(-90) scale(0.84,1)">TNFRSF4</text>
<text transform="translate(340.20,473.30) rotate(-90) scale(0.84,1)">IL3RA</text>
<text transform="translate(348.67,473.30) rotate(-90) scale(0.84,1)">CSF1R</text>
<text transform="translate(357.13,473.30) rotate(-90) scale(0.84,1)">TNFSF10</text>
<text transform="translate(365.61,473.30) rotate(-90) scale(0.84,1)">TNFSF13</text>
<text transform="translate(374.08,473.30) rotate(-90) scale(0.84,1)">CCR2</text>
<text transform="translate(382.55,473.30) rotate(-90) scale(0.84,1)">CSF3R</text>
<text transform="translate(391.01,473.30) rotate(-90) scale(0.84,1)">LTBR</text>
<text transform="translate(399.49,473.30) rotate(-90) scale(0.84,1)">PDGFA</text>
<text transform="translate(407.96,473.30) rotate(-90) scale(0.84,1)">TNFSF13B</text>
</g>
<defs><linearGradient id="gE" x1="0" y1="0" x2="0" y2="1"><stop offset="0" stop-color="#6e0a1e"/><stop offset="0.13" stop-color="#b01c2c"/><stop offset="0.27" stop-color="#d8604c"/><stop offset="0.4" stop-color="#f4b090"/><stop offset="0.54" stop-color="#f6f6f6"/><stop offset="0.67" stop-color="#b6d6ea"/><stop offset="0.8" stop-color="#5a9ed0"/><stop offset="0.91" stop-color="#2a64aa"/><stop offset="1" stop-color="#1a4a88"/></linearGradient></defs>
<rect x="413.6" y="476.1" width="11.4" height="67.6" fill="url(#gE)"/>
<g font-size="5.3" fill="#222" stroke="#222" stroke-width="0.12">
<path d="M425,476.4 h1.4" stroke="#222" stroke-width="0.4"/><text x="429.4" y="478.3">2.42</text>
<path d="M425,483.1 h1.4" stroke="#222" stroke-width="0.4"/><text x="429.4" y="485.0">2.06</text>
<path d="M425,489.8 h1.4" stroke="#222" stroke-width="0.4"/><text x="429.4" y="491.7">1.69</text>
<path d="M425,496.6 h1.4" stroke="#222" stroke-width="0.4"/><text x="429.4" y="498.5">1.32</text>
<path d="M425,503.3 h1.4" stroke="#222" stroke-width="0.4"/><text x="429.4" y="505.2">0.95</text>
<path d="M425,510.0 h1.4" stroke="#222" stroke-width="0.4"/><text x="429.4" y="511.9">0.58</text>
<path d="M425,516.7 h1.4" stroke="#222" stroke-width="0.4"/><text x="429.4" y="518.6">0.22</text>
<path d="M425,523.4 h1.4" stroke="#222" stroke-width="0.4"/><text x="429.4" y="525.3">−0.15</text>
<path d="M425,530.2 h1.4" stroke="#222" stroke-width="0.4"/><text x="429.4" y="532.1">−0.52</text>
<path d="M425,536.9 h1.4" stroke="#222" stroke-width="0.4"/><text x="429.4" y="538.8">−0.89</text>
<path d="M425,543.6 h1.4" stroke="#222" stroke-width="0.4"/><text x="429.4" y="545.5">−1.26</text>
</g>
</svg></body></html>
